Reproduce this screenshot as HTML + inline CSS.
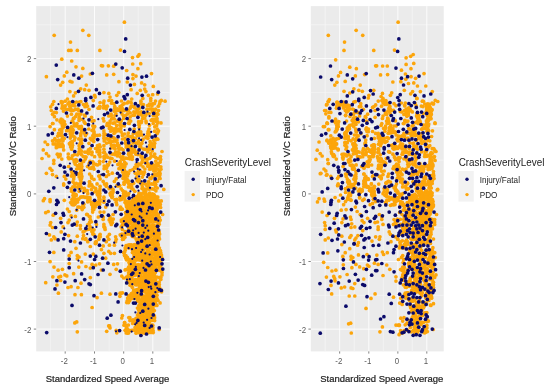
<!DOCTYPE html>
<html><head><meta charset="utf-8"><title>Crash severity scatter plots</title>
<style>
html,body{margin:0;padding:0;background:#fff}
svg{display:block}
text{font-family:"Liberation Sans",sans-serif}
.tk text{font-size:9.2px;fill:#595959}
.ax{font-size:9.1px;fill:#1f1f1f;stroke:#1f1f1f;stroke-width:0.22px}
.lt{font-size:10.6px;fill:#222}
.ll{font-size:9.2px;fill:#222}
</style></head><body>
<svg width="550" height="389" viewBox="0 0 550 389">
<rect width="550" height="389" fill="#fff"/>
<rect x="36.2" y="6.1" width="133.6" height="345.3" fill="#ebebeb"/>
<path d="M50.7 6.1V351.4M79.9 6.1V351.4M109.1 6.1V351.4M138.2 6.1V351.4M36.2 24.8H169.8M36.2 92.4H169.8M36.2 160.1H169.8M36.2 227.7H169.8M36.2 295.3H169.8" stroke="#f6f6f6" stroke-width="0.7" fill="none"/>
<path d="M65.2 6.1V351.4M94.5 6.1V351.4M123.7 6.1V351.4M152.8 6.1V351.4M36.2 58.6H169.8M36.2 126.2H169.8M36.2 193.9H169.8M36.2 261.5H169.8M36.2 329.1H169.8" stroke="#fcfcfc" stroke-width="1" fill="none"/>
<path d="M65.2 351.4v2.2M94.5 351.4v2.2M123.7 351.4v2.2M152.8 351.4v2.2M36.2 58.6h-2.4M36.2 126.2h-2.4M36.2 193.9h-2.4M36.2 261.5h-2.4M36.2 329.1h-2.4" stroke="#666" stroke-width="0.8" fill="none"/>
<g class="tk">
<text transform="translate(64.3 363.7) scale(0.86 1)" text-anchor="middle">-2</text>
<text transform="translate(93.5 363.7) scale(0.86 1)" text-anchor="middle">-1</text>
<text transform="translate(122.8 363.7) scale(0.86 1)" text-anchor="middle">0</text>
<text transform="translate(151.9 363.7) scale(0.86 1)" text-anchor="middle">1</text>
<text transform="translate(31.4 61.9) scale(0.86 1)" text-anchor="end">2</text>
<text transform="translate(31.4 129.6) scale(0.86 1)" text-anchor="end">1</text>
<text transform="translate(31.4 197.2) scale(0.86 1)" text-anchor="end">0</text>
<text transform="translate(31.4 264.9) scale(0.86 1)" text-anchor="end">-1</text>
<text transform="translate(31.4 332.5) scale(0.86 1)" text-anchor="end">-2</text>
</g>
<g fill="#fca50a"><circle cx="54.2" cy="35.3" r="1.85"/><circle cx="82.8" cy="30.3" r="1.85"/><circle cx="88.8" cy="35.3" r="1.85"/><circle cx="70.5" cy="42.1" r="1.85"/><circle cx="68.7" cy="50.4" r="1.85"/><circle cx="71.0" cy="50.4" r="1.85"/><circle cx="77.3" cy="50.4" r="1.85"/><circle cx="99.9" cy="50.4" r="1.85"/><circle cx="124.4" cy="22.2" r="1.85"/><circle cx="120.5" cy="50.1" r="1.85"/><circle cx="61.8" cy="59.2" r="1.85"/><circle cx="71.7" cy="61.0" r="1.85"/><circle cx="76.0" cy="66.8" r="1.85"/><circle cx="82.8" cy="68.4" r="1.85"/><circle cx="66.8" cy="72.2" r="1.85"/><circle cx="64.3" cy="75.9" r="1.85"/><circle cx="46.4" cy="76.7" r="1.85"/><circle cx="90.3" cy="74.0" r="1.85"/><circle cx="81.6" cy="76.1" r="1.85"/><circle cx="70.1" cy="81.3" r="1.85"/><circle cx="72.0" cy="82.0" r="1.85"/><circle cx="62.7" cy="82.3" r="1.85"/><circle cx="60.6" cy="85.1" r="1.85"/><circle cx="86.3" cy="85.1" r="1.85"/><circle cx="80.7" cy="88.8" r="1.85"/><circle cx="84.7" cy="89.7" r="1.85"/><circle cx="89.0" cy="90.3" r="1.85"/><circle cx="69.9" cy="91.6" r="1.85"/><circle cx="75.4" cy="92.8" r="1.85"/><circle cx="73.6" cy="95.9" r="1.85"/><circle cx="94.6" cy="95.3" r="1.85"/><circle cx="95.2" cy="97.1" r="1.85"/><circle cx="67.4" cy="99.0" r="1.85"/><circle cx="101.4" cy="65.6" r="1.85"/><circle cx="139.1" cy="54.7" r="1.85"/><circle cx="137.9" cy="56.3" r="1.85"/><circle cx="132.5" cy="57.6" r="1.85"/><circle cx="132.7" cy="64.0" r="1.85"/><circle cx="140.7" cy="63.7" r="1.85"/><circle cx="102.6" cy="65.8" r="1.85"/><circle cx="108.4" cy="65.8" r="1.85"/><circle cx="113.7" cy="66.2" r="1.85"/><circle cx="137.9" cy="68.7" r="1.85"/><circle cx="126.7" cy="70.5" r="1.85"/><circle cx="106.7" cy="74.9" r="1.85"/><circle cx="113.7" cy="74.3" r="1.85"/><circle cx="151.5" cy="73.6" r="1.85"/><circle cx="132.9" cy="74.6" r="1.85"/><circle cx="136.0" cy="76.1" r="1.85"/><circle cx="132.9" cy="78.6" r="1.85"/><circle cx="118.9" cy="81.7" r="1.85"/><circle cx="127.3" cy="82.0" r="1.85"/><circle cx="141.6" cy="82.9" r="1.85"/><circle cx="144.7" cy="84.8" r="1.85"/><circle cx="134.4" cy="84.4" r="1.85"/><circle cx="153.3" cy="86.4" r="1.85"/><circle cx="131.1" cy="89.7" r="1.85"/><circle cx="144.7" cy="89.1" r="1.85"/><circle cx="145.9" cy="91.6" r="1.85"/><circle cx="140.3" cy="90.3" r="1.85"/><circle cx="137.2" cy="93.4" r="1.85"/><circle cx="103.9" cy="92.6" r="1.85"/><circle cx="108.8" cy="93.4" r="1.85"/><circle cx="118.7" cy="92.6" r="1.85"/><circle cx="116.8" cy="95.3" r="1.85"/><circle cx="110.0" cy="97.1" r="1.85"/><circle cx="148.4" cy="95.3" r="1.85"/><circle cx="152.7" cy="94.7" r="1.85"/><circle cx="157.6" cy="94.0" r="1.85"/><circle cx="142.8" cy="98.4" r="1.85"/><circle cx="150.8" cy="98.4" r="1.85"/><circle cx="131.7" cy="99.0" r="1.85"/><circle cx="53.8" cy="101.5" r="1.85"/><circle cx="61.2" cy="101.7" r="1.85"/><circle cx="62.6" cy="102.1" r="1.85"/><circle cx="65.2" cy="101.2" r="1.85"/><circle cx="69.1" cy="102.1" r="1.85"/><circle cx="76.5" cy="102.0" r="1.85"/><circle cx="79.4" cy="102.1" r="1.85"/><circle cx="80.9" cy="101.7" r="1.85"/><circle cx="93.3" cy="100.6" r="1.85"/><circle cx="100.1" cy="102.5" r="1.85"/><circle cx="52.5" cy="104.3" r="1.85"/><circle cx="61.8" cy="103.1" r="1.85"/><circle cx="67.9" cy="103.9" r="1.85"/><circle cx="69.7" cy="103.2" r="1.85"/><circle cx="74.2" cy="103.2" r="1.85"/><circle cx="83.5" cy="104.6" r="1.85"/><circle cx="86.4" cy="103.6" r="1.85"/><circle cx="50.7" cy="106.8" r="1.85"/><circle cx="62.4" cy="105.9" r="1.85"/><circle cx="65.2" cy="105.9" r="1.85"/><circle cx="69.8" cy="106.3" r="1.85"/><circle cx="72.6" cy="105.4" r="1.85"/><circle cx="74.9" cy="106.0" r="1.85"/><circle cx="85.0" cy="106.7" r="1.85"/><circle cx="86.5" cy="106.4" r="1.85"/><circle cx="87.5" cy="106.0" r="1.85"/><circle cx="99.7" cy="106.5" r="1.85"/><circle cx="99.9" cy="106.5" r="1.85"/><circle cx="62.0" cy="108.2" r="1.85"/><circle cx="64.4" cy="107.9" r="1.85"/><circle cx="66.4" cy="109.3" r="1.85"/><circle cx="68.6" cy="109.4" r="1.85"/><circle cx="70.7" cy="108.6" r="1.85"/><circle cx="75.6" cy="109.4" r="1.85"/><circle cx="78.0" cy="109.0" r="1.85"/><circle cx="89.0" cy="109.3" r="1.85"/><circle cx="98.1" cy="108.2" r="1.85"/><circle cx="99.6" cy="108.2" r="1.85"/><circle cx="51.3" cy="110.5" r="1.85"/><circle cx="54.4" cy="112.4" r="1.85"/><circle cx="63.4" cy="111.1" r="1.85"/><circle cx="70.8" cy="110.5" r="1.85"/><circle cx="73.2" cy="110.4" r="1.85"/><circle cx="78.7" cy="110.5" r="1.85"/><circle cx="52.5" cy="114.2" r="1.85"/><circle cx="56.3" cy="112.6" r="1.85"/><circle cx="71.4" cy="114.2" r="1.85"/><circle cx="76.8" cy="114.2" r="1.85"/><circle cx="79.1" cy="114.1" r="1.85"/><circle cx="80.9" cy="114.1" r="1.85"/><circle cx="54.4" cy="116.7" r="1.85"/><circle cx="67.4" cy="116.1" r="1.85"/><circle cx="75.6" cy="116.5" r="1.85"/><circle cx="79.2" cy="116.9" r="1.85"/><circle cx="84.4" cy="115.1" r="1.85"/><circle cx="85.2" cy="116.0" r="1.85"/><circle cx="91.5" cy="117.3" r="1.85"/><circle cx="56.9" cy="119.8" r="1.85"/><circle cx="52.5" cy="123.5" r="1.85"/><circle cx="61.1" cy="119.2" r="1.85"/><circle cx="62.6" cy="120.0" r="1.85"/><circle cx="73.4" cy="118.4" r="1.85"/><circle cx="73.9" cy="118.4" r="1.85"/><circle cx="79.2" cy="118.4" r="1.85"/><circle cx="82.6" cy="119.4" r="1.85"/><circle cx="60.1" cy="121.5" r="1.85"/><circle cx="64.3" cy="121.5" r="1.85"/><circle cx="72.1" cy="121.0" r="1.85"/><circle cx="72.7" cy="121.3" r="1.85"/><circle cx="79.1" cy="120.4" r="1.85"/><circle cx="84.1" cy="121.8" r="1.85"/><circle cx="92.3" cy="121.2" r="1.85"/><circle cx="94.0" cy="120.7" r="1.85"/><circle cx="52.9" cy="123.5" r="1.85"/><circle cx="61.2" cy="122.9" r="1.85"/><circle cx="62.9" cy="123.0" r="1.85"/><circle cx="64.9" cy="124.3" r="1.85"/><circle cx="74.2" cy="123.9" r="1.85"/><circle cx="76.9" cy="123.6" r="1.85"/><circle cx="85.1" cy="123.3" r="1.85"/><circle cx="50.1" cy="126.6" r="1.85"/><circle cx="62.3" cy="125.7" r="1.85"/><circle cx="63.9" cy="126.5" r="1.85"/><circle cx="71.5" cy="126.8" r="1.85"/><circle cx="74.4" cy="125.9" r="1.85"/><circle cx="77.0" cy="126.1" r="1.85"/><circle cx="79.3" cy="126.6" r="1.85"/><circle cx="81.3" cy="126.4" r="1.85"/><circle cx="92.8" cy="125.9" r="1.85"/><circle cx="94.7" cy="126.4" r="1.85"/><circle cx="54.4" cy="129.7" r="1.85"/><circle cx="61.0" cy="129.3" r="1.85"/><circle cx="62.9" cy="127.9" r="1.85"/><circle cx="70.7" cy="129.2" r="1.85"/><circle cx="72.5" cy="129.1" r="1.85"/><circle cx="79.1" cy="128.3" r="1.85"/><circle cx="81.6" cy="127.7" r="1.85"/><circle cx="88.8" cy="129.0" r="1.85"/><circle cx="93.6" cy="128.6" r="1.85"/><circle cx="59.7" cy="130.0" r="1.85"/><circle cx="61.7" cy="130.9" r="1.85"/><circle cx="66.6" cy="130.7" r="1.85"/><circle cx="68.0" cy="130.5" r="1.85"/><circle cx="70.2" cy="131.6" r="1.85"/><circle cx="73.2" cy="130.2" r="1.85"/><circle cx="81.6" cy="130.7" r="1.85"/><circle cx="82.8" cy="130.5" r="1.85"/><circle cx="84.1" cy="131.2" r="1.85"/><circle cx="92.0" cy="130.5" r="1.85"/><circle cx="94.0" cy="131.7" r="1.85"/><circle cx="58.5" cy="133.4" r="1.85"/><circle cx="61.6" cy="133.1" r="1.85"/><circle cx="70.3" cy="133.7" r="1.85"/><circle cx="71.1" cy="133.6" r="1.85"/><circle cx="72.9" cy="132.8" r="1.85"/><circle cx="80.9" cy="133.7" r="1.85"/><circle cx="84.1" cy="133.1" r="1.85"/><circle cx="86.6" cy="133.6" r="1.85"/><circle cx="94.0" cy="133.4" r="1.85"/><circle cx="57.7" cy="136.1" r="1.85"/><circle cx="60.1" cy="135.3" r="1.85"/><circle cx="62.4" cy="136.2" r="1.85"/><circle cx="70.9" cy="135.9" r="1.85"/><circle cx="72.2" cy="135.4" r="1.85"/><circle cx="73.9" cy="136.5" r="1.85"/><circle cx="80.7" cy="135.9" r="1.85"/><circle cx="85.4" cy="135.6" r="1.85"/><circle cx="92.8" cy="135.7" r="1.85"/><circle cx="95.5" cy="135.6" r="1.85"/><circle cx="97.2" cy="135.4" r="1.85"/><circle cx="99.5" cy="135.2" r="1.85"/><circle cx="54.9" cy="138.7" r="1.85"/><circle cx="62.0" cy="138.9" r="1.85"/><circle cx="64.3" cy="138.5" r="1.85"/><circle cx="70.3" cy="138.1" r="1.85"/><circle cx="75.0" cy="137.8" r="1.85"/><circle cx="78.8" cy="138.9" r="1.85"/><circle cx="81.8" cy="139.1" r="1.85"/><circle cx="90.3" cy="138.4" r="1.85"/><circle cx="92.2" cy="139.2" r="1.85"/><circle cx="94.0" cy="138.0" r="1.85"/><circle cx="45.1" cy="142.0" r="1.85"/><circle cx="52.5" cy="140.8" r="1.85"/><circle cx="54.5" cy="139.9" r="1.85"/><circle cx="56.6" cy="140.8" r="1.85"/><circle cx="58.5" cy="140.2" r="1.85"/><circle cx="60.2" cy="140.8" r="1.85"/><circle cx="63.0" cy="140.7" r="1.85"/><circle cx="72.0" cy="141.6" r="1.85"/><circle cx="74.4" cy="140.1" r="1.85"/><circle cx="80.9" cy="141.0" r="1.85"/><circle cx="81.0" cy="140.5" r="1.85"/><circle cx="91.4" cy="140.0" r="1.85"/><circle cx="93.8" cy="141.6" r="1.85"/><circle cx="47.6" cy="144.5" r="1.85"/><circle cx="53.2" cy="143.9" r="1.85"/><circle cx="55.1" cy="143.9" r="1.85"/><circle cx="57.9" cy="143.7" r="1.85"/><circle cx="59.4" cy="143.8" r="1.85"/><circle cx="62.1" cy="143.9" r="1.85"/><circle cx="69.4" cy="143.7" r="1.85"/><circle cx="70.7" cy="142.4" r="1.85"/><circle cx="72.3" cy="142.7" r="1.85"/><circle cx="80.2" cy="143.3" r="1.85"/><circle cx="81.6" cy="143.3" r="1.85"/><circle cx="89.0" cy="143.3" r="1.85"/><circle cx="56.4" cy="146.0" r="1.85"/><circle cx="58.6" cy="146.2" r="1.85"/><circle cx="60.4" cy="146.5" r="1.85"/><circle cx="63.1" cy="145.5" r="1.85"/><circle cx="56.3" cy="147.7" r="1.85"/><circle cx="58.3" cy="146.7" r="1.85"/><circle cx="63.1" cy="147.0" r="1.85"/><circle cx="70.6" cy="145.2" r="1.85"/><circle cx="72.5" cy="145.2" r="1.85"/><circle cx="70.6" cy="147.0" r="1.85"/><circle cx="72.3" cy="146.9" r="1.85"/><circle cx="79.1" cy="145.7" r="1.85"/><circle cx="97.5" cy="145.7" r="1.85"/><circle cx="99.5" cy="144.9" r="1.85"/><circle cx="97.8" cy="147.4" r="1.85"/><circle cx="100.2" cy="146.8" r="1.85"/><circle cx="165.1" cy="101.2" r="1.85"/><circle cx="104.0" cy="101.1" r="1.85"/><circle cx="108.9" cy="100.5" r="1.85"/><circle cx="111.7" cy="100.6" r="1.85"/><circle cx="121.5" cy="101.0" r="1.85"/><circle cx="128.3" cy="101.8" r="1.85"/><circle cx="130.8" cy="102.0" r="1.85"/><circle cx="140.9" cy="101.2" r="1.85"/><circle cx="150.8" cy="100.8" r="1.85"/><circle cx="155.5" cy="101.0" r="1.85"/><circle cx="160.1" cy="101.4" r="1.85"/><circle cx="161.3" cy="100.4" r="1.85"/><circle cx="103.6" cy="103.1" r="1.85"/><circle cx="111.6" cy="103.2" r="1.85"/><circle cx="114.0" cy="103.7" r="1.85"/><circle cx="122.9" cy="104.5" r="1.85"/><circle cx="124.2" cy="103.4" r="1.85"/><circle cx="127.2" cy="103.0" r="1.85"/><circle cx="131.2" cy="103.0" r="1.85"/><circle cx="141.0" cy="103.4" r="1.85"/><circle cx="143.4" cy="104.5" r="1.85"/><circle cx="149.5" cy="104.1" r="1.85"/><circle cx="152.5" cy="103.8" r="1.85"/><circle cx="154.4" cy="103.6" r="1.85"/><circle cx="159.6" cy="103.7" r="1.85"/><circle cx="103.8" cy="105.6" r="1.85"/><circle cx="105.8" cy="106.6" r="1.85"/><circle cx="107.3" cy="106.2" r="1.85"/><circle cx="114.8" cy="106.6" r="1.85"/><circle cx="120.1" cy="106.5" r="1.85"/><circle cx="121.8" cy="105.7" r="1.85"/><circle cx="131.0" cy="106.4" r="1.85"/><circle cx="132.4" cy="106.1" r="1.85"/><circle cx="133.7" cy="106.6" r="1.85"/><circle cx="142.2" cy="105.9" r="1.85"/><circle cx="147.6" cy="105.5" r="1.85"/><circle cx="149.1" cy="105.4" r="1.85"/><circle cx="152.0" cy="105.7" r="1.85"/><circle cx="158.3" cy="106.2" r="1.85"/><circle cx="103.6" cy="108.0" r="1.85"/><circle cx="106.3" cy="108.8" r="1.85"/><circle cx="114.7" cy="108.2" r="1.85"/><circle cx="117.2" cy="108.8" r="1.85"/><circle cx="120.1" cy="108.8" r="1.85"/><circle cx="122.5" cy="108.7" r="1.85"/><circle cx="130.3" cy="108.1" r="1.85"/><circle cx="134.7" cy="107.8" r="1.85"/><circle cx="137.0" cy="109.4" r="1.85"/><circle cx="139.1" cy="108.6" r="1.85"/><circle cx="147.0" cy="109.2" r="1.85"/><circle cx="149.5" cy="109.1" r="1.85"/><circle cx="151.3" cy="108.8" r="1.85"/><circle cx="153.1" cy="109.3" r="1.85"/><circle cx="155.7" cy="109.2" r="1.85"/><circle cx="114.3" cy="111.2" r="1.85"/><circle cx="117.2" cy="110.4" r="1.85"/><circle cx="119.3" cy="110.4" r="1.85"/><circle cx="121.9" cy="111.0" r="1.85"/><circle cx="124.2" cy="110.6" r="1.85"/><circle cx="127.0" cy="110.8" r="1.85"/><circle cx="128.4" cy="110.6" r="1.85"/><circle cx="133.8" cy="111.8" r="1.85"/><circle cx="136.1" cy="111.9" r="1.85"/><circle cx="138.3" cy="111.9" r="1.85"/><circle cx="141.2" cy="111.9" r="1.85"/><circle cx="152.3" cy="111.6" r="1.85"/><circle cx="154.7" cy="111.9" r="1.85"/><circle cx="158.5" cy="110.6" r="1.85"/><circle cx="111.1" cy="114.0" r="1.85"/><circle cx="116.0" cy="113.9" r="1.85"/><circle cx="122.1" cy="114.0" r="1.85"/><circle cx="127.6" cy="114.0" r="1.85"/><circle cx="130.2" cy="112.9" r="1.85"/><circle cx="135.1" cy="113.0" r="1.85"/><circle cx="138.4" cy="114.5" r="1.85"/><circle cx="141.2" cy="114.3" r="1.85"/><circle cx="147.2" cy="113.0" r="1.85"/><circle cx="149.2" cy="113.5" r="1.85"/><circle cx="157.2" cy="113.7" r="1.85"/><circle cx="157.9" cy="114.2" r="1.85"/><circle cx="108.8" cy="116.0" r="1.85"/><circle cx="111.2" cy="115.7" r="1.85"/><circle cx="115.1" cy="115.2" r="1.85"/><circle cx="123.5" cy="116.1" r="1.85"/><circle cx="125.6" cy="115.3" r="1.85"/><circle cx="130.2" cy="116.9" r="1.85"/><circle cx="132.9" cy="115.2" r="1.85"/><circle cx="134.3" cy="115.2" r="1.85"/><circle cx="142.3" cy="115.8" r="1.85"/><circle cx="145.7" cy="115.3" r="1.85"/><circle cx="153.3" cy="115.6" r="1.85"/><circle cx="155.1" cy="115.6" r="1.85"/><circle cx="156.4" cy="115.9" r="1.85"/><circle cx="103.2" cy="118.5" r="1.85"/><circle cx="111.6" cy="118.9" r="1.85"/><circle cx="113.4" cy="118.1" r="1.85"/><circle cx="114.4" cy="119.0" r="1.85"/><circle cx="123.6" cy="118.5" r="1.85"/><circle cx="142.7" cy="118.6" r="1.85"/><circle cx="144.8" cy="118.1" r="1.85"/><circle cx="152.4" cy="119.3" r="1.85"/><circle cx="154.6" cy="119.3" r="1.85"/><circle cx="157.1" cy="118.7" r="1.85"/><circle cx="103.9" cy="121.0" r="1.85"/><circle cx="110.1" cy="121.1" r="1.85"/><circle cx="117.2" cy="121.1" r="1.85"/><circle cx="118.7" cy="120.9" r="1.85"/><circle cx="121.3" cy="120.9" r="1.85"/><circle cx="129.2" cy="120.4" r="1.85"/><circle cx="130.7" cy="121.1" r="1.85"/><circle cx="138.6" cy="121.7" r="1.85"/><circle cx="141.5" cy="121.2" r="1.85"/><circle cx="146.0" cy="121.0" r="1.85"/><circle cx="151.2" cy="120.3" r="1.85"/><circle cx="153.1" cy="121.0" r="1.85"/><circle cx="156.1" cy="121.3" r="1.85"/><circle cx="157.8" cy="121.8" r="1.85"/><circle cx="107.4" cy="123.3" r="1.85"/><circle cx="110.0" cy="123.1" r="1.85"/><circle cx="113.0" cy="123.2" r="1.85"/><circle cx="114.7" cy="122.8" r="1.85"/><circle cx="120.2" cy="122.7" r="1.85"/><circle cx="128.5" cy="123.0" r="1.85"/><circle cx="129.2" cy="123.5" r="1.85"/><circle cx="138.9" cy="124.1" r="1.85"/><circle cx="141.3" cy="122.6" r="1.85"/><circle cx="146.2" cy="122.7" r="1.85"/><circle cx="153.3" cy="123.5" r="1.85"/><circle cx="157.7" cy="123.0" r="1.85"/><circle cx="161.0" cy="122.9" r="1.85"/><circle cx="106.9" cy="125.4" r="1.85"/><circle cx="109.3" cy="126.2" r="1.85"/><circle cx="116.6" cy="125.4" r="1.85"/><circle cx="119.9" cy="125.2" r="1.85"/><circle cx="122.1" cy="125.8" r="1.85"/><circle cx="124.3" cy="125.8" r="1.85"/><circle cx="139.2" cy="125.6" r="1.85"/><circle cx="149.5" cy="125.2" r="1.85"/><circle cx="154.7" cy="126.8" r="1.85"/><circle cx="156.6" cy="125.7" r="1.85"/><circle cx="109.4" cy="128.4" r="1.85"/><circle cx="111.2" cy="127.6" r="1.85"/><circle cx="114.0" cy="128.9" r="1.85"/><circle cx="116.1" cy="128.5" r="1.85"/><circle cx="118.6" cy="129.0" r="1.85"/><circle cx="120.7" cy="128.6" r="1.85"/><circle cx="134.2" cy="129.1" r="1.85"/><circle cx="139.2" cy="127.8" r="1.85"/><circle cx="149.0" cy="129.1" r="1.85"/><circle cx="157.2" cy="129.0" r="1.85"/><circle cx="103.9" cy="130.9" r="1.85"/><circle cx="110.7" cy="131.2" r="1.85"/><circle cx="112.6" cy="130.2" r="1.85"/><circle cx="114.5" cy="130.3" r="1.85"/><circle cx="116.5" cy="130.9" r="1.85"/><circle cx="118.6" cy="130.7" r="1.85"/><circle cx="121.1" cy="131.8" r="1.85"/><circle cx="139.1" cy="131.6" r="1.85"/><circle cx="140.8" cy="131.8" r="1.85"/><circle cx="148.2" cy="131.3" r="1.85"/><circle cx="154.6" cy="131.2" r="1.85"/><circle cx="158.5" cy="130.8" r="1.85"/><circle cx="104.0" cy="133.4" r="1.85"/><circle cx="105.3" cy="134.3" r="1.85"/><circle cx="114.0" cy="133.3" r="1.85"/><circle cx="114.9" cy="132.6" r="1.85"/><circle cx="122.5" cy="134.0" r="1.85"/><circle cx="124.7" cy="134.0" r="1.85"/><circle cx="128.3" cy="133.1" r="1.85"/><circle cx="133.4" cy="133.3" r="1.85"/><circle cx="135.8" cy="133.1" r="1.85"/><circle cx="138.2" cy="133.2" r="1.85"/><circle cx="140.6" cy="133.7" r="1.85"/><circle cx="147.7" cy="133.5" r="1.85"/><circle cx="149.1" cy="132.9" r="1.85"/><circle cx="157.1" cy="133.6" r="1.85"/><circle cx="157.7" cy="132.6" r="1.85"/><circle cx="103.9" cy="135.9" r="1.85"/><circle cx="122.4" cy="135.5" r="1.85"/><circle cx="127.9" cy="135.9" r="1.85"/><circle cx="130.2" cy="136.5" r="1.85"/><circle cx="132.3" cy="136.2" r="1.85"/><circle cx="137.1" cy="135.8" r="1.85"/><circle cx="139.4" cy="135.3" r="1.85"/><circle cx="142.2" cy="135.1" r="1.85"/><circle cx="146.5" cy="136.5" r="1.85"/><circle cx="149.1" cy="135.4" r="1.85"/><circle cx="103.9" cy="138.3" r="1.85"/><circle cx="106.3" cy="138.6" r="1.85"/><circle cx="107.9" cy="139.2" r="1.85"/><circle cx="110.1" cy="138.2" r="1.85"/><circle cx="113.1" cy="137.5" r="1.85"/><circle cx="114.3" cy="138.3" r="1.85"/><circle cx="122.5" cy="139.0" r="1.85"/><circle cx="125.0" cy="138.0" r="1.85"/><circle cx="132.4" cy="138.5" r="1.85"/><circle cx="133.8" cy="138.1" r="1.85"/><circle cx="135.4" cy="138.6" r="1.85"/><circle cx="143.1" cy="139.1" r="1.85"/><circle cx="146.0" cy="137.6" r="1.85"/><circle cx="147.9" cy="138.3" r="1.85"/><circle cx="156.3" cy="138.4" r="1.85"/><circle cx="157.8" cy="139.2" r="1.85"/><circle cx="104.2" cy="140.9" r="1.85"/><circle cx="110.3" cy="140.9" r="1.85"/><circle cx="112.7" cy="141.3" r="1.85"/><circle cx="115.4" cy="141.2" r="1.85"/><circle cx="117.0" cy="140.0" r="1.85"/><circle cx="125.5" cy="140.8" r="1.85"/><circle cx="131.7" cy="140.8" r="1.85"/><circle cx="138.6" cy="140.5" r="1.85"/><circle cx="142.4" cy="140.3" r="1.85"/><circle cx="150.1" cy="141.6" r="1.85"/><circle cx="153.6" cy="140.3" r="1.85"/><circle cx="155.3" cy="140.0" r="1.85"/><circle cx="106.5" cy="143.1" r="1.85"/><circle cx="109.0" cy="142.5" r="1.85"/><circle cx="110.7" cy="142.7" r="1.85"/><circle cx="117.5" cy="143.0" r="1.85"/><circle cx="125.5" cy="143.3" r="1.85"/><circle cx="133.3" cy="142.8" r="1.85"/><circle cx="135.9" cy="142.8" r="1.85"/><circle cx="137.6" cy="143.6" r="1.85"/><circle cx="139.6" cy="143.7" r="1.85"/><circle cx="141.9" cy="143.3" r="1.85"/><circle cx="151.1" cy="143.5" r="1.85"/><circle cx="152.2" cy="143.8" r="1.85"/><circle cx="154.7" cy="143.3" r="1.85"/><circle cx="103.9" cy="145.7" r="1.85"/><circle cx="111.5" cy="145.3" r="1.85"/><circle cx="114.0" cy="145.2" r="1.85"/><circle cx="116.6" cy="145.5" r="1.85"/><circle cx="119.0" cy="145.7" r="1.85"/><circle cx="111.1" cy="148.0" r="1.85"/><circle cx="114.0" cy="147.8" r="1.85"/><circle cx="118.5" cy="148.2" r="1.85"/><circle cx="126.3" cy="145.8" r="1.85"/><circle cx="128.2" cy="145.7" r="1.85"/><circle cx="130.5" cy="145.2" r="1.85"/><circle cx="131.7" cy="146.2" r="1.85"/><circle cx="126.4" cy="147.2" r="1.85"/><circle cx="128.6" cy="147.7" r="1.85"/><circle cx="130.5" cy="148.0" r="1.85"/><circle cx="131.9" cy="146.7" r="1.85"/><circle cx="140.1" cy="146.2" r="1.85"/><circle cx="140.6" cy="145.7" r="1.85"/><circle cx="140.0" cy="147.1" r="1.85"/><circle cx="140.9" cy="147.7" r="1.85"/><circle cx="149.7" cy="145.0" r="1.85"/><circle cx="151.9" cy="146.2" r="1.85"/><circle cx="154.0" cy="145.6" r="1.85"/><circle cx="149.5" cy="147.4" r="1.85"/><circle cx="151.7" cy="146.8" r="1.85"/><circle cx="154.3" cy="147.1" r="1.85"/><circle cx="43.3" cy="149.9" r="1.85"/><circle cx="46.4" cy="153.6" r="1.85"/><circle cx="48.8" cy="156.0" r="1.85"/><circle cx="42.0" cy="158.5" r="1.85"/><circle cx="53.8" cy="160.4" r="1.85"/><circle cx="53.8" cy="163.5" r="1.85"/><circle cx="50.1" cy="168.4" r="1.85"/><circle cx="51.9" cy="170.3" r="1.85"/><circle cx="46.4" cy="173.3" r="1.85"/><circle cx="52.5" cy="174.6" r="1.85"/><circle cx="56.3" cy="176.4" r="1.85"/><circle cx="63.7" cy="185.1" r="1.85"/><circle cx="63.7" cy="149.9" r="1.85"/><circle cx="71.7" cy="149.2" r="1.85"/><circle cx="79.3" cy="148.6" r="1.85"/><circle cx="79.8" cy="149.3" r="1.85"/><circle cx="88.4" cy="149.9" r="1.85"/><circle cx="90.3" cy="148.5" r="1.85"/><circle cx="95.6" cy="148.5" r="1.85"/><circle cx="97.5" cy="149.1" r="1.85"/><circle cx="99.7" cy="150.1" r="1.85"/><circle cx="79.0" cy="151.8" r="1.85"/><circle cx="81.6" cy="151.2" r="1.85"/><circle cx="84.8" cy="152.1" r="1.85"/><circle cx="86.7" cy="152.1" r="1.85"/><circle cx="89.4" cy="151.6" r="1.85"/><circle cx="92.0" cy="152.2" r="1.85"/><circle cx="97.1" cy="151.7" r="1.85"/><circle cx="99.8" cy="152.4" r="1.85"/><circle cx="57.3" cy="154.2" r="1.85"/><circle cx="58.7" cy="154.7" r="1.85"/><circle cx="60.1" cy="154.3" r="1.85"/><circle cx="68.3" cy="154.0" r="1.85"/><circle cx="74.5" cy="154.6" r="1.85"/><circle cx="77.5" cy="154.8" r="1.85"/><circle cx="79.1" cy="153.4" r="1.85"/><circle cx="81.5" cy="154.6" r="1.85"/><circle cx="88.4" cy="153.6" r="1.85"/><circle cx="91.8" cy="154.6" r="1.85"/><circle cx="99.1" cy="154.6" r="1.85"/><circle cx="99.6" cy="154.3" r="1.85"/><circle cx="58.5" cy="156.8" r="1.85"/><circle cx="60.0" cy="156.0" r="1.85"/><circle cx="68.3" cy="157.3" r="1.85"/><circle cx="72.3" cy="155.9" r="1.85"/><circle cx="83.3" cy="156.5" r="1.85"/><circle cx="85.2" cy="156.9" r="1.85"/><circle cx="86.1" cy="157.0" r="1.85"/><circle cx="94.6" cy="156.7" r="1.85"/><circle cx="100.1" cy="156.7" r="1.85"/><circle cx="61.8" cy="159.1" r="1.85"/><circle cx="68.9" cy="158.7" r="1.85"/><circle cx="71.4" cy="158.3" r="1.85"/><circle cx="73.9" cy="160.0" r="1.85"/><circle cx="76.1" cy="159.7" r="1.85"/><circle cx="85.3" cy="159.1" r="1.85"/><circle cx="74.3" cy="162.1" r="1.85"/><circle cx="76.9" cy="161.3" r="1.85"/><circle cx="81.8" cy="161.3" r="1.85"/><circle cx="83.6" cy="161.4" r="1.85"/><circle cx="90.0" cy="161.3" r="1.85"/><circle cx="92.9" cy="161.8" r="1.85"/><circle cx="99.5" cy="161.3" r="1.85"/><circle cx="75.3" cy="164.2" r="1.85"/><circle cx="79.6" cy="164.4" r="1.85"/><circle cx="81.6" cy="164.1" r="1.85"/><circle cx="89.1" cy="163.7" r="1.85"/><circle cx="93.5" cy="163.4" r="1.85"/><circle cx="95.7" cy="164.3" r="1.85"/><circle cx="97.4" cy="165.0" r="1.85"/><circle cx="99.6" cy="163.8" r="1.85"/><circle cx="68.6" cy="166.5" r="1.85"/><circle cx="77.3" cy="165.9" r="1.85"/><circle cx="79.1" cy="166.1" r="1.85"/><circle cx="81.8" cy="166.4" r="1.85"/><circle cx="87.5" cy="166.5" r="1.85"/><circle cx="92.2" cy="167.3" r="1.85"/><circle cx="93.3" cy="166.9" r="1.85"/><circle cx="76.7" cy="169.0" r="1.85"/><circle cx="78.9" cy="168.4" r="1.85"/><circle cx="81.5" cy="168.3" r="1.85"/><circle cx="89.7" cy="168.2" r="1.85"/><circle cx="91.2" cy="168.3" r="1.85"/><circle cx="94.0" cy="169.1" r="1.85"/><circle cx="71.7" cy="171.5" r="1.85"/><circle cx="80.8" cy="171.5" r="1.85"/><circle cx="81.5" cy="170.7" r="1.85"/><circle cx="72.1" cy="174.0" r="1.85"/><circle cx="73.8" cy="173.2" r="1.85"/><circle cx="77.1" cy="173.8" r="1.85"/><circle cx="79.1" cy="173.8" r="1.85"/><circle cx="81.4" cy="174.1" r="1.85"/><circle cx="89.6" cy="174.0" r="1.85"/><circle cx="64.3" cy="176.4" r="1.85"/><circle cx="71.4" cy="176.1" r="1.85"/><circle cx="74.0" cy="176.4" r="1.85"/><circle cx="79.2" cy="176.9" r="1.85"/><circle cx="81.9" cy="176.4" r="1.85"/><circle cx="91.5" cy="176.4" r="1.85"/><circle cx="98.8" cy="176.1" r="1.85"/><circle cx="99.5" cy="176.0" r="1.85"/><circle cx="65.8" cy="179.1" r="1.85"/><circle cx="73.7" cy="178.9" r="1.85"/><circle cx="80.3" cy="179.6" r="1.85"/><circle cx="81.5" cy="178.6" r="1.85"/><circle cx="91.6" cy="178.1" r="1.85"/><circle cx="94.0" cy="179.4" r="1.85"/><circle cx="100.1" cy="178.9" r="1.85"/><circle cx="73.0" cy="181.8" r="1.85"/><circle cx="81.1" cy="181.6" r="1.85"/><circle cx="89.4" cy="181.8" r="1.85"/><circle cx="89.7" cy="181.9" r="1.85"/><circle cx="63.7" cy="183.9" r="1.85"/><circle cx="74.4" cy="183.6" r="1.85"/><circle cx="76.2" cy="183.3" r="1.85"/><circle cx="78.4" cy="184.2" r="1.85"/><circle cx="80.6" cy="183.3" r="1.85"/><circle cx="89.6" cy="184.4" r="1.85"/><circle cx="91.5" cy="184.7" r="1.85"/><circle cx="97.1" cy="183.9" r="1.85"/><circle cx="72.8" cy="186.8" r="1.85"/><circle cx="74.8" cy="186.5" r="1.85"/><circle cx="77.1" cy="187.0" r="1.85"/><circle cx="79.3" cy="185.7" r="1.85"/><circle cx="81.1" cy="186.9" r="1.85"/><circle cx="89.1" cy="186.0" r="1.85"/><circle cx="91.9" cy="185.9" r="1.85"/><circle cx="93.3" cy="187.1" r="1.85"/><circle cx="100.1" cy="186.3" r="1.85"/><circle cx="71.1" cy="188.8" r="1.85"/><circle cx="79.1" cy="188.6" r="1.85"/><circle cx="81.4" cy="188.1" r="1.85"/><circle cx="84.3" cy="188.3" r="1.85"/><circle cx="91.4" cy="189.6" r="1.85"/><circle cx="95.7" cy="188.4" r="1.85"/><circle cx="100.0" cy="188.9" r="1.85"/><circle cx="71.7" cy="191.3" r="1.85"/><circle cx="79.2" cy="191.3" r="1.85"/><circle cx="83.9" cy="191.7" r="1.85"/><circle cx="85.1" cy="190.8" r="1.85"/><circle cx="87.3" cy="190.7" r="1.85"/><circle cx="94.6" cy="192.0" r="1.85"/><circle cx="96.1" cy="190.6" r="1.85"/><circle cx="97.6" cy="192.0" r="1.85"/><circle cx="99.7" cy="190.9" r="1.85"/><circle cx="73.6" cy="193.2" r="1.85"/><circle cx="74.6" cy="194.0" r="1.85"/><circle cx="76.1" cy="194.5" r="1.85"/><circle cx="73.0" cy="195.3" r="1.85"/><circle cx="74.9" cy="195.2" r="1.85"/><circle cx="76.1" cy="195.7" r="1.85"/><circle cx="87.8" cy="193.7" r="1.85"/><circle cx="97.4" cy="194.4" r="1.85"/><circle cx="99.8" cy="193.2" r="1.85"/><circle cx="97.7" cy="194.9" r="1.85"/><circle cx="99.8" cy="195.7" r="1.85"/><circle cx="162.0" cy="151.5" r="1.85"/><circle cx="163.8" cy="189.4" r="1.85"/><circle cx="103.9" cy="149.2" r="1.85"/><circle cx="115.1" cy="148.9" r="1.85"/><circle cx="119.6" cy="149.1" r="1.85"/><circle cx="121.4" cy="148.6" r="1.85"/><circle cx="123.1" cy="149.9" r="1.85"/><circle cx="132.5" cy="149.0" r="1.85"/><circle cx="134.6" cy="149.9" r="1.85"/><circle cx="143.5" cy="149.0" r="1.85"/><circle cx="145.1" cy="149.3" r="1.85"/><circle cx="147.5" cy="149.1" r="1.85"/><circle cx="149.4" cy="149.6" r="1.85"/><circle cx="103.7" cy="152.6" r="1.85"/><circle cx="104.5" cy="152.4" r="1.85"/><circle cx="115.5" cy="152.2" r="1.85"/><circle cx="118.1" cy="151.8" r="1.85"/><circle cx="129.1" cy="152.3" r="1.85"/><circle cx="131.3" cy="150.9" r="1.85"/><circle cx="132.5" cy="152.2" r="1.85"/><circle cx="135.2" cy="152.2" r="1.85"/><circle cx="137.5" cy="152.0" r="1.85"/><circle cx="147.7" cy="151.8" r="1.85"/><circle cx="152.3" cy="151.0" r="1.85"/><circle cx="106.1" cy="154.8" r="1.85"/><circle cx="110.5" cy="153.7" r="1.85"/><circle cx="112.7" cy="154.2" r="1.85"/><circle cx="115.0" cy="154.6" r="1.85"/><circle cx="117.7" cy="154.7" r="1.85"/><circle cx="119.9" cy="153.3" r="1.85"/><circle cx="128.5" cy="154.2" r="1.85"/><circle cx="130.9" cy="154.3" r="1.85"/><circle cx="135.9" cy="154.2" r="1.85"/><circle cx="138.0" cy="154.6" r="1.85"/><circle cx="141.0" cy="154.8" r="1.85"/><circle cx="150.8" cy="153.7" r="1.85"/><circle cx="154.7" cy="154.1" r="1.85"/><circle cx="103.9" cy="156.7" r="1.85"/><circle cx="105.5" cy="156.4" r="1.85"/><circle cx="107.6" cy="157.2" r="1.85"/><circle cx="117.4" cy="155.9" r="1.85"/><circle cx="120.3" cy="156.8" r="1.85"/><circle cx="122.9" cy="156.5" r="1.85"/><circle cx="129.8" cy="156.4" r="1.85"/><circle cx="132.5" cy="156.9" r="1.85"/><circle cx="141.1" cy="156.9" r="1.85"/><circle cx="142.1" cy="156.9" r="1.85"/><circle cx="151.0" cy="156.7" r="1.85"/><circle cx="153.7" cy="156.1" r="1.85"/><circle cx="155.6" cy="157.3" r="1.85"/><circle cx="160.5" cy="156.6" r="1.85"/><circle cx="104.3" cy="158.6" r="1.85"/><circle cx="110.3" cy="158.2" r="1.85"/><circle cx="112.0" cy="158.6" r="1.85"/><circle cx="121.8" cy="159.0" r="1.85"/><circle cx="123.3" cy="159.4" r="1.85"/><circle cx="125.8" cy="158.2" r="1.85"/><circle cx="127.8" cy="158.3" r="1.85"/><circle cx="129.8" cy="158.8" r="1.85"/><circle cx="132.2" cy="159.3" r="1.85"/><circle cx="142.4" cy="159.8" r="1.85"/><circle cx="144.8" cy="158.3" r="1.85"/><circle cx="147.4" cy="159.2" r="1.85"/><circle cx="149.7" cy="158.3" r="1.85"/><circle cx="158.0" cy="158.7" r="1.85"/><circle cx="160.7" cy="159.4" r="1.85"/><circle cx="103.2" cy="161.6" r="1.85"/><circle cx="109.8" cy="162.1" r="1.85"/><circle cx="114.7" cy="161.2" r="1.85"/><circle cx="120.2" cy="161.7" r="1.85"/><circle cx="124.6" cy="162.0" r="1.85"/><circle cx="141.9" cy="162.4" r="1.85"/><circle cx="145.1" cy="162.0" r="1.85"/><circle cx="147.0" cy="162.5" r="1.85"/><circle cx="155.7" cy="161.2" r="1.85"/><circle cx="160.2" cy="162.1" r="1.85"/><circle cx="107.4" cy="164.5" r="1.85"/><circle cx="108.5" cy="164.8" r="1.85"/><circle cx="117.9" cy="164.4" r="1.85"/><circle cx="119.3" cy="163.7" r="1.85"/><circle cx="121.7" cy="164.4" r="1.85"/><circle cx="124.1" cy="164.8" r="1.85"/><circle cx="126.1" cy="163.8" r="1.85"/><circle cx="136.2" cy="164.5" r="1.85"/><circle cx="138.5" cy="163.8" r="1.85"/><circle cx="140.8" cy="164.8" r="1.85"/><circle cx="145.9" cy="163.5" r="1.85"/><circle cx="148.3" cy="164.9" r="1.85"/><circle cx="150.9" cy="164.7" r="1.85"/><circle cx="152.9" cy="164.7" r="1.85"/><circle cx="156.1" cy="164.5" r="1.85"/><circle cx="158.0" cy="163.5" r="1.85"/><circle cx="104.2" cy="166.0" r="1.85"/><circle cx="105.8" cy="167.1" r="1.85"/><circle cx="107.2" cy="166.2" r="1.85"/><circle cx="120.5" cy="166.8" r="1.85"/><circle cx="122.5" cy="166.4" r="1.85"/><circle cx="124.8" cy="166.6" r="1.85"/><circle cx="134.7" cy="167.4" r="1.85"/><circle cx="137.8" cy="166.1" r="1.85"/><circle cx="143.0" cy="166.8" r="1.85"/><circle cx="147.8" cy="166.3" r="1.85"/><circle cx="150.3" cy="166.8" r="1.85"/><circle cx="153.3" cy="165.8" r="1.85"/><circle cx="155.9" cy="166.8" r="1.85"/><circle cx="158.3" cy="165.7" r="1.85"/><circle cx="160.8" cy="166.8" r="1.85"/><circle cx="104.1" cy="168.7" r="1.85"/><circle cx="106.3" cy="168.3" r="1.85"/><circle cx="118.9" cy="168.6" r="1.85"/><circle cx="121.1" cy="169.0" r="1.85"/><circle cx="122.6" cy="169.1" r="1.85"/><circle cx="124.3" cy="169.7" r="1.85"/><circle cx="132.8" cy="169.5" r="1.85"/><circle cx="136.1" cy="168.1" r="1.85"/><circle cx="144.9" cy="169.0" r="1.85"/><circle cx="149.7" cy="169.2" r="1.85"/><circle cx="151.9" cy="168.8" r="1.85"/><circle cx="153.7" cy="168.3" r="1.85"/><circle cx="155.6" cy="168.6" r="1.85"/><circle cx="157.9" cy="169.1" r="1.85"/><circle cx="160.9" cy="169.2" r="1.85"/><circle cx="107.6" cy="171.5" r="1.85"/><circle cx="122.4" cy="172.0" r="1.85"/><circle cx="125.0" cy="171.7" r="1.85"/><circle cx="127.2" cy="172.4" r="1.85"/><circle cx="130.1" cy="170.6" r="1.85"/><circle cx="138.4" cy="171.0" r="1.85"/><circle cx="140.3" cy="170.9" r="1.85"/><circle cx="142.2" cy="172.4" r="1.85"/><circle cx="144.4" cy="172.2" r="1.85"/><circle cx="153.8" cy="171.0" r="1.85"/><circle cx="155.3" cy="171.0" r="1.85"/><circle cx="159.5" cy="171.6" r="1.85"/><circle cx="108.8" cy="174.6" r="1.85"/><circle cx="112.3" cy="173.2" r="1.85"/><circle cx="123.7" cy="174.7" r="1.85"/><circle cx="125.8" cy="173.5" r="1.85"/><circle cx="128.5" cy="173.6" r="1.85"/><circle cx="135.3" cy="173.2" r="1.85"/><circle cx="137.1" cy="174.5" r="1.85"/><circle cx="138.7" cy="173.4" r="1.85"/><circle cx="140.7" cy="173.3" r="1.85"/><circle cx="143.5" cy="174.6" r="1.85"/><circle cx="153.9" cy="174.6" r="1.85"/><circle cx="156.2" cy="174.3" r="1.85"/><circle cx="158.1" cy="173.1" r="1.85"/><circle cx="160.1" cy="173.5" r="1.85"/><circle cx="106.3" cy="176.4" r="1.85"/><circle cx="123.8" cy="175.8" r="1.85"/><circle cx="125.6" cy="176.9" r="1.85"/><circle cx="127.5" cy="175.9" r="1.85"/><circle cx="136.6" cy="177.3" r="1.85"/><circle cx="142.3" cy="177.1" r="1.85"/><circle cx="152.6" cy="176.3" r="1.85"/><circle cx="154.2" cy="176.0" r="1.85"/><circle cx="157.2" cy="175.7" r="1.85"/><circle cx="159.7" cy="175.6" r="1.85"/><circle cx="116.2" cy="178.9" r="1.85"/><circle cx="123.1" cy="178.4" r="1.85"/><circle cx="125.2" cy="179.7" r="1.85"/><circle cx="127.1" cy="179.3" r="1.85"/><circle cx="137.2" cy="179.5" r="1.85"/><circle cx="139.1" cy="179.6" r="1.85"/><circle cx="149.9" cy="178.1" r="1.85"/><circle cx="151.1" cy="178.6" r="1.85"/><circle cx="159.3" cy="178.5" r="1.85"/><circle cx="160.1" cy="178.5" r="1.85"/><circle cx="103.2" cy="181.4" r="1.85"/><circle cx="114.4" cy="181.4" r="1.85"/><circle cx="124.0" cy="182.3" r="1.85"/><circle cx="126.5" cy="182.0" r="1.85"/><circle cx="128.6" cy="181.2" r="1.85"/><circle cx="137.2" cy="180.8" r="1.85"/><circle cx="138.8" cy="181.8" r="1.85"/><circle cx="140.6" cy="181.5" r="1.85"/><circle cx="148.6" cy="181.6" r="1.85"/><circle cx="154.5" cy="181.7" r="1.85"/><circle cx="157.3" cy="181.2" r="1.85"/><circle cx="104.5" cy="184.1" r="1.85"/><circle cx="106.6" cy="183.9" r="1.85"/><circle cx="124.1" cy="184.2" r="1.85"/><circle cx="128.7" cy="183.8" r="1.85"/><circle cx="131.4" cy="184.4" r="1.85"/><circle cx="133.6" cy="183.2" r="1.85"/><circle cx="141.3" cy="184.1" r="1.85"/><circle cx="143.1" cy="183.3" r="1.85"/><circle cx="145.8" cy="184.2" r="1.85"/><circle cx="148.3" cy="183.7" r="1.85"/><circle cx="151.3" cy="183.9" r="1.85"/><circle cx="153.0" cy="184.2" r="1.85"/><circle cx="155.7" cy="184.3" r="1.85"/><circle cx="106.3" cy="186.3" r="1.85"/><circle cx="116.8" cy="185.6" r="1.85"/><circle cx="118.2" cy="185.9" r="1.85"/><circle cx="119.7" cy="185.6" r="1.85"/><circle cx="128.5" cy="186.9" r="1.85"/><circle cx="130.8" cy="185.7" r="1.85"/><circle cx="131.7" cy="186.1" r="1.85"/><circle cx="142.4" cy="186.7" r="1.85"/><circle cx="146.9" cy="185.9" r="1.85"/><circle cx="148.6" cy="186.5" r="1.85"/><circle cx="155.6" cy="186.4" r="1.85"/><circle cx="109.1" cy="188.6" r="1.85"/><circle cx="111.6" cy="188.2" r="1.85"/><circle cx="113.1" cy="189.6" r="1.85"/><circle cx="121.2" cy="188.8" r="1.85"/><circle cx="131.2" cy="188.1" r="1.85"/><circle cx="133.0" cy="189.2" r="1.85"/><circle cx="142.1" cy="188.6" r="1.85"/><circle cx="144.6" cy="189.1" r="1.85"/><circle cx="147.5" cy="189.0" r="1.85"/><circle cx="149.4" cy="189.1" r="1.85"/><circle cx="152.1" cy="188.8" r="1.85"/><circle cx="154.1" cy="189.2" r="1.85"/><circle cx="157.3" cy="188.0" r="1.85"/><circle cx="111.2" cy="192.1" r="1.85"/><circle cx="113.1" cy="191.8" r="1.85"/><circle cx="122.7" cy="190.5" r="1.85"/><circle cx="123.8" cy="191.9" r="1.85"/><circle cx="125.7" cy="192.0" r="1.85"/><circle cx="134.8" cy="191.3" r="1.85"/><circle cx="144.0" cy="190.6" r="1.85"/><circle cx="145.7" cy="191.7" r="1.85"/><circle cx="155.9" cy="190.8" r="1.85"/><circle cx="110.1" cy="193.6" r="1.85"/><circle cx="112.4" cy="193.6" r="1.85"/><circle cx="110.7" cy="195.3" r="1.85"/><circle cx="112.3" cy="196.3" r="1.85"/><circle cx="123.6" cy="193.2" r="1.85"/><circle cx="125.9" cy="194.5" r="1.85"/><circle cx="128.7" cy="193.5" r="1.85"/><circle cx="123.7" cy="194.9" r="1.85"/><circle cx="126.1" cy="195.3" r="1.85"/><circle cx="128.1" cy="195.1" r="1.85"/><circle cx="139.0" cy="193.1" r="1.85"/><circle cx="141.0" cy="193.8" r="1.85"/><circle cx="143.0" cy="193.2" r="1.85"/><circle cx="145.8" cy="193.9" r="1.85"/><circle cx="149.6" cy="193.2" r="1.85"/><circle cx="152.4" cy="193.9" r="1.85"/><circle cx="154.0" cy="194.6" r="1.85"/><circle cx="138.3" cy="195.3" r="1.85"/><circle cx="141.2" cy="196.1" r="1.85"/><circle cx="145.3" cy="194.7" r="1.85"/><circle cx="148.1" cy="194.8" r="1.85"/><circle cx="150.3" cy="195.3" r="1.85"/><circle cx="152.4" cy="195.5" r="1.85"/><circle cx="154.8" cy="196.2" r="1.85"/><circle cx="43.3" cy="200.7" r="1.85"/><circle cx="44.5" cy="198.7" r="1.85"/><circle cx="50.1" cy="199.5" r="1.85"/><circle cx="50.1" cy="201.6" r="1.85"/><circle cx="64.3" cy="200.3" r="1.85"/><circle cx="45.7" cy="212.7" r="1.85"/><circle cx="48.2" cy="211.5" r="1.85"/><circle cx="53.2" cy="215.2" r="1.85"/><circle cx="50.7" cy="222.6" r="1.85"/><circle cx="50.1" cy="225.1" r="1.85"/><circle cx="52.5" cy="227.5" r="1.85"/><circle cx="60.6" cy="218.3" r="1.85"/><circle cx="49.5" cy="234.9" r="1.85"/><circle cx="53.8" cy="236.8" r="1.85"/><circle cx="51.3" cy="239.9" r="1.85"/><circle cx="55.0" cy="238.7" r="1.85"/><circle cx="61.2" cy="231.9" r="1.85"/><circle cx="63.1" cy="226.9" r="1.85"/><circle cx="68.0" cy="222.6" r="1.85"/><circle cx="69.2" cy="220.1" r="1.85"/><circle cx="68.6" cy="235.6" r="1.85"/><circle cx="67.4" cy="209.0" r="1.85"/><circle cx="69.2" cy="211.5" r="1.85"/><circle cx="71.1" cy="215.8" r="1.85"/><circle cx="75.4" cy="216.4" r="1.85"/><circle cx="76.7" cy="210.2" r="1.85"/><circle cx="77.3" cy="222.0" r="1.85"/><circle cx="76.7" cy="225.1" r="1.85"/><circle cx="80.4" cy="225.7" r="1.85"/><circle cx="80.4" cy="228.8" r="1.85"/><circle cx="77.3" cy="236.2" r="1.85"/><circle cx="83.5" cy="235.6" r="1.85"/><circle cx="82.8" cy="238.7" r="1.85"/><circle cx="85.9" cy="238.7" r="1.85"/><circle cx="74.8" cy="241.7" r="1.85"/><circle cx="73.4" cy="197.5" r="1.85"/><circle cx="73.8" cy="197.4" r="1.85"/><circle cx="80.6" cy="197.2" r="1.85"/><circle cx="82.0" cy="196.9" r="1.85"/><circle cx="83.6" cy="196.8" r="1.85"/><circle cx="85.3" cy="197.4" r="1.85"/><circle cx="86.7" cy="197.1" r="1.85"/><circle cx="88.3" cy="197.7" r="1.85"/><circle cx="89.9" cy="197.7" r="1.85"/><circle cx="98.9" cy="197.2" r="1.85"/><circle cx="99.7" cy="196.8" r="1.85"/><circle cx="71.9" cy="199.6" r="1.85"/><circle cx="73.1" cy="199.5" r="1.85"/><circle cx="75.0" cy="199.2" r="1.85"/><circle cx="76.3" cy="199.8" r="1.85"/><circle cx="77.8" cy="199.3" r="1.85"/><circle cx="78.7" cy="199.2" r="1.85"/><circle cx="87.9" cy="200.1" r="1.85"/><circle cx="88.9" cy="200.0" r="1.85"/><circle cx="89.8" cy="199.2" r="1.85"/><circle cx="99.2" cy="199.3" r="1.85"/><circle cx="100.0" cy="199.3" r="1.85"/><circle cx="70.7" cy="202.6" r="1.85"/><circle cx="71.9" cy="202.3" r="1.85"/><circle cx="73.2" cy="201.9" r="1.85"/><circle cx="74.9" cy="201.9" r="1.85"/><circle cx="76.1" cy="202.6" r="1.85"/><circle cx="77.6" cy="201.9" r="1.85"/><circle cx="87.7" cy="201.8" r="1.85"/><circle cx="90.9" cy="202.1" r="1.85"/><circle cx="92.7" cy="202.5" r="1.85"/><circle cx="93.9" cy="202.2" r="1.85"/><circle cx="95.4" cy="201.9" r="1.85"/><circle cx="97.1" cy="202.3" r="1.85"/><circle cx="98.4" cy="202.3" r="1.85"/><circle cx="100.1" cy="201.7" r="1.85"/><circle cx="72.1" cy="204.6" r="1.85"/><circle cx="73.8" cy="204.9" r="1.85"/><circle cx="75.1" cy="204.1" r="1.85"/><circle cx="83.0" cy="204.6" r="1.85"/><circle cx="83.8" cy="204.2" r="1.85"/><circle cx="91.7" cy="204.4" r="1.85"/><circle cx="93.4" cy="204.4" r="1.85"/><circle cx="95.0" cy="204.2" r="1.85"/><circle cx="96.4" cy="204.6" r="1.85"/><circle cx="98.6" cy="204.8" r="1.85"/><circle cx="99.7" cy="204.4" r="1.85"/><circle cx="77.9" cy="207.0" r="1.85"/><circle cx="79.2" cy="207.1" r="1.85"/><circle cx="81.1" cy="207.5" r="1.85"/><circle cx="82.5" cy="206.9" r="1.85"/><circle cx="83.8" cy="207.3" r="1.85"/><circle cx="92.7" cy="207.1" r="1.85"/><circle cx="93.8" cy="206.9" r="1.85"/><circle cx="95.2" cy="207.0" r="1.85"/><circle cx="82.2" cy="209.6" r="1.85"/><circle cx="92.7" cy="209.4" r="1.85"/><circle cx="93.8" cy="209.5" r="1.85"/><circle cx="92.7" cy="212.1" r="1.85"/><circle cx="100.1" cy="212.1" r="1.85"/><circle cx="86.7" cy="214.4" r="1.85"/><circle cx="87.4" cy="214.6" r="1.85"/><circle cx="89.3" cy="216.6" r="1.85"/><circle cx="90.1" cy="216.8" r="1.85"/><circle cx="98.3" cy="217.0" r="1.85"/><circle cx="90.3" cy="219.5" r="1.85"/><circle cx="89.5" cy="222.4" r="1.85"/><circle cx="91.4" cy="221.8" r="1.85"/><circle cx="87.7" cy="224.8" r="1.85"/><circle cx="89.1" cy="224.8" r="1.85"/><circle cx="96.4" cy="224.4" r="1.85"/><circle cx="90.3" cy="226.9" r="1.85"/><circle cx="85.6" cy="229.9" r="1.85"/><circle cx="87.3" cy="229.5" r="1.85"/><circle cx="89.0" cy="229.2" r="1.85"/><circle cx="92.2" cy="229.2" r="1.85"/><circle cx="94.0" cy="229.8" r="1.85"/><circle cx="83.1" cy="231.9" r="1.85"/><circle cx="84.0" cy="231.5" r="1.85"/><circle cx="91.9" cy="231.4" r="1.85"/><circle cx="92.8" cy="232.0" r="1.85"/><circle cx="92.8" cy="234.0" r="1.85"/><circle cx="93.8" cy="234.3" r="1.85"/><circle cx="100.1" cy="234.3" r="1.85"/><circle cx="99.2" cy="236.4" r="1.85"/><circle cx="100.2" cy="236.7" r="1.85"/><circle cx="85.3" cy="239.3" r="1.85"/><circle cx="98.9" cy="239.3" r="1.85"/><circle cx="87.8" cy="241.7" r="1.85"/><circle cx="95.4" cy="242.0" r="1.85"/><circle cx="96.3" cy="241.7" r="1.85"/><circle cx="95.3" cy="243.6" r="1.85"/><circle cx="96.0" cy="243.3" r="1.85"/><circle cx="161.3" cy="200.9" r="1.85"/><circle cx="162.6" cy="214.5" r="1.85"/><circle cx="103.9" cy="197.2" r="1.85"/><circle cx="111.7" cy="196.8" r="1.85"/><circle cx="112.1" cy="197.6" r="1.85"/><circle cx="120.0" cy="197.3" r="1.85"/><circle cx="121.8" cy="197.0" r="1.85"/><circle cx="122.9" cy="197.6" r="1.85"/><circle cx="124.6" cy="197.4" r="1.85"/><circle cx="133.6" cy="197.5" r="1.85"/><circle cx="135.4" cy="197.0" r="1.85"/><circle cx="137.1" cy="196.9" r="1.85"/><circle cx="138.9" cy="196.9" r="1.85"/><circle cx="140.5" cy="197.7" r="1.85"/><circle cx="142.0" cy="197.7" r="1.85"/><circle cx="143.6" cy="197.0" r="1.85"/><circle cx="145.1" cy="197.2" r="1.85"/><circle cx="146.8" cy="197.5" r="1.85"/><circle cx="148.1" cy="196.8" r="1.85"/><circle cx="150.2" cy="197.5" r="1.85"/><circle cx="151.7" cy="196.8" r="1.85"/><circle cx="153.5" cy="197.6" r="1.85"/><circle cx="155.0" cy="197.5" r="1.85"/><circle cx="156.7" cy="197.2" r="1.85"/><circle cx="157.8" cy="197.0" r="1.85"/><circle cx="103.9" cy="199.7" r="1.85"/><circle cx="114.9" cy="199.5" r="1.85"/><circle cx="116.6" cy="199.4" r="1.85"/><circle cx="119.9" cy="199.8" r="1.85"/><circle cx="121.3" cy="199.4" r="1.85"/><circle cx="124.9" cy="199.9" r="1.85"/><circle cx="132.6" cy="200.1" r="1.85"/><circle cx="135.6" cy="199.9" r="1.85"/><circle cx="137.4" cy="199.5" r="1.85"/><circle cx="138.7" cy="200.0" r="1.85"/><circle cx="140.3" cy="199.5" r="1.85"/><circle cx="142.0" cy="199.8" r="1.85"/><circle cx="143.8" cy="200.0" r="1.85"/><circle cx="145.5" cy="200.2" r="1.85"/><circle cx="146.6" cy="199.3" r="1.85"/><circle cx="148.7" cy="200.0" r="1.85"/><circle cx="150.1" cy="199.3" r="1.85"/><circle cx="152.0" cy="199.4" r="1.85"/><circle cx="153.5" cy="199.9" r="1.85"/><circle cx="154.7" cy="200.0" r="1.85"/><circle cx="156.7" cy="199.6" r="1.85"/><circle cx="158.2" cy="200.1" r="1.85"/><circle cx="103.9" cy="202.2" r="1.85"/><circle cx="116.2" cy="202.2" r="1.85"/><circle cx="125.0" cy="202.5" r="1.85"/><circle cx="126.5" cy="201.6" r="1.85"/><circle cx="128.5" cy="201.7" r="1.85"/><circle cx="129.8" cy="201.9" r="1.85"/><circle cx="131.4" cy="202.3" r="1.85"/><circle cx="133.1" cy="202.6" r="1.85"/><circle cx="134.9" cy="202.4" r="1.85"/><circle cx="136.3" cy="202.7" r="1.85"/><circle cx="138.1" cy="202.2" r="1.85"/><circle cx="139.6" cy="201.7" r="1.85"/><circle cx="141.6" cy="201.7" r="1.85"/><circle cx="142.9" cy="202.7" r="1.85"/><circle cx="144.5" cy="201.9" r="1.85"/><circle cx="146.5" cy="202.5" r="1.85"/><circle cx="147.9" cy="202.5" r="1.85"/><circle cx="149.7" cy="201.9" r="1.85"/><circle cx="151.4" cy="202.3" r="1.85"/><circle cx="154.5" cy="202.1" r="1.85"/><circle cx="156.1" cy="202.4" r="1.85"/><circle cx="157.7" cy="202.4" r="1.85"/><circle cx="159.5" cy="202.6" r="1.85"/><circle cx="116.8" cy="204.7" r="1.85"/><circle cx="126.2" cy="204.7" r="1.85"/><circle cx="127.7" cy="204.2" r="1.85"/><circle cx="129.7" cy="204.5" r="1.85"/><circle cx="131.4" cy="205.0" r="1.85"/><circle cx="134.6" cy="204.9" r="1.85"/><circle cx="136.3" cy="204.8" r="1.85"/><circle cx="137.7" cy="204.2" r="1.85"/><circle cx="139.6" cy="204.5" r="1.85"/><circle cx="141.2" cy="204.9" r="1.85"/><circle cx="142.6" cy="204.7" r="1.85"/><circle cx="144.1" cy="204.3" r="1.85"/><circle cx="145.9" cy="204.2" r="1.85"/><circle cx="147.3" cy="204.5" r="1.85"/><circle cx="150.5" cy="205.1" r="1.85"/><circle cx="152.6" cy="204.6" r="1.85"/><circle cx="154.2" cy="204.4" r="1.85"/><circle cx="155.7" cy="205.2" r="1.85"/><circle cx="157.0" cy="204.6" r="1.85"/><circle cx="159.1" cy="204.5" r="1.85"/><circle cx="160.3" cy="204.4" r="1.85"/><circle cx="105.7" cy="207.1" r="1.85"/><circle cx="120.5" cy="207.1" r="1.85"/><circle cx="126.5" cy="206.8" r="1.85"/><circle cx="127.8" cy="207.3" r="1.85"/><circle cx="129.4" cy="207.1" r="1.85"/><circle cx="131.1" cy="207.2" r="1.85"/><circle cx="133.1" cy="206.9" r="1.85"/><circle cx="134.5" cy="207.2" r="1.85"/><circle cx="136.3" cy="206.8" r="1.85"/><circle cx="137.7" cy="206.8" r="1.85"/><circle cx="139.3" cy="207.0" r="1.85"/><circle cx="141.3" cy="207.6" r="1.85"/><circle cx="142.5" cy="207.6" r="1.85"/><circle cx="144.0" cy="206.6" r="1.85"/><circle cx="145.9" cy="207.1" r="1.85"/><circle cx="147.7" cy="207.7" r="1.85"/><circle cx="149.4" cy="207.2" r="1.85"/><circle cx="150.6" cy="206.9" r="1.85"/><circle cx="152.3" cy="206.6" r="1.85"/><circle cx="155.9" cy="207.5" r="1.85"/><circle cx="157.2" cy="207.2" r="1.85"/><circle cx="158.8" cy="207.1" r="1.85"/><circle cx="160.6" cy="207.5" r="1.85"/><circle cx="120.0" cy="209.1" r="1.85"/><circle cx="121.4" cy="209.2" r="1.85"/><circle cx="122.3" cy="209.2" r="1.85"/><circle cx="127.4" cy="209.7" r="1.85"/><circle cx="129.1" cy="209.7" r="1.85"/><circle cx="130.9" cy="210.0" r="1.85"/><circle cx="132.6" cy="209.9" r="1.85"/><circle cx="134.1" cy="209.7" r="1.85"/><circle cx="135.8" cy="209.3" r="1.85"/><circle cx="137.4" cy="209.6" r="1.85"/><circle cx="138.8" cy="209.7" r="1.85"/><circle cx="140.6" cy="209.3" r="1.85"/><circle cx="142.0" cy="209.6" r="1.85"/><circle cx="143.9" cy="210.0" r="1.85"/><circle cx="145.3" cy="210.1" r="1.85"/><circle cx="147.1" cy="209.1" r="1.85"/><circle cx="148.5" cy="209.4" r="1.85"/><circle cx="150.2" cy="209.4" r="1.85"/><circle cx="152.0" cy="209.4" r="1.85"/><circle cx="153.8" cy="210.1" r="1.85"/><circle cx="155.3" cy="209.9" r="1.85"/><circle cx="157.0" cy="209.5" r="1.85"/><circle cx="103.9" cy="212.1" r="1.85"/><circle cx="125.5" cy="212.4" r="1.85"/><circle cx="127.2" cy="212.3" r="1.85"/><circle cx="129.1" cy="212.5" r="1.85"/><circle cx="130.4" cy="212.3" r="1.85"/><circle cx="132.0" cy="212.2" r="1.85"/><circle cx="133.7" cy="211.6" r="1.85"/><circle cx="135.7" cy="212.2" r="1.85"/><circle cx="137.4" cy="211.7" r="1.85"/><circle cx="139.0" cy="212.2" r="1.85"/><circle cx="140.2" cy="212.0" r="1.85"/><circle cx="141.9" cy="212.3" r="1.85"/><circle cx="143.6" cy="211.7" r="1.85"/><circle cx="145.5" cy="212.3" r="1.85"/><circle cx="147.2" cy="212.4" r="1.85"/><circle cx="148.8" cy="212.3" r="1.85"/><circle cx="150.1" cy="211.9" r="1.85"/><circle cx="152.1" cy="211.9" r="1.85"/><circle cx="153.3" cy="212.2" r="1.85"/><circle cx="155.3" cy="212.5" r="1.85"/><circle cx="156.6" cy="212.6" r="1.85"/><circle cx="113.1" cy="214.5" r="1.85"/><circle cx="126.1" cy="215.1" r="1.85"/><circle cx="127.8" cy="214.3" r="1.85"/><circle cx="129.9" cy="214.8" r="1.85"/><circle cx="131.5" cy="214.4" r="1.85"/><circle cx="132.9" cy="214.4" r="1.85"/><circle cx="134.8" cy="214.3" r="1.85"/><circle cx="136.4" cy="214.9" r="1.85"/><circle cx="138.0" cy="214.6" r="1.85"/><circle cx="139.8" cy="214.1" r="1.85"/><circle cx="141.1" cy="214.4" r="1.85"/><circle cx="143.1" cy="214.7" r="1.85"/><circle cx="144.9" cy="214.3" r="1.85"/><circle cx="146.4" cy="214.2" r="1.85"/><circle cx="147.8" cy="214.4" r="1.85"/><circle cx="149.6" cy="214.2" r="1.85"/><circle cx="151.2" cy="215.0" r="1.85"/><circle cx="153.3" cy="214.6" r="1.85"/><circle cx="154.6" cy="214.1" r="1.85"/><circle cx="156.2" cy="214.1" r="1.85"/><circle cx="158.3" cy="214.6" r="1.85"/><circle cx="103.2" cy="217.0" r="1.85"/><circle cx="110.0" cy="217.0" r="1.85"/><circle cx="125.1" cy="217.5" r="1.85"/><circle cx="126.6" cy="216.8" r="1.85"/><circle cx="128.4" cy="216.7" r="1.85"/><circle cx="130.0" cy="216.5" r="1.85"/><circle cx="131.7" cy="216.6" r="1.85"/><circle cx="133.3" cy="216.6" r="1.85"/><circle cx="135.0" cy="217.0" r="1.85"/><circle cx="136.3" cy="217.6" r="1.85"/><circle cx="138.1" cy="216.5" r="1.85"/><circle cx="139.4" cy="217.0" r="1.85"/><circle cx="141.2" cy="216.8" r="1.85"/><circle cx="142.9" cy="217.0" r="1.85"/><circle cx="144.7" cy="217.5" r="1.85"/><circle cx="146.5" cy="216.6" r="1.85"/><circle cx="147.7" cy="217.5" r="1.85"/><circle cx="149.6" cy="217.3" r="1.85"/><circle cx="150.9" cy="217.4" r="1.85"/><circle cx="152.7" cy="216.5" r="1.85"/><circle cx="156.2" cy="216.9" r="1.85"/><circle cx="157.9" cy="216.5" r="1.85"/><circle cx="159.4" cy="217.5" r="1.85"/><circle cx="103.2" cy="219.5" r="1.85"/><circle cx="109.2" cy="219.9" r="1.85"/><circle cx="110.6" cy="219.1" r="1.85"/><circle cx="112.1" cy="219.4" r="1.85"/><circle cx="113.3" cy="219.1" r="1.85"/><circle cx="121.3" cy="220.0" r="1.85"/><circle cx="123.2" cy="219.1" r="1.85"/><circle cx="124.5" cy="219.3" r="1.85"/><circle cx="126.2" cy="219.3" r="1.85"/><circle cx="127.9" cy="219.9" r="1.85"/><circle cx="129.7" cy="219.4" r="1.85"/><circle cx="131.1" cy="220.0" r="1.85"/><circle cx="132.8" cy="219.5" r="1.85"/><circle cx="134.6" cy="219.6" r="1.85"/><circle cx="135.8" cy="219.5" r="1.85"/><circle cx="137.5" cy="219.2" r="1.85"/><circle cx="139.3" cy="218.9" r="1.85"/><circle cx="140.9" cy="219.7" r="1.85"/><circle cx="142.3" cy="219.2" r="1.85"/><circle cx="144.4" cy="219.2" r="1.85"/><circle cx="145.7" cy="219.1" r="1.85"/><circle cx="149.1" cy="219.8" r="1.85"/><circle cx="150.8" cy="219.0" r="1.85"/><circle cx="152.2" cy="219.2" r="1.85"/><circle cx="154.1" cy="219.7" r="1.85"/><circle cx="155.5" cy="219.0" r="1.85"/><circle cx="157.4" cy="219.1" r="1.85"/><circle cx="159.1" cy="219.7" r="1.85"/><circle cx="160.3" cy="220.0" r="1.85"/><circle cx="110.4" cy="222.2" r="1.85"/><circle cx="111.6" cy="221.9" r="1.85"/><circle cx="112.4" cy="222.5" r="1.85"/><circle cx="121.6" cy="221.6" r="1.85"/><circle cx="122.8" cy="221.5" r="1.85"/><circle cx="124.7" cy="221.9" r="1.85"/><circle cx="126.3" cy="221.9" r="1.85"/><circle cx="127.9" cy="222.4" r="1.85"/><circle cx="129.8" cy="222.2" r="1.85"/><circle cx="131.2" cy="222.3" r="1.85"/><circle cx="132.9" cy="221.6" r="1.85"/><circle cx="134.5" cy="221.8" r="1.85"/><circle cx="136.0" cy="221.4" r="1.85"/><circle cx="137.8" cy="221.5" r="1.85"/><circle cx="139.7" cy="222.4" r="1.85"/><circle cx="141.3" cy="221.5" r="1.85"/><circle cx="142.8" cy="221.4" r="1.85"/><circle cx="144.3" cy="222.3" r="1.85"/><circle cx="146.0" cy="221.8" r="1.85"/><circle cx="147.6" cy="221.4" r="1.85"/><circle cx="149.2" cy="221.7" r="1.85"/><circle cx="151.2" cy="221.9" r="1.85"/><circle cx="154.2" cy="221.5" r="1.85"/><circle cx="156.2" cy="221.7" r="1.85"/><circle cx="157.9" cy="222.0" r="1.85"/><circle cx="159.2" cy="221.6" r="1.85"/><circle cx="103.9" cy="224.4" r="1.85"/><circle cx="111.3" cy="224.4" r="1.85"/><circle cx="122.3" cy="224.9" r="1.85"/><circle cx="124.1" cy="224.6" r="1.85"/><circle cx="126.1" cy="224.3" r="1.85"/><circle cx="127.6" cy="224.0" r="1.85"/><circle cx="129.4" cy="223.9" r="1.85"/><circle cx="132.7" cy="225.0" r="1.85"/><circle cx="134.5" cy="224.7" r="1.85"/><circle cx="135.9" cy="224.8" r="1.85"/><circle cx="137.6" cy="224.7" r="1.85"/><circle cx="139.3" cy="224.5" r="1.85"/><circle cx="141.1" cy="224.2" r="1.85"/><circle cx="142.6" cy="224.0" r="1.85"/><circle cx="144.6" cy="224.5" r="1.85"/><circle cx="145.9" cy="224.4" r="1.85"/><circle cx="147.5" cy="224.9" r="1.85"/><circle cx="149.1" cy="224.6" r="1.85"/><circle cx="152.7" cy="224.8" r="1.85"/><circle cx="154.0" cy="225.0" r="1.85"/><circle cx="157.6" cy="225.0" r="1.85"/><circle cx="159.2" cy="224.2" r="1.85"/><circle cx="103.9" cy="226.8" r="1.85"/><circle cx="104.7" cy="227.3" r="1.85"/><circle cx="121.2" cy="226.9" r="1.85"/><circle cx="128.8" cy="227.2" r="1.85"/><circle cx="130.5" cy="227.4" r="1.85"/><circle cx="132.3" cy="226.7" r="1.85"/><circle cx="133.9" cy="226.9" r="1.85"/><circle cx="135.2" cy="226.8" r="1.85"/><circle cx="137.0" cy="226.4" r="1.85"/><circle cx="138.6" cy="226.7" r="1.85"/><circle cx="141.7" cy="227.4" r="1.85"/><circle cx="143.2" cy="226.8" r="1.85"/><circle cx="145.3" cy="227.0" r="1.85"/><circle cx="146.7" cy="226.6" r="1.85"/><circle cx="148.0" cy="226.4" r="1.85"/><circle cx="150.1" cy="226.6" r="1.85"/><circle cx="151.3" cy="227.3" r="1.85"/><circle cx="153.3" cy="226.8" r="1.85"/><circle cx="155.0" cy="226.7" r="1.85"/><circle cx="156.2" cy="227.4" r="1.85"/><circle cx="157.9" cy="226.4" r="1.85"/><circle cx="105.1" cy="229.4" r="1.85"/><circle cx="122.4" cy="229.4" r="1.85"/><circle cx="128.8" cy="229.0" r="1.85"/><circle cx="130.6" cy="229.1" r="1.85"/><circle cx="132.3" cy="229.8" r="1.85"/><circle cx="133.4" cy="229.9" r="1.85"/><circle cx="135.1" cy="229.9" r="1.85"/><circle cx="137.2" cy="228.9" r="1.85"/><circle cx="138.5" cy="229.5" r="1.85"/><circle cx="140.4" cy="229.0" r="1.85"/><circle cx="141.7" cy="229.9" r="1.85"/><circle cx="143.5" cy="229.0" r="1.85"/><circle cx="144.9" cy="229.1" r="1.85"/><circle cx="146.8" cy="229.2" r="1.85"/><circle cx="148.4" cy="229.1" r="1.85"/><circle cx="149.9" cy="229.6" r="1.85"/><circle cx="151.4" cy="229.6" r="1.85"/><circle cx="153.3" cy="229.0" r="1.85"/><circle cx="156.6" cy="229.1" r="1.85"/><circle cx="158.2" cy="229.5" r="1.85"/><circle cx="125.1" cy="231.7" r="1.85"/><circle cx="126.6" cy="231.7" r="1.85"/><circle cx="128.5" cy="232.3" r="1.85"/><circle cx="129.7" cy="231.6" r="1.85"/><circle cx="131.5" cy="231.3" r="1.85"/><circle cx="133.2" cy="231.4" r="1.85"/><circle cx="134.9" cy="232.2" r="1.85"/><circle cx="136.7" cy="232.3" r="1.85"/><circle cx="138.3" cy="231.8" r="1.85"/><circle cx="139.6" cy="232.0" r="1.85"/><circle cx="141.6" cy="231.5" r="1.85"/><circle cx="143.2" cy="232.2" r="1.85"/><circle cx="144.6" cy="231.4" r="1.85"/><circle cx="146.1" cy="232.3" r="1.85"/><circle cx="147.9" cy="231.9" r="1.85"/><circle cx="149.7" cy="232.0" r="1.85"/><circle cx="151.2" cy="231.4" r="1.85"/><circle cx="152.6" cy="231.7" r="1.85"/><circle cx="154.3" cy="232.3" r="1.85"/><circle cx="155.9" cy="231.8" r="1.85"/><circle cx="157.7" cy="232.0" r="1.85"/><circle cx="159.2" cy="231.9" r="1.85"/><circle cx="109.4" cy="234.3" r="1.85"/><circle cx="120.2" cy="234.8" r="1.85"/><circle cx="121.9" cy="234.0" r="1.85"/><circle cx="123.2" cy="234.8" r="1.85"/><circle cx="124.9" cy="234.3" r="1.85"/><circle cx="126.7" cy="233.9" r="1.85"/><circle cx="128.4" cy="233.9" r="1.85"/><circle cx="130.1" cy="233.8" r="1.85"/><circle cx="131.4" cy="234.7" r="1.85"/><circle cx="133.1" cy="234.4" r="1.85"/><circle cx="134.5" cy="234.0" r="1.85"/><circle cx="136.5" cy="233.9" r="1.85"/><circle cx="138.1" cy="233.8" r="1.85"/><circle cx="139.4" cy="234.8" r="1.85"/><circle cx="143.0" cy="234.0" r="1.85"/><circle cx="144.5" cy="234.9" r="1.85"/><circle cx="146.1" cy="234.0" r="1.85"/><circle cx="148.0" cy="234.6" r="1.85"/><circle cx="149.5" cy="234.8" r="1.85"/><circle cx="151.2" cy="234.8" r="1.85"/><circle cx="152.8" cy="234.7" r="1.85"/><circle cx="154.3" cy="234.2" r="1.85"/><circle cx="156.0" cy="234.2" r="1.85"/><circle cx="157.4" cy="234.1" r="1.85"/><circle cx="159.6" cy="234.1" r="1.85"/><circle cx="107.6" cy="236.8" r="1.85"/><circle cx="115.6" cy="236.8" r="1.85"/><circle cx="121.5" cy="236.3" r="1.85"/><circle cx="123.0" cy="236.6" r="1.85"/><circle cx="124.9" cy="237.3" r="1.85"/><circle cx="132.4" cy="236.4" r="1.85"/><circle cx="134.3" cy="236.8" r="1.85"/><circle cx="139.3" cy="236.8" r="1.85"/><circle cx="140.7" cy="236.7" r="1.85"/><circle cx="142.6" cy="236.7" r="1.85"/><circle cx="144.1" cy="237.0" r="1.85"/><circle cx="145.7" cy="237.1" r="1.85"/><circle cx="147.4" cy="236.4" r="1.85"/><circle cx="149.0" cy="236.4" r="1.85"/><circle cx="151.1" cy="236.7" r="1.85"/><circle cx="154.3" cy="236.8" r="1.85"/><circle cx="156.2" cy="237.0" r="1.85"/><circle cx="157.5" cy="236.5" r="1.85"/><circle cx="159.0" cy="236.9" r="1.85"/><circle cx="108.8" cy="239.3" r="1.85"/><circle cx="116.2" cy="239.3" r="1.85"/><circle cx="122.5" cy="239.4" r="1.85"/><circle cx="123.6" cy="239.1" r="1.85"/><circle cx="136.1" cy="239.1" r="1.85"/><circle cx="137.6" cy="239.2" r="1.85"/><circle cx="139.3" cy="239.6" r="1.85"/><circle cx="141.1" cy="238.8" r="1.85"/><circle cx="142.7" cy="239.7" r="1.85"/><circle cx="144.3" cy="239.5" r="1.85"/><circle cx="146.0" cy="239.6" r="1.85"/><circle cx="147.5" cy="238.8" r="1.85"/><circle cx="149.3" cy="238.9" r="1.85"/><circle cx="152.6" cy="239.7" r="1.85"/><circle cx="154.5" cy="239.0" r="1.85"/><circle cx="156.1" cy="239.7" r="1.85"/><circle cx="157.5" cy="239.1" r="1.85"/><circle cx="159.5" cy="239.0" r="1.85"/><circle cx="106.3" cy="241.7" r="1.85"/><circle cx="115.6" cy="241.7" r="1.85"/><circle cx="137.2" cy="241.2" r="1.85"/><circle cx="138.9" cy="242.2" r="1.85"/><circle cx="142.3" cy="241.9" r="1.85"/><circle cx="143.9" cy="242.2" r="1.85"/><circle cx="145.6" cy="241.9" r="1.85"/><circle cx="147.0" cy="241.4" r="1.85"/><circle cx="148.6" cy="241.7" r="1.85"/><circle cx="149.9" cy="242.3" r="1.85"/><circle cx="151.7" cy="241.6" r="1.85"/><circle cx="153.5" cy="242.2" r="1.85"/><circle cx="155.1" cy="241.6" r="1.85"/><circle cx="156.4" cy="242.3" r="1.85"/><circle cx="157.8" cy="241.4" r="1.85"/><circle cx="137.6" cy="243.3" r="1.85"/><circle cx="138.9" cy="243.6" r="1.85"/><circle cx="140.4" cy="243.4" r="1.85"/><circle cx="142.0" cy="243.6" r="1.85"/><circle cx="143.6" cy="244.1" r="1.85"/><circle cx="145.3" cy="243.6" r="1.85"/><circle cx="146.7" cy="243.6" r="1.85"/><circle cx="148.3" cy="243.6" r="1.85"/><circle cx="149.8" cy="243.7" r="1.85"/><circle cx="151.9" cy="244.0" r="1.85"/><circle cx="153.5" cy="243.1" r="1.85"/><circle cx="154.9" cy="243.4" r="1.85"/><circle cx="156.5" cy="243.5" r="1.85"/><circle cx="158.0" cy="244.1" r="1.85"/><circle cx="53.8" cy="252.4" r="1.85"/><circle cx="76.0" cy="248.3" r="1.85"/><circle cx="71.1" cy="252.4" r="1.85"/><circle cx="69.2" cy="255.7" r="1.85"/><circle cx="85.3" cy="254.1" r="1.85"/><circle cx="93.3" cy="254.1" r="1.85"/><circle cx="90.3" cy="246.5" r="1.85"/><circle cx="101.4" cy="249.6" r="1.85"/><circle cx="77.3" cy="255.7" r="1.85"/><circle cx="79.1" cy="257.0" r="1.85"/><circle cx="77.3" cy="258.8" r="1.85"/><circle cx="81.6" cy="261.9" r="1.85"/><circle cx="50.1" cy="261.6" r="1.85"/><circle cx="69.2" cy="263.5" r="1.85"/><circle cx="54.0" cy="267.1" r="1.85"/><circle cx="58.1" cy="270.2" r="1.85"/><circle cx="62.4" cy="269.3" r="1.85"/><circle cx="78.8" cy="267.1" r="1.85"/><circle cx="85.9" cy="266.5" r="1.85"/><circle cx="90.3" cy="268.1" r="1.85"/><circle cx="92.1" cy="264.4" r="1.85"/><circle cx="95.8" cy="265.0" r="1.85"/><circle cx="99.5" cy="263.8" r="1.85"/><circle cx="101.4" cy="270.0" r="1.85"/><circle cx="73.6" cy="273.7" r="1.85"/><circle cx="64.9" cy="274.9" r="1.85"/><circle cx="66.8" cy="275.9" r="1.85"/><circle cx="60.6" cy="276.4" r="1.85"/><circle cx="58.7" cy="277.1" r="1.85"/><circle cx="52.8" cy="276.8" r="1.85"/><circle cx="60.6" cy="280.5" r="1.85"/><circle cx="90.3" cy="277.6" r="1.85"/><circle cx="45.7" cy="282.7" r="1.85"/><circle cx="81.0" cy="283.2" r="1.85"/><circle cx="56.9" cy="285.0" r="1.85"/><circle cx="68.0" cy="287.5" r="1.85"/><circle cx="71.1" cy="286.7" r="1.85"/><circle cx="77.9" cy="287.5" r="1.85"/><circle cx="109.4" cy="245.2" r="1.85"/><circle cx="114.4" cy="245.2" r="1.85"/><circle cx="103.9" cy="253.3" r="1.85"/><circle cx="108.8" cy="251.4" r="1.85"/><circle cx="110.7" cy="253.3" r="1.85"/><circle cx="114.4" cy="253.3" r="1.85"/><circle cx="113.7" cy="264.4" r="1.85"/><circle cx="117.5" cy="263.8" r="1.85"/><circle cx="105.7" cy="258.2" r="1.85"/><circle cx="116.2" cy="269.3" r="1.85"/><circle cx="110.0" cy="274.3" r="1.85"/><circle cx="121.8" cy="276.1" r="1.85"/><circle cx="123.6" cy="278.0" r="1.85"/><circle cx="103.2" cy="245.9" r="1.85"/><circle cx="126.1" cy="245.6" r="1.85"/><circle cx="128.1" cy="245.2" r="1.85"/><circle cx="129.6" cy="244.8" r="1.85"/><circle cx="131.3" cy="244.9" r="1.85"/><circle cx="133.1" cy="245.4" r="1.85"/><circle cx="134.5" cy="244.7" r="1.85"/><circle cx="136.6" cy="245.2" r="1.85"/><circle cx="137.9" cy="245.1" r="1.85"/><circle cx="139.9" cy="245.2" r="1.85"/><circle cx="141.3" cy="244.9" r="1.85"/><circle cx="143.3" cy="245.2" r="1.85"/><circle cx="144.9" cy="245.2" r="1.85"/><circle cx="146.3" cy="244.8" r="1.85"/><circle cx="147.8" cy="245.7" r="1.85"/><circle cx="149.6" cy="244.7" r="1.85"/><circle cx="151.5" cy="244.8" r="1.85"/><circle cx="152.8" cy="244.7" r="1.85"/><circle cx="154.6" cy="245.5" r="1.85"/><circle cx="156.4" cy="245.7" r="1.85"/><circle cx="158.3" cy="245.0" r="1.85"/><circle cx="125.2" cy="247.9" r="1.85"/><circle cx="126.9" cy="247.2" r="1.85"/><circle cx="128.6" cy="247.9" r="1.85"/><circle cx="130.1" cy="247.6" r="1.85"/><circle cx="131.5" cy="247.5" r="1.85"/><circle cx="133.4" cy="248.2" r="1.85"/><circle cx="135.1" cy="248.2" r="1.85"/><circle cx="137.9" cy="247.2" r="1.85"/><circle cx="139.9" cy="247.4" r="1.85"/><circle cx="141.4" cy="247.8" r="1.85"/><circle cx="142.8" cy="247.2" r="1.85"/><circle cx="144.9" cy="247.4" r="1.85"/><circle cx="146.3" cy="248.1" r="1.85"/><circle cx="147.6" cy="247.5" r="1.85"/><circle cx="149.6" cy="248.1" r="1.85"/><circle cx="152.7" cy="248.0" r="1.85"/><circle cx="154.3" cy="247.7" r="1.85"/><circle cx="157.9" cy="247.9" r="1.85"/><circle cx="159.4" cy="248.0" r="1.85"/><circle cx="125.2" cy="250.2" r="1.85"/><circle cx="132.5" cy="249.9" r="1.85"/><circle cx="134.4" cy="250.6" r="1.85"/><circle cx="135.6" cy="250.0" r="1.85"/><circle cx="137.5" cy="250.6" r="1.85"/><circle cx="139.1" cy="250.1" r="1.85"/><circle cx="140.6" cy="250.7" r="1.85"/><circle cx="142.5" cy="250.4" r="1.85"/><circle cx="143.7" cy="249.7" r="1.85"/><circle cx="147.6" cy="250.3" r="1.85"/><circle cx="148.7" cy="249.7" r="1.85"/><circle cx="152.2" cy="249.8" r="1.85"/><circle cx="154.0" cy="249.8" r="1.85"/><circle cx="155.7" cy="249.9" r="1.85"/><circle cx="157.1" cy="250.4" r="1.85"/><circle cx="160.4" cy="250.6" r="1.85"/><circle cx="123.7" cy="252.8" r="1.85"/><circle cx="124.5" cy="252.2" r="1.85"/><circle cx="132.4" cy="252.6" r="1.85"/><circle cx="135.7" cy="252.5" r="1.85"/><circle cx="137.7" cy="252.6" r="1.85"/><circle cx="139.2" cy="252.9" r="1.85"/><circle cx="140.8" cy="252.5" r="1.85"/><circle cx="142.4" cy="253.0" r="1.85"/><circle cx="143.8" cy="253.1" r="1.85"/><circle cx="145.9" cy="252.9" r="1.85"/><circle cx="147.3" cy="253.1" r="1.85"/><circle cx="148.9" cy="252.3" r="1.85"/><circle cx="150.5" cy="252.5" r="1.85"/><circle cx="152.4" cy="253.2" r="1.85"/><circle cx="154.0" cy="252.1" r="1.85"/><circle cx="155.6" cy="253.0" r="1.85"/><circle cx="157.3" cy="252.7" r="1.85"/><circle cx="158.8" cy="253.0" r="1.85"/><circle cx="160.8" cy="252.7" r="1.85"/><circle cx="124.5" cy="255.4" r="1.85"/><circle cx="125.9" cy="255.6" r="1.85"/><circle cx="134.0" cy="255.1" r="1.85"/><circle cx="135.1" cy="255.6" r="1.85"/><circle cx="136.7" cy="254.6" r="1.85"/><circle cx="138.8" cy="255.3" r="1.85"/><circle cx="140.2" cy="255.1" r="1.85"/><circle cx="142.0" cy="254.6" r="1.85"/><circle cx="143.4" cy="255.5" r="1.85"/><circle cx="145.5" cy="255.1" r="1.85"/><circle cx="146.7" cy="254.9" r="1.85"/><circle cx="148.5" cy="255.0" r="1.85"/><circle cx="150.4" cy="255.0" r="1.85"/><circle cx="151.7" cy="254.9" r="1.85"/><circle cx="153.3" cy="254.7" r="1.85"/><circle cx="155.2" cy="255.0" r="1.85"/><circle cx="157.1" cy="255.0" r="1.85"/><circle cx="158.2" cy="255.6" r="1.85"/><circle cx="160.0" cy="254.6" r="1.85"/><circle cx="161.5" cy="255.0" r="1.85"/><circle cx="125.5" cy="257.8" r="1.85"/><circle cx="127.4" cy="257.4" r="1.85"/><circle cx="133.9" cy="257.7" r="1.85"/><circle cx="135.5" cy="257.6" r="1.85"/><circle cx="136.8" cy="257.8" r="1.85"/><circle cx="138.5" cy="257.3" r="1.85"/><circle cx="140.4" cy="257.6" r="1.85"/><circle cx="142.2" cy="257.7" r="1.85"/><circle cx="143.9" cy="258.0" r="1.85"/><circle cx="145.4" cy="257.8" r="1.85"/><circle cx="147.2" cy="257.8" r="1.85"/><circle cx="148.8" cy="257.5" r="1.85"/><circle cx="150.4" cy="257.3" r="1.85"/><circle cx="151.6" cy="257.6" r="1.85"/><circle cx="153.7" cy="258.1" r="1.85"/><circle cx="155.3" cy="257.5" r="1.85"/><circle cx="156.7" cy="257.4" r="1.85"/><circle cx="158.4" cy="257.7" r="1.85"/><circle cx="160.0" cy="257.1" r="1.85"/><circle cx="161.7" cy="257.3" r="1.85"/><circle cx="126.5" cy="259.8" r="1.85"/><circle cx="128.1" cy="259.7" r="1.85"/><circle cx="129.6" cy="259.7" r="1.85"/><circle cx="131.5" cy="259.9" r="1.85"/><circle cx="132.9" cy="260.6" r="1.85"/><circle cx="134.2" cy="259.9" r="1.85"/><circle cx="136.0" cy="260.1" r="1.85"/><circle cx="137.4" cy="259.6" r="1.85"/><circle cx="139.3" cy="260.0" r="1.85"/><circle cx="141.1" cy="260.5" r="1.85"/><circle cx="142.7" cy="259.5" r="1.85"/><circle cx="144.4" cy="260.0" r="1.85"/><circle cx="146.1" cy="260.3" r="1.85"/><circle cx="147.5" cy="259.9" r="1.85"/><circle cx="149.1" cy="259.5" r="1.85"/><circle cx="151.0" cy="260.2" r="1.85"/><circle cx="154.2" cy="259.6" r="1.85"/><circle cx="155.4" cy="260.1" r="1.85"/><circle cx="157.3" cy="259.9" r="1.85"/><circle cx="159.0" cy="260.6" r="1.85"/><circle cx="160.8" cy="260.6" r="1.85"/><circle cx="129.0" cy="262.5" r="1.85"/><circle cx="130.5" cy="263.0" r="1.85"/><circle cx="131.8" cy="262.4" r="1.85"/><circle cx="134.6" cy="263.0" r="1.85"/><circle cx="142.4" cy="262.9" r="1.85"/><circle cx="144.2" cy="262.3" r="1.85"/><circle cx="145.4" cy="262.6" r="1.85"/><circle cx="147.3" cy="263.0" r="1.85"/><circle cx="149.3" cy="262.6" r="1.85"/><circle cx="150.4" cy="262.5" r="1.85"/><circle cx="152.2" cy="262.9" r="1.85"/><circle cx="154.1" cy="262.2" r="1.85"/><circle cx="155.4" cy="262.1" r="1.85"/><circle cx="157.4" cy="262.8" r="1.85"/><circle cx="159.0" cy="262.2" r="1.85"/><circle cx="160.4" cy="262.3" r="1.85"/><circle cx="129.8" cy="264.5" r="1.85"/><circle cx="131.7" cy="265.1" r="1.85"/><circle cx="133.5" cy="264.8" r="1.85"/><circle cx="134.8" cy="265.3" r="1.85"/><circle cx="136.8" cy="265.2" r="1.85"/><circle cx="138.3" cy="264.6" r="1.85"/><circle cx="140.3" cy="265.1" r="1.85"/><circle cx="141.8" cy="265.0" r="1.85"/><circle cx="143.3" cy="265.2" r="1.85"/><circle cx="145.5" cy="264.8" r="1.85"/><circle cx="146.9" cy="265.2" r="1.85"/><circle cx="148.9" cy="265.0" r="1.85"/><circle cx="150.4" cy="264.7" r="1.85"/><circle cx="152.0" cy="264.6" r="1.85"/><circle cx="153.9" cy="265.5" r="1.85"/><circle cx="155.7" cy="264.7" r="1.85"/><circle cx="157.3" cy="264.7" r="1.85"/><circle cx="158.8" cy="264.9" r="1.85"/><circle cx="160.5" cy="265.3" r="1.85"/><circle cx="128.6" cy="267.2" r="1.85"/><circle cx="130.2" cy="267.4" r="1.85"/><circle cx="132.0" cy="267.1" r="1.85"/><circle cx="133.5" cy="267.9" r="1.85"/><circle cx="135.3" cy="267.0" r="1.85"/><circle cx="136.8" cy="267.8" r="1.85"/><circle cx="138.9" cy="267.2" r="1.85"/><circle cx="140.3" cy="267.6" r="1.85"/><circle cx="142.2" cy="267.1" r="1.85"/><circle cx="143.8" cy="267.9" r="1.85"/><circle cx="145.4" cy="267.6" r="1.85"/><circle cx="147.2" cy="267.3" r="1.85"/><circle cx="148.8" cy="267.3" r="1.85"/><circle cx="150.3" cy="267.1" r="1.85"/><circle cx="152.4" cy="267.3" r="1.85"/><circle cx="153.7" cy="267.6" r="1.85"/><circle cx="155.5" cy="267.5" r="1.85"/><circle cx="159.1" cy="267.2" r="1.85"/><circle cx="160.7" cy="267.0" r="1.85"/><circle cx="125.1" cy="269.9" r="1.85"/><circle cx="126.4" cy="269.5" r="1.85"/><circle cx="128.7" cy="270.0" r="1.85"/><circle cx="130.1" cy="270.5" r="1.85"/><circle cx="132.0" cy="269.7" r="1.85"/><circle cx="133.4" cy="269.9" r="1.85"/><circle cx="135.3" cy="270.2" r="1.85"/><circle cx="136.6" cy="269.9" r="1.85"/><circle cx="138.2" cy="269.6" r="1.85"/><circle cx="140.0" cy="269.5" r="1.85"/><circle cx="142.0" cy="270.3" r="1.85"/><circle cx="143.7" cy="270.4" r="1.85"/><circle cx="144.8" cy="269.8" r="1.85"/><circle cx="147.1" cy="269.4" r="1.85"/><circle cx="148.6" cy="269.7" r="1.85"/><circle cx="150.3" cy="269.5" r="1.85"/><circle cx="151.7" cy="270.3" r="1.85"/><circle cx="153.5" cy="269.4" r="1.85"/><circle cx="156.7" cy="269.9" r="1.85"/><circle cx="158.7" cy="269.9" r="1.85"/><circle cx="160.0" cy="270.4" r="1.85"/><circle cx="161.6" cy="270.4" r="1.85"/><circle cx="128.6" cy="272.8" r="1.85"/><circle cx="130.5" cy="272.1" r="1.85"/><circle cx="132.0" cy="272.8" r="1.85"/><circle cx="134.0" cy="273.0" r="1.85"/><circle cx="135.3" cy="272.8" r="1.85"/><circle cx="137.3" cy="272.9" r="1.85"/><circle cx="138.6" cy="272.8" r="1.85"/><circle cx="140.6" cy="272.8" r="1.85"/><circle cx="142.2" cy="272.8" r="1.85"/><circle cx="144.0" cy="272.3" r="1.85"/><circle cx="145.5" cy="272.9" r="1.85"/><circle cx="147.2" cy="271.9" r="1.85"/><circle cx="149.1" cy="272.4" r="1.85"/><circle cx="150.5" cy="272.7" r="1.85"/><circle cx="152.0" cy="272.2" r="1.85"/><circle cx="153.7" cy="272.9" r="1.85"/><circle cx="155.3" cy="272.5" r="1.85"/><circle cx="162.0" cy="272.4" r="1.85"/><circle cx="128.4" cy="275.2" r="1.85"/><circle cx="129.6" cy="275.1" r="1.85"/><circle cx="131.2" cy="274.5" r="1.85"/><circle cx="132.8" cy="274.7" r="1.85"/><circle cx="134.6" cy="275.3" r="1.85"/><circle cx="137.7" cy="275.2" r="1.85"/><circle cx="139.8" cy="275.3" r="1.85"/><circle cx="141.0" cy="274.9" r="1.85"/><circle cx="144.5" cy="274.9" r="1.85"/><circle cx="146.5" cy="275.0" r="1.85"/><circle cx="148.0" cy="275.3" r="1.85"/><circle cx="149.4" cy="275.4" r="1.85"/><circle cx="151.3" cy="274.9" r="1.85"/><circle cx="152.9" cy="274.6" r="1.85"/><circle cx="154.4" cy="274.8" r="1.85"/><circle cx="162.0" cy="274.9" r="1.85"/><circle cx="126.5" cy="277.2" r="1.85"/><circle cx="128.0" cy="277.6" r="1.85"/><circle cx="129.0" cy="277.0" r="1.85"/><circle cx="130.6" cy="277.8" r="1.85"/><circle cx="132.1" cy="276.9" r="1.85"/><circle cx="138.7" cy="277.1" r="1.85"/><circle cx="140.5" cy="277.8" r="1.85"/><circle cx="142.1" cy="277.1" r="1.85"/><circle cx="143.5" cy="277.5" r="1.85"/><circle cx="145.2" cy="277.5" r="1.85"/><circle cx="146.8" cy="277.1" r="1.85"/><circle cx="148.7" cy="277.6" r="1.85"/><circle cx="150.3" cy="277.4" r="1.85"/><circle cx="152.0" cy="277.2" r="1.85"/><circle cx="154.0" cy="277.2" r="1.85"/><circle cx="155.3" cy="277.2" r="1.85"/><circle cx="157.0" cy="277.0" r="1.85"/><circle cx="159.0" cy="277.6" r="1.85"/><circle cx="160.8" cy="277.2" r="1.85"/><circle cx="127.4" cy="279.6" r="1.85"/><circle cx="129.0" cy="280.2" r="1.85"/><circle cx="130.6" cy="279.9" r="1.85"/><circle cx="132.3" cy="279.6" r="1.85"/><circle cx="134.4" cy="280.0" r="1.85"/><circle cx="135.5" cy="279.7" r="1.85"/><circle cx="137.4" cy="279.8" r="1.85"/><circle cx="138.9" cy="280.3" r="1.85"/><circle cx="140.9" cy="280.3" r="1.85"/><circle cx="142.5" cy="279.8" r="1.85"/><circle cx="144.2" cy="280.1" r="1.85"/><circle cx="145.8" cy="279.7" r="1.85"/><circle cx="147.6" cy="279.6" r="1.85"/><circle cx="148.7" cy="279.6" r="1.85"/><circle cx="150.5" cy="279.5" r="1.85"/><circle cx="152.1" cy="280.4" r="1.85"/><circle cx="153.6" cy="280.3" r="1.85"/><circle cx="155.7" cy="279.7" r="1.85"/><circle cx="160.8" cy="279.4" r="1.85"/><circle cx="128.7" cy="282.1" r="1.85"/><circle cx="130.4" cy="282.7" r="1.85"/><circle cx="132.2" cy="282.9" r="1.85"/><circle cx="134.1" cy="281.8" r="1.85"/><circle cx="135.5" cy="282.9" r="1.85"/><circle cx="137.1" cy="282.6" r="1.85"/><circle cx="139.0" cy="282.6" r="1.85"/><circle cx="140.4" cy="282.7" r="1.85"/><circle cx="142.5" cy="282.3" r="1.85"/><circle cx="144.3" cy="282.2" r="1.85"/><circle cx="146.0" cy="282.9" r="1.85"/><circle cx="147.7" cy="281.9" r="1.85"/><circle cx="149.2" cy="282.0" r="1.85"/><circle cx="150.7" cy="282.5" r="1.85"/><circle cx="152.5" cy="282.5" r="1.85"/><circle cx="154.0" cy="282.3" r="1.85"/><circle cx="155.7" cy="282.1" r="1.85"/><circle cx="157.4" cy="282.8" r="1.85"/><circle cx="159.2" cy="282.0" r="1.85"/><circle cx="130.1" cy="285.2" r="1.85"/><circle cx="131.5" cy="284.4" r="1.85"/><circle cx="135.0" cy="284.6" r="1.85"/><circle cx="136.7" cy="285.0" r="1.85"/><circle cx="138.4" cy="284.5" r="1.85"/><circle cx="139.9" cy="284.6" r="1.85"/><circle cx="141.3" cy="284.7" r="1.85"/><circle cx="143.2" cy="284.9" r="1.85"/><circle cx="144.9" cy="284.7" r="1.85"/><circle cx="146.5" cy="284.3" r="1.85"/><circle cx="147.7" cy="284.8" r="1.85"/><circle cx="149.3" cy="284.8" r="1.85"/><circle cx="151.3" cy="285.2" r="1.85"/><circle cx="152.5" cy="284.6" r="1.85"/><circle cx="154.2" cy="285.2" r="1.85"/><circle cx="156.0" cy="284.5" r="1.85"/><circle cx="157.9" cy="284.4" r="1.85"/><circle cx="159.3" cy="284.6" r="1.85"/><circle cx="132.3" cy="287.3" r="1.85"/><circle cx="139.6" cy="287.2" r="1.85"/><circle cx="141.6" cy="287.8" r="1.85"/><circle cx="143.4" cy="287.5" r="1.85"/><circle cx="145.0" cy="287.7" r="1.85"/><circle cx="146.3" cy="287.0" r="1.85"/><circle cx="147.7" cy="287.2" r="1.85"/><circle cx="149.5" cy="287.3" r="1.85"/><circle cx="151.3" cy="287.6" r="1.85"/><circle cx="154.7" cy="287.2" r="1.85"/><circle cx="155.9" cy="287.3" r="1.85"/><circle cx="157.9" cy="287.3" r="1.85"/><circle cx="159.5" cy="287.5" r="1.85"/><circle cx="133.6" cy="290.1" r="1.85"/><circle cx="135.6" cy="290.1" r="1.85"/><circle cx="137.1" cy="289.6" r="1.85"/><circle cx="138.9" cy="289.7" r="1.85"/><circle cx="140.0" cy="289.3" r="1.85"/><circle cx="141.9" cy="290.2" r="1.85"/><circle cx="143.9" cy="289.8" r="1.85"/><circle cx="145.2" cy="289.2" r="1.85"/><circle cx="147.0" cy="289.4" r="1.85"/><circle cx="148.6" cy="290.2" r="1.85"/><circle cx="150.2" cy="289.8" r="1.85"/><circle cx="151.8" cy="289.4" r="1.85"/><circle cx="153.2" cy="289.8" r="1.85"/><circle cx="155.0" cy="290.0" r="1.85"/><circle cx="156.8" cy="290.3" r="1.85"/><circle cx="158.5" cy="289.9" r="1.85"/><circle cx="161.5" cy="290.0" r="1.85"/><circle cx="133.6" cy="292.1" r="1.85"/><circle cx="135.2" cy="291.3" r="1.85"/><circle cx="137.0" cy="291.3" r="1.85"/><circle cx="138.7" cy="291.1" r="1.85"/><circle cx="140.1" cy="291.9" r="1.85"/><circle cx="141.8" cy="291.7" r="1.85"/><circle cx="143.6" cy="291.5" r="1.85"/><circle cx="145.1" cy="291.7" r="1.85"/><circle cx="148.9" cy="291.5" r="1.85"/><circle cx="150.1" cy="291.5" r="1.85"/><circle cx="152.1" cy="291.4" r="1.85"/><circle cx="155.2" cy="291.7" r="1.85"/><circle cx="156.7" cy="291.8" r="1.85"/><circle cx="158.3" cy="291.2" r="1.85"/><circle cx="161.6" cy="291.8" r="1.85"/><circle cx="58.4" cy="293.2" r="1.85"/><circle cx="75.0" cy="294.7" r="1.85"/><circle cx="81.4" cy="294.7" r="1.85"/><circle cx="97.1" cy="297.6" r="1.85"/><circle cx="101.4" cy="293.2" r="1.85"/><circle cx="92.1" cy="307.5" r="1.85"/><circle cx="74.8" cy="322.9" r="1.85"/><circle cx="76.7" cy="321.9" r="1.85"/><circle cx="77.3" cy="331.8" r="1.85"/><circle cx="110.0" cy="294.2" r="1.85"/><circle cx="119.9" cy="296.3" r="1.85"/><circle cx="160.1" cy="302.9" r="1.85"/><circle cx="159.2" cy="329.5" r="1.85"/><circle cx="106.7" cy="331.3" r="1.85"/><circle cx="120.1" cy="293.2" r="1.85"/><circle cx="121.0" cy="293.4" r="1.85"/><circle cx="122.5" cy="292.8" r="1.85"/><circle cx="131.4" cy="293.7" r="1.85"/><circle cx="132.9" cy="292.9" r="1.85"/><circle cx="133.9" cy="292.9" r="1.85"/><circle cx="135.3" cy="293.5" r="1.85"/><circle cx="137.0" cy="293.1" r="1.85"/><circle cx="146.2" cy="293.0" r="1.85"/><circle cx="147.6" cy="293.8" r="1.85"/><circle cx="149.4" cy="293.7" r="1.85"/><circle cx="151.3" cy="293.0" r="1.85"/><circle cx="152.6" cy="293.2" r="1.85"/><circle cx="154.4" cy="293.6" r="1.85"/><circle cx="128.7" cy="295.8" r="1.85"/><circle cx="130.4" cy="295.2" r="1.85"/><circle cx="132.1" cy="295.8" r="1.85"/><circle cx="133.7" cy="295.5" r="1.85"/><circle cx="135.3" cy="295.4" r="1.85"/><circle cx="137.1" cy="295.5" r="1.85"/><circle cx="138.4" cy="295.8" r="1.85"/><circle cx="140.5" cy="295.3" r="1.85"/><circle cx="141.8" cy="295.4" r="1.85"/><circle cx="143.7" cy="296.0" r="1.85"/><circle cx="145.5" cy="296.0" r="1.85"/><circle cx="147.0" cy="295.7" r="1.85"/><circle cx="148.8" cy="295.5" r="1.85"/><circle cx="150.5" cy="296.2" r="1.85"/><circle cx="152.1" cy="295.2" r="1.85"/><circle cx="153.6" cy="295.5" r="1.85"/><circle cx="155.3" cy="296.2" r="1.85"/><circle cx="157.0" cy="295.2" r="1.85"/><circle cx="127.6" cy="298.0" r="1.85"/><circle cx="128.9" cy="298.3" r="1.85"/><circle cx="130.7" cy="298.2" r="1.85"/><circle cx="132.3" cy="298.3" r="1.85"/><circle cx="134.2" cy="298.6" r="1.85"/><circle cx="135.9" cy="297.7" r="1.85"/><circle cx="137.4" cy="298.6" r="1.85"/><circle cx="139.0" cy="298.4" r="1.85"/><circle cx="142.4" cy="297.8" r="1.85"/><circle cx="143.8" cy="298.7" r="1.85"/><circle cx="145.2" cy="298.1" r="1.85"/><circle cx="146.8" cy="297.9" r="1.85"/><circle cx="148.9" cy="297.9" r="1.85"/><circle cx="150.4" cy="298.1" r="1.85"/><circle cx="151.7" cy="297.9" r="1.85"/><circle cx="153.8" cy="298.5" r="1.85"/><circle cx="154.9" cy="298.6" r="1.85"/><circle cx="157.0" cy="298.6" r="1.85"/><circle cx="127.2" cy="300.8" r="1.85"/><circle cx="128.5" cy="300.3" r="1.85"/><circle cx="129.8" cy="300.4" r="1.85"/><circle cx="137.4" cy="301.1" r="1.85"/><circle cx="140.8" cy="300.5" r="1.85"/><circle cx="142.3" cy="300.4" r="1.85"/><circle cx="143.7" cy="300.8" r="1.85"/><circle cx="145.4" cy="300.2" r="1.85"/><circle cx="146.8" cy="300.8" r="1.85"/><circle cx="148.5" cy="300.2" r="1.85"/><circle cx="149.9" cy="300.3" r="1.85"/><circle cx="151.5" cy="300.7" r="1.85"/><circle cx="153.3" cy="301.2" r="1.85"/><circle cx="154.8" cy="300.5" r="1.85"/><circle cx="156.6" cy="300.4" r="1.85"/><circle cx="158.0" cy="300.5" r="1.85"/><circle cx="126.8" cy="302.6" r="1.85"/><circle cx="128.5" cy="302.6" r="1.85"/><circle cx="139.9" cy="302.8" r="1.85"/><circle cx="141.6" cy="303.5" r="1.85"/><circle cx="143.1" cy="302.9" r="1.85"/><circle cx="146.4" cy="303.0" r="1.85"/><circle cx="147.7" cy="302.9" r="1.85"/><circle cx="149.2" cy="303.1" r="1.85"/><circle cx="150.6" cy="302.7" r="1.85"/><circle cx="154.1" cy="303.5" r="1.85"/><circle cx="155.5" cy="303.2" r="1.85"/><circle cx="138.8" cy="305.6" r="1.85"/><circle cx="140.1" cy="305.8" r="1.85"/><circle cx="141.9" cy="305.8" r="1.85"/><circle cx="143.4" cy="305.4" r="1.85"/><circle cx="145.2" cy="305.3" r="1.85"/><circle cx="147.0" cy="305.4" r="1.85"/><circle cx="148.7" cy="306.1" r="1.85"/><circle cx="150.3" cy="306.1" r="1.85"/><circle cx="151.6" cy="305.6" r="1.85"/><circle cx="153.6" cy="305.2" r="1.85"/><circle cx="155.3" cy="305.3" r="1.85"/><circle cx="156.9" cy="305.4" r="1.85"/><circle cx="137.5" cy="308.0" r="1.85"/><circle cx="139.0" cy="307.6" r="1.85"/><circle cx="140.7" cy="307.6" r="1.85"/><circle cx="142.1" cy="307.9" r="1.85"/><circle cx="143.9" cy="308.1" r="1.85"/><circle cx="145.3" cy="308.2" r="1.85"/><circle cx="147.0" cy="308.0" r="1.85"/><circle cx="148.2" cy="308.0" r="1.85"/><circle cx="149.8" cy="307.7" r="1.85"/><circle cx="151.8" cy="308.1" r="1.85"/><circle cx="153.0" cy="308.0" r="1.85"/><circle cx="138.6" cy="310.1" r="1.85"/><circle cx="140.2" cy="311.1" r="1.85"/><circle cx="141.7" cy="311.1" r="1.85"/><circle cx="143.2" cy="310.2" r="1.85"/><circle cx="144.7" cy="311.0" r="1.85"/><circle cx="146.5" cy="310.2" r="1.85"/><circle cx="147.8" cy="310.4" r="1.85"/><circle cx="149.8" cy="311.1" r="1.85"/><circle cx="151.2" cy="310.7" r="1.85"/><circle cx="152.5" cy="310.7" r="1.85"/><circle cx="154.3" cy="310.5" r="1.85"/><circle cx="138.8" cy="313.2" r="1.85"/><circle cx="140.5" cy="313.1" r="1.85"/><circle cx="141.7" cy="312.7" r="1.85"/><circle cx="143.7" cy="312.6" r="1.85"/><circle cx="144.8" cy="312.5" r="1.85"/><circle cx="146.7" cy="312.9" r="1.85"/><circle cx="148.3" cy="312.9" r="1.85"/><circle cx="150.2" cy="312.5" r="1.85"/><circle cx="151.3" cy="312.9" r="1.85"/><circle cx="152.8" cy="312.6" r="1.85"/><circle cx="122.4" cy="315.5" r="1.85"/><circle cx="137.5" cy="315.0" r="1.85"/><circle cx="139.2" cy="315.6" r="1.85"/><circle cx="140.8" cy="315.3" r="1.85"/><circle cx="142.7" cy="315.6" r="1.85"/><circle cx="144.1" cy="316.0" r="1.85"/><circle cx="146.1" cy="315.1" r="1.85"/><circle cx="147.7" cy="315.7" r="1.85"/><circle cx="149.1" cy="315.1" r="1.85"/><circle cx="150.8" cy="316.0" r="1.85"/><circle cx="152.6" cy="315.8" r="1.85"/><circle cx="154.4" cy="315.9" r="1.85"/><circle cx="121.8" cy="318.0" r="1.85"/><circle cx="128.8" cy="317.6" r="1.85"/><circle cx="129.9" cy="317.7" r="1.85"/><circle cx="136.0" cy="318.3" r="1.85"/><circle cx="138.1" cy="317.7" r="1.85"/><circle cx="139.7" cy="318.1" r="1.85"/><circle cx="142.7" cy="317.6" r="1.85"/><circle cx="144.7" cy="317.8" r="1.85"/><circle cx="146.3" cy="318.2" r="1.85"/><circle cx="147.6" cy="318.0" r="1.85"/><circle cx="149.5" cy="318.1" r="1.85"/><circle cx="151.3" cy="318.3" r="1.85"/><circle cx="152.5" cy="317.9" r="1.85"/><circle cx="154.6" cy="317.7" r="1.85"/><circle cx="129.9" cy="320.6" r="1.85"/><circle cx="131.8" cy="320.3" r="1.85"/><circle cx="133.1" cy="319.9" r="1.85"/><circle cx="134.7" cy="320.9" r="1.85"/><circle cx="136.4" cy="320.8" r="1.85"/><circle cx="139.6" cy="319.9" r="1.85"/><circle cx="141.1" cy="320.2" r="1.85"/><circle cx="143.0" cy="320.1" r="1.85"/><circle cx="144.4" cy="320.0" r="1.85"/><circle cx="145.9" cy="320.9" r="1.85"/><circle cx="147.6" cy="320.6" r="1.85"/><circle cx="149.3" cy="320.4" r="1.85"/><circle cx="150.9" cy="320.4" r="1.85"/><circle cx="152.6" cy="320.4" r="1.85"/><circle cx="154.6" cy="320.6" r="1.85"/><circle cx="124.5" cy="322.7" r="1.85"/><circle cx="124.7" cy="322.7" r="1.85"/><circle cx="132.7" cy="323.4" r="1.85"/><circle cx="134.1" cy="323.1" r="1.85"/><circle cx="136.0" cy="323.4" r="1.85"/><circle cx="137.3" cy="323.5" r="1.85"/><circle cx="139.4" cy="323.3" r="1.85"/><circle cx="140.7" cy="322.6" r="1.85"/><circle cx="142.9" cy="323.2" r="1.85"/><circle cx="144.1" cy="323.2" r="1.85"/><circle cx="145.7" cy="322.7" r="1.85"/><circle cx="147.7" cy="322.4" r="1.85"/><circle cx="149.3" cy="322.5" r="1.85"/><circle cx="108.7" cy="325.9" r="1.85"/><circle cx="109.6" cy="325.9" r="1.85"/><circle cx="124.0" cy="325.2" r="1.85"/><circle cx="125.3" cy="325.1" r="1.85"/><circle cx="126.6" cy="325.5" r="1.85"/><circle cx="128.4" cy="325.0" r="1.85"/><circle cx="136.5" cy="325.1" r="1.85"/><circle cx="138.0" cy="325.6" r="1.85"/><circle cx="139.6" cy="325.3" r="1.85"/><circle cx="141.0" cy="325.5" r="1.85"/><circle cx="142.9" cy="325.4" r="1.85"/><circle cx="144.8" cy="325.2" r="1.85"/><circle cx="146.5" cy="325.5" r="1.85"/><circle cx="148.3" cy="325.2" r="1.85"/><circle cx="149.5" cy="325.6" r="1.85"/><circle cx="151.7" cy="325.1" r="1.85"/><circle cx="152.8" cy="325.2" r="1.85"/><circle cx="110.0" cy="327.9" r="1.85"/><circle cx="126.3" cy="328.1" r="1.85"/><circle cx="127.0" cy="328.2" r="1.85"/><circle cx="135.2" cy="327.3" r="1.85"/><circle cx="136.3" cy="327.6" r="1.85"/><circle cx="138.4" cy="328.4" r="1.85"/><circle cx="140.0" cy="328.4" r="1.85"/><circle cx="141.4" cy="327.8" r="1.85"/><circle cx="143.4" cy="327.8" r="1.85"/><circle cx="144.6" cy="327.7" r="1.85"/><circle cx="146.2" cy="327.5" r="1.85"/><circle cx="147.9" cy="327.5" r="1.85"/><circle cx="149.6" cy="327.9" r="1.85"/><circle cx="151.5" cy="328.1" r="1.85"/><circle cx="152.9" cy="327.9" r="1.85"/><circle cx="116.2" cy="330.3" r="1.85"/><circle cx="125.1" cy="330.3" r="1.85"/><circle cx="126.5" cy="330.5" r="1.85"/><circle cx="128.5" cy="330.1" r="1.85"/><circle cx="130.0" cy="330.7" r="1.85"/><circle cx="131.5" cy="330.3" r="1.85"/><circle cx="133.3" cy="330.2" r="1.85"/><circle cx="135.3" cy="330.8" r="1.85"/><circle cx="136.7" cy="330.7" r="1.85"/><circle cx="138.2" cy="330.3" r="1.85"/><circle cx="139.7" cy="330.2" r="1.85"/><circle cx="141.6" cy="329.8" r="1.85"/><circle cx="143.0" cy="330.2" r="1.85"/><circle cx="144.7" cy="330.2" r="1.85"/><circle cx="146.3" cy="330.0" r="1.85"/><circle cx="148.2" cy="330.0" r="1.85"/><circle cx="149.6" cy="330.1" r="1.85"/><circle cx="151.5" cy="330.1" r="1.85"/><circle cx="153.1" cy="330.6" r="1.85"/><circle cx="116.8" cy="332.8" r="1.85"/><circle cx="126.2" cy="333.0" r="1.85"/><circle cx="127.6" cy="333.1" r="1.85"/><circle cx="128.5" cy="333.0" r="1.85"/><circle cx="136.1" cy="333.2" r="1.85"/><circle cx="137.8" cy="332.4" r="1.85"/><circle cx="139.8" cy="333.0" r="1.85"/><circle cx="142.7" cy="332.5" r="1.85"/><circle cx="144.4" cy="333.1" r="1.85"/><circle cx="146.6" cy="333.0" r="1.85"/><circle cx="147.9" cy="332.6" r="1.85"/><circle cx="149.9" cy="332.5" r="1.85"/><circle cx="151.5" cy="332.5" r="1.85"/><circle cx="153.2" cy="332.6" r="1.85"/><circle cx="140.9" cy="335.0" r="1.85"/></g>
<g fill="#0a0a6a"><circle cx="125.7" cy="38.9" r="1.85"/><circle cx="124.5" cy="51.4" r="1.85"/><circle cx="92.4" cy="73.3" r="1.85"/><circle cx="56.3" cy="65.1" r="1.85"/><circle cx="73.8" cy="74.9" r="1.85"/><circle cx="78.8" cy="78.2" r="1.85"/><circle cx="57.7" cy="79.6" r="1.85"/><circle cx="78.5" cy="91.3" r="1.85"/><circle cx="96.4" cy="89.7" r="1.85"/><circle cx="99.5" cy="93.4" r="1.85"/><circle cx="90.9" cy="97.4" r="1.85"/><circle cx="85.7" cy="98.7" r="1.85"/><circle cx="115.8" cy="64.1" r="1.85"/><circle cx="122.2" cy="67.8" r="1.85"/><circle cx="127.7" cy="78.2" r="1.85"/><circle cx="141.9" cy="77.1" r="1.85"/><circle cx="146.5" cy="76.2" r="1.85"/><circle cx="130.4" cy="85.1" r="1.85"/><circle cx="127.3" cy="94.7" r="1.85"/><circle cx="124.0" cy="96.5" r="1.85"/><circle cx="124.9" cy="98.7" r="1.85"/><circle cx="142.2" cy="95.3" r="1.85"/><circle cx="158.3" cy="92.2" r="1.85"/><circle cx="72.7" cy="101.5" r="1.85"/><circle cx="85.7" cy="100.6" r="1.85"/><circle cx="78.8" cy="104.9" r="1.85"/><circle cx="93.1" cy="105.9" r="1.85"/><circle cx="56.3" cy="108.4" r="1.85"/><circle cx="81.6" cy="110.9" r="1.85"/><circle cx="66.4" cy="113.0" r="1.85"/><circle cx="86.9" cy="113.0" r="1.85"/><circle cx="89.0" cy="119.8" r="1.85"/><circle cx="88.4" cy="124.7" r="1.85"/><circle cx="67.6" cy="127.4" r="1.85"/><circle cx="84.7" cy="129.7" r="1.85"/><circle cx="101.4" cy="127.8" r="1.85"/><circle cx="48.2" cy="134.9" r="1.85"/><circle cx="52.3" cy="133.4" r="1.85"/><circle cx="76.7" cy="132.8" r="1.85"/><circle cx="65.5" cy="134.6" r="1.85"/><circle cx="85.3" cy="140.2" r="1.85"/><circle cx="97.7" cy="139.6" r="1.85"/><circle cx="82.8" cy="146.7" r="1.85"/><circle cx="92.1" cy="145.5" r="1.85"/><circle cx="116.8" cy="102.2" r="1.85"/><circle cx="135.4" cy="103.7" r="1.85"/><circle cx="138.1" cy="105.8" r="1.85"/><circle cx="142.8" cy="107.4" r="1.85"/><circle cx="126.5" cy="108.9" r="1.85"/><circle cx="110.7" cy="110.1" r="1.85"/><circle cx="107.6" cy="113.0" r="1.85"/><circle cx="104.5" cy="114.6" r="1.85"/><circle cx="143.8" cy="112.4" r="1.85"/><circle cx="153.7" cy="113.4" r="1.85"/><circle cx="119.3" cy="119.2" r="1.85"/><circle cx="127.1" cy="118.5" r="1.85"/><circle cx="137.9" cy="117.3" r="1.85"/><circle cx="124.5" cy="123.5" r="1.85"/><circle cx="134.4" cy="125.3" r="1.85"/><circle cx="103.0" cy="127.2" r="1.85"/><circle cx="129.8" cy="129.4" r="1.85"/><circle cx="133.9" cy="131.5" r="1.85"/><circle cx="108.2" cy="135.2" r="1.85"/><circle cx="110.9" cy="135.9" r="1.85"/><circle cx="118.1" cy="136.7" r="1.85"/><circle cx="152.1" cy="137.1" r="1.85"/><circle cx="155.2" cy="135.9" r="1.85"/><circle cx="128.0" cy="139.6" r="1.85"/><circle cx="133.5" cy="140.6" r="1.85"/><circle cx="121.8" cy="143.0" r="1.85"/><circle cx="128.6" cy="142.7" r="1.85"/><circle cx="135.4" cy="146.4" r="1.85"/><circle cx="74.8" cy="151.5" r="1.85"/><circle cx="80.4" cy="160.1" r="1.85"/><circle cx="90.3" cy="162.8" r="1.85"/><circle cx="60.2" cy="165.3" r="1.85"/><circle cx="64.3" cy="167.2" r="1.85"/><circle cx="71.1" cy="169.0" r="1.85"/><circle cx="64.9" cy="172.1" r="1.85"/><circle cx="76.0" cy="172.7" r="1.85"/><circle cx="67.4" cy="175.0" r="1.85"/><circle cx="98.3" cy="171.5" r="1.85"/><circle cx="69.2" cy="182.6" r="1.85"/><circle cx="84.1" cy="183.2" r="1.85"/><circle cx="67.4" cy="187.3" r="1.85"/><circle cx="53.8" cy="187.8" r="1.85"/><circle cx="48.8" cy="191.3" r="1.85"/><circle cx="74.8" cy="190.0" r="1.85"/><circle cx="92.1" cy="193.7" r="1.85"/><circle cx="110.0" cy="152.3" r="1.85"/><circle cx="123.6" cy="153.2" r="1.85"/><circle cx="128.0" cy="149.9" r="1.85"/><circle cx="139.1" cy="149.9" r="1.85"/><circle cx="142.2" cy="153.2" r="1.85"/><circle cx="145.9" cy="155.4" r="1.85"/><circle cx="137.2" cy="159.7" r="1.85"/><circle cx="151.5" cy="162.8" r="1.85"/><circle cx="117.5" cy="173.3" r="1.85"/><circle cx="119.9" cy="175.8" r="1.85"/><circle cx="103.5" cy="174.6" r="1.85"/><circle cx="148.4" cy="174.6" r="1.85"/><circle cx="144.7" cy="180.8" r="1.85"/><circle cx="155.2" cy="178.9" r="1.85"/><circle cx="132.3" cy="181.1" r="1.85"/><circle cx="118.3" cy="183.9" r="1.85"/><circle cx="110.4" cy="186.7" r="1.85"/><circle cx="137.2" cy="186.6" r="1.85"/><circle cx="161.1" cy="185.7" r="1.85"/><circle cx="103.9" cy="190.0" r="1.85"/><circle cx="105.7" cy="191.9" r="1.85"/><circle cx="117.5" cy="192.5" r="1.85"/><circle cx="133.5" cy="195.4" r="1.85"/><circle cx="56.9" cy="200.3" r="1.85"/><circle cx="58.1" cy="202.2" r="1.85"/><circle cx="56.5" cy="204.4" r="1.85"/><circle cx="82.8" cy="202.8" r="1.85"/><circle cx="94.6" cy="200.3" r="1.85"/><circle cx="99.5" cy="207.4" r="1.85"/><circle cx="55.6" cy="213.3" r="1.85"/><circle cx="63.1" cy="213.3" r="1.85"/><circle cx="63.7" cy="215.2" r="1.85"/><circle cx="83.5" cy="218.9" r="1.85"/><circle cx="101.4" cy="215.8" r="1.85"/><circle cx="61.0" cy="222.6" r="1.85"/><circle cx="95.8" cy="221.7" r="1.85"/><circle cx="72.3" cy="225.1" r="1.85"/><circle cx="74.2" cy="224.2" r="1.85"/><circle cx="55.6" cy="227.5" r="1.85"/><circle cx="85.9" cy="228.4" r="1.85"/><circle cx="46.4" cy="233.5" r="1.85"/><circle cx="64.9" cy="234.3" r="1.85"/><circle cx="95.2" cy="236.8" r="1.85"/><circle cx="63.7" cy="238.7" r="1.85"/><circle cx="58.1" cy="239.9" r="1.85"/><circle cx="70.5" cy="241.1" r="1.85"/><circle cx="90.3" cy="239.3" r="1.85"/><circle cx="80.4" cy="243.0" r="1.85"/><circle cx="129.2" cy="198.2" r="1.85"/><circle cx="108.8" cy="201.2" r="1.85"/><circle cx="107.2" cy="204.7" r="1.85"/><circle cx="112.1" cy="204.9" r="1.85"/><circle cx="138.5" cy="204.0" r="1.85"/><circle cx="142.8" cy="203.4" r="1.85"/><circle cx="149.6" cy="207.7" r="1.85"/><circle cx="152.1" cy="208.4" r="1.85"/><circle cx="140.3" cy="209.6" r="1.85"/><circle cx="160.7" cy="212.1" r="1.85"/><circle cx="127.3" cy="211.5" r="1.85"/><circle cx="115.4" cy="211.8" r="1.85"/><circle cx="121.2" cy="214.3" r="1.85"/><circle cx="108.4" cy="215.2" r="1.85"/><circle cx="102.0" cy="215.8" r="1.85"/><circle cx="133.5" cy="219.5" r="1.85"/><circle cx="134.8" cy="220.7" r="1.85"/><circle cx="138.5" cy="222.6" r="1.85"/><circle cx="142.8" cy="220.7" r="1.85"/><circle cx="142.8" cy="225.1" r="1.85"/><circle cx="155.8" cy="218.9" r="1.85"/><circle cx="126.1" cy="224.4" r="1.85"/><circle cx="127.3" cy="225.7" r="1.85"/><circle cx="115.8" cy="225.7" r="1.85"/><circle cx="116.8" cy="224.4" r="1.85"/><circle cx="157.6" cy="226.3" r="1.85"/><circle cx="158.6" cy="230.0" r="1.85"/><circle cx="128.6" cy="231.2" r="1.85"/><circle cx="132.3" cy="233.7" r="1.85"/><circle cx="132.9" cy="235.6" r="1.85"/><circle cx="142.2" cy="236.2" r="1.85"/><circle cx="147.7" cy="237.4" r="1.85"/><circle cx="141.6" cy="241.1" r="1.85"/><circle cx="137.9" cy="242.7" r="1.85"/><circle cx="103.9" cy="239.9" r="1.85"/><circle cx="49.5" cy="252.3" r="1.85"/><circle cx="63.7" cy="249.9" r="1.85"/><circle cx="99.5" cy="245.2" r="1.85"/><circle cx="90.3" cy="256.1" r="1.85"/><circle cx="95.8" cy="256.4" r="1.85"/><circle cx="94.6" cy="259.5" r="1.85"/><circle cx="69.2" cy="259.1" r="1.85"/><circle cx="69.2" cy="267.7" r="1.85"/><circle cx="93.3" cy="267.7" r="1.85"/><circle cx="81.6" cy="273.9" r="1.85"/><circle cx="98.0" cy="274.5" r="1.85"/><circle cx="56.9" cy="280.7" r="1.85"/><circle cx="64.9" cy="282.1" r="1.85"/><circle cx="75.2" cy="280.7" r="1.85"/><circle cx="84.7" cy="279.6" r="1.85"/><circle cx="89.0" cy="283.8" r="1.85"/><circle cx="90.3" cy="284.6" r="1.85"/><circle cx="55.0" cy="288.9" r="1.85"/><circle cx="147.1" cy="246.2" r="1.85"/><circle cx="155.8" cy="249.2" r="1.85"/><circle cx="120.5" cy="251.4" r="1.85"/><circle cx="102.6" cy="258.2" r="1.85"/><circle cx="107.9" cy="263.2" r="1.85"/><circle cx="103.2" cy="270.0" r="1.85"/><circle cx="120.3" cy="271.2" r="1.85"/><circle cx="162.6" cy="259.5" r="1.85"/><circle cx="147.1" cy="263.8" r="1.85"/><circle cx="149.0" cy="265.6" r="1.85"/><circle cx="162.0" cy="263.8" r="1.85"/><circle cx="135.4" cy="269.3" r="1.85"/><circle cx="132.9" cy="273.1" r="1.85"/><circle cx="131.7" cy="274.3" r="1.85"/><circle cx="145.5" cy="270.0" r="1.85"/><circle cx="156.4" cy="270.3" r="1.85"/><circle cx="162.8" cy="269.1" r="1.85"/><circle cx="145.9" cy="281.1" r="1.85"/><circle cx="148.4" cy="282.3" r="1.85"/><circle cx="126.7" cy="282.9" r="1.85"/><circle cx="155.8" cy="283.8" r="1.85"/><circle cx="159.5" cy="289.5" r="1.85"/><circle cx="161.3" cy="290.4" r="1.85"/><circle cx="141.6" cy="290.7" r="1.85"/><circle cx="94.0" cy="295.7" r="1.85"/><circle cx="72.0" cy="305.4" r="1.85"/><circle cx="46.7" cy="332.6" r="1.85"/><circle cx="115.8" cy="293.9" r="1.85"/><circle cx="126.1" cy="293.9" r="1.85"/><circle cx="141.3" cy="293.9" r="1.85"/><circle cx="153.3" cy="296.3" r="1.85"/><circle cx="118.1" cy="301.9" r="1.85"/><circle cx="133.5" cy="303.1" r="1.85"/><circle cx="135.4" cy="303.1" r="1.85"/><circle cx="144.7" cy="304.4" r="1.85"/><circle cx="153.3" cy="304.1" r="1.85"/><circle cx="142.8" cy="311.2" r="1.85"/><circle cx="153.3" cy="314.9" r="1.85"/><circle cx="110.9" cy="315.2" r="1.85"/><circle cx="107.2" cy="318.2" r="1.85"/><circle cx="137.9" cy="320.4" r="1.85"/><circle cx="144.7" cy="325.4" r="1.85"/><circle cx="151.5" cy="326.0" r="1.85"/><circle cx="119.6" cy="330.6" r="1.85"/><circle cx="159.2" cy="327.9" r="1.85"/><circle cx="140.9" cy="335.5" r="1.85"/><circle cx="146.5" cy="334.0" r="1.85"/></g>
<g fill="#0a0a6a"><circle cx="83.5" cy="118.5" r="1.1"/><circle cx="98.3" cy="119.2" r="1.1"/><circle cx="93.3" cy="123.5" r="1.1"/><circle cx="70.8" cy="122.9" r="1.1"/><circle cx="67.4" cy="137.1" r="1.1"/><circle cx="76.7" cy="143.3" r="1.1"/><circle cx="147.5" cy="111.7" r="1.1"/><circle cx="149.6" cy="116.1" r="1.1"/><circle cx="149.0" cy="124.1" r="1.1"/><circle cx="124.6" cy="130.0" r="1.1"/><circle cx="144.0" cy="134.6" r="1.1"/><circle cx="151.2" cy="131.9" r="1.1"/><circle cx="139.1" cy="138.3" r="1.1"/><circle cx="145.9" cy="142.7" r="1.1"/><circle cx="69.9" cy="163.5" r="1.1"/><circle cx="84.1" cy="170.3" r="1.1"/><circle cx="57.5" cy="178.0" r="1.1"/><circle cx="80.4" cy="191.0" r="1.1"/><circle cx="83.5" cy="193.1" r="1.1"/><circle cx="101.4" cy="174.6" r="1.1"/><circle cx="152.7" cy="149.2" r="1.1"/><circle cx="136.6" cy="162.2" r="1.1"/><circle cx="116.8" cy="161.0" r="1.1"/><circle cx="112.5" cy="165.3" r="1.1"/><circle cx="106.3" cy="161.6" r="1.1"/><circle cx="139.7" cy="169.6" r="1.1"/><circle cx="134.1" cy="171.5" r="1.1"/><circle cx="147.1" cy="177.1" r="1.1"/><circle cx="139.1" cy="176.4" r="1.1"/><circle cx="130.4" cy="191.3" r="1.1"/><circle cx="138.5" cy="190.7" r="1.1"/><circle cx="69.2" cy="197.2" r="1.1"/><circle cx="71.7" cy="217.6" r="1.1"/><circle cx="64.3" cy="228.4" r="1.1"/><circle cx="92.7" cy="227.5" r="1.1"/><circle cx="96.4" cy="226.9" r="1.1"/><circle cx="87.2" cy="234.1" r="1.1"/><circle cx="134.8" cy="205.3" r="1.1"/><circle cx="150.8" cy="202.8" r="1.1"/><circle cx="141.6" cy="211.5" r="1.1"/><circle cx="131.7" cy="214.5" r="1.1"/><circle cx="139.7" cy="216.4" r="1.1"/><circle cx="147.1" cy="225.7" r="1.1"/><circle cx="158.3" cy="220.7" r="1.1"/><circle cx="125.5" cy="233.1" r="1.1"/><circle cx="121.8" cy="235.6" r="1.1"/><circle cx="153.9" cy="233.7" r="1.1"/><circle cx="157.6" cy="240.5" r="1.1"/><circle cx="78.5" cy="260.7" r="1.1"/><circle cx="122.4" cy="245.5" r="1.1"/><circle cx="134.1" cy="257.0" r="1.1"/><circle cx="149.6" cy="254.5" r="1.1"/><circle cx="160.1" cy="257.0" r="1.1"/><circle cx="142.2" cy="260.7" r="1.1"/><circle cx="151.5" cy="264.4" r="1.1"/><circle cx="139.7" cy="273.1" r="1.1"/><circle cx="129.8" cy="279.2" r="1.1"/><circle cx="150.8" cy="286.7" r="1.1"/><circle cx="132.3" cy="284.2" r="1.1"/><circle cx="148.4" cy="308.7" r="1.1"/><circle cx="140.3" cy="313.0" r="1.1"/><circle cx="135.4" cy="312.4" r="1.1"/><circle cx="151.5" cy="318.0" r="1.1"/><circle cx="147.1" cy="319.8" r="1.1"/><circle cx="136.6" cy="322.9" r="1.1"/><circle cx="149.6" cy="327.9" r="1.1"/><circle cx="131.7" cy="331.6" r="1.1"/><circle cx="58.5" cy="104.2" r="1.1"/><circle cx="86.5" cy="132.9" r="1.1"/><circle cx="120.6" cy="112.6" r="1.1"/><circle cx="116.7" cy="115.8" r="1.1"/><circle cx="139.2" cy="129.4" r="1.1"/><circle cx="141.1" cy="139.9" r="1.1"/><circle cx="131.5" cy="146.2" r="1.1"/><circle cx="146.8" cy="146.7" r="1.1"/><circle cx="88.6" cy="165.3" r="1.1"/><circle cx="73.9" cy="171.2" r="1.1"/><circle cx="76.4" cy="174.9" r="1.1"/><circle cx="79.5" cy="189.0" r="1.1"/><circle cx="110.1" cy="148.7" r="1.1"/><circle cx="138.2" cy="153.4" r="1.1"/><circle cx="144.9" cy="157.4" r="1.1"/><circle cx="145.3" cy="163.2" r="1.1"/><circle cx="137.8" cy="168.9" r="1.1"/><circle cx="122.9" cy="170.0" r="1.1"/><circle cx="152.3" cy="174.3" r="1.1"/><circle cx="118.4" cy="177.6" r="1.1"/><circle cx="135.5" cy="178.5" r="1.1"/><circle cx="141.6" cy="181.3" r="1.1"/><circle cx="140.1" cy="183.5" r="1.1"/><circle cx="115.4" cy="186.8" r="1.1"/><circle cx="150.0" cy="187.8" r="1.1"/><circle cx="76.7" cy="209.8" r="1.1"/><circle cx="86.8" cy="226.1" r="1.1"/><circle cx="120.2" cy="195.8" r="1.1"/><circle cx="132.1" cy="197.5" r="1.1"/><circle cx="103.9" cy="201.0" r="1.1"/><circle cx="148.1" cy="210.4" r="1.1"/><circle cx="146.8" cy="213.7" r="1.1"/><circle cx="141.4" cy="217.7" r="1.1"/><circle cx="123.9" cy="221.2" r="1.1"/><circle cx="122.2" cy="227.4" r="1.1"/><circle cx="135.6" cy="228.7" r="1.1"/><circle cx="133.2" cy="230.3" r="1.1"/><circle cx="145.4" cy="227.9" r="1.1"/><circle cx="138.6" cy="232.9" r="1.1"/><circle cx="143.8" cy="232.6" r="1.1"/><circle cx="148.3" cy="230.7" r="1.1"/><circle cx="138.9" cy="237.2" r="1.1"/><circle cx="145.3" cy="239.2" r="1.1"/><circle cx="114.2" cy="242.7" r="1.1"/><circle cx="128.6" cy="248.2" r="1.1"/><circle cx="132.0" cy="249.2" r="1.1"/><circle cx="136.1" cy="248.0" r="1.1"/><circle cx="142.4" cy="249.8" r="1.1"/><circle cx="149.7" cy="245.2" r="1.1"/><circle cx="141.1" cy="252.0" r="1.1"/><circle cx="145.3" cy="253.4" r="1.1"/><circle cx="132.3" cy="258.8" r="1.1"/><circle cx="150.8" cy="261.5" r="1.1"/><circle cx="130.8" cy="264.1" r="1.1"/><circle cx="135.8" cy="266.9" r="1.1"/><circle cx="143.5" cy="267.9" r="1.1"/><circle cx="138.8" cy="276.1" r="1.1"/><circle cx="127.0" cy="279.6" r="1.1"/><circle cx="148.7" cy="287.1" r="1.1"/><circle cx="151.3" cy="288.7" r="1.1"/><circle cx="157.3" cy="288.0" r="1.1"/><circle cx="137.4" cy="292.8" r="1.1"/><circle cx="134.4" cy="299.0" r="1.1"/><circle cx="155.4" cy="292.2" r="1.1"/><circle cx="135.2" cy="324.3" r="1.1"/><circle cx="143.7" cy="322.6" r="1.1"/><circle cx="116.0" cy="331.3" r="1.1"/></g>
<text class="ax" x="107.5" y="382.3" text-anchor="middle" textLength="123.6" lengthAdjust="spacingAndGlyphs">Standardized Speed Average</text>
<text class="ax" transform="translate(15.5 166.2) rotate(-90)" text-anchor="middle" textLength="100" lengthAdjust="spacingAndGlyphs">Standardized V/C Ratio</text>
<text class="lt" x="184.8" y="166.0" textLength="86.2" lengthAdjust="spacingAndGlyphs">CrashSeverityLevel</text>
<rect x="184.6" y="171" width="15.4" height="30.6" fill="#f2f2f2"/>
<circle cx="193.2" cy="179.3" r="1.7" fill="#0a0a6a"/><circle cx="193.2" cy="194.6" r="1.7" fill="#fca50a"/>
<text class="ll" transform="translate(206 183.2) scale(0.89 1)">Injury/Fatal</text><text class="ll" transform="translate(206 198.0) scale(0.89 1)">PDO</text>
<g transform="translate(274.78 0) scale(0.9949 1)">
<rect x="36.2" y="6.1" width="133.6" height="345.3" fill="#ebebeb"/>
<path d="M50.7 6.1V351.4M79.9 6.1V351.4M109.1 6.1V351.4M138.2 6.1V351.4M36.2 24.8H169.8M36.2 92.4H169.8M36.2 160.1H169.8M36.2 227.7H169.8M36.2 295.3H169.8" stroke="#f6f6f6" stroke-width="0.7" fill="none"/>
<path d="M65.2 6.1V351.4M94.5 6.1V351.4M123.7 6.1V351.4M152.8 6.1V351.4M36.2 58.6H169.8M36.2 126.2H169.8M36.2 193.9H169.8M36.2 261.5H169.8M36.2 329.1H169.8" stroke="#fcfcfc" stroke-width="1" fill="none"/>
<path d="M65.2 351.4v2.2M94.5 351.4v2.2M123.7 351.4v2.2M152.8 351.4v2.2M36.2 58.6h-2.4M36.2 126.2h-2.4M36.2 193.9h-2.4M36.2 261.5h-2.4M36.2 329.1h-2.4" stroke="#666" stroke-width="0.8" fill="none"/>
<g class="tk">
<text transform="translate(64.3 363.7) scale(0.86 1)" text-anchor="middle">-2</text>
<text transform="translate(93.5 363.7) scale(0.86 1)" text-anchor="middle">-1</text>
<text transform="translate(122.8 363.7) scale(0.86 1)" text-anchor="middle">0</text>
<text transform="translate(151.9 363.7) scale(0.86 1)" text-anchor="middle">1</text>
<text transform="translate(31.4 61.9) scale(0.86 1)" text-anchor="end">2</text>
<text transform="translate(31.4 129.6) scale(0.86 1)" text-anchor="end">1</text>
<text transform="translate(31.4 197.2) scale(0.86 1)" text-anchor="end">0</text>
<text transform="translate(31.4 264.9) scale(0.86 1)" text-anchor="end">-1</text>
<text transform="translate(31.4 332.5) scale(0.86 1)" text-anchor="end">-2</text>
</g>
<g fill="#fca50a"><circle cx="142.8" cy="98.4" r="1.85"/><circle cx="53.8" cy="101.5" r="1.85"/><circle cx="62.6" cy="102.1" r="1.85"/><circle cx="69.1" cy="102.1" r="1.85"/><circle cx="79.4" cy="102.1" r="1.85"/><circle cx="80.9" cy="101.7" r="1.85"/><circle cx="52.5" cy="104.3" r="1.85"/><circle cx="67.9" cy="103.9" r="1.85"/><circle cx="69.7" cy="103.2" r="1.85"/><circle cx="86.4" cy="103.6" r="1.85"/><circle cx="62.4" cy="105.9" r="1.85"/><circle cx="65.2" cy="105.9" r="1.85"/><circle cx="72.6" cy="105.4" r="1.85"/><circle cx="74.9" cy="106.0" r="1.85"/><circle cx="85.0" cy="106.7" r="1.85"/><circle cx="86.5" cy="106.4" r="1.85"/><circle cx="99.7" cy="106.5" r="1.85"/><circle cx="62.0" cy="108.2" r="1.85"/><circle cx="78.0" cy="109.0" r="1.85"/><circle cx="89.0" cy="109.3" r="1.85"/><circle cx="51.3" cy="110.5" r="1.85"/><circle cx="54.4" cy="112.4" r="1.85"/><circle cx="73.2" cy="110.4" r="1.85"/><circle cx="76.8" cy="114.2" r="1.85"/><circle cx="79.1" cy="114.1" r="1.85"/><circle cx="54.4" cy="116.7" r="1.85"/><circle cx="75.6" cy="116.5" r="1.85"/><circle cx="85.2" cy="116.0" r="1.85"/><circle cx="91.5" cy="117.3" r="1.85"/><circle cx="52.5" cy="123.5" r="1.85"/><circle cx="61.1" cy="119.2" r="1.85"/><circle cx="79.2" cy="118.4" r="1.85"/><circle cx="60.1" cy="121.5" r="1.85"/><circle cx="64.3" cy="121.5" r="1.85"/><circle cx="72.1" cy="121.0" r="1.85"/><circle cx="79.1" cy="120.4" r="1.85"/><circle cx="84.1" cy="121.8" r="1.85"/><circle cx="92.3" cy="121.2" r="1.85"/><circle cx="52.9" cy="123.5" r="1.85"/><circle cx="61.2" cy="122.9" r="1.85"/><circle cx="50.1" cy="126.6" r="1.85"/><circle cx="62.3" cy="125.7" r="1.85"/><circle cx="63.9" cy="126.5" r="1.85"/><circle cx="79.3" cy="126.6" r="1.85"/><circle cx="54.4" cy="129.7" r="1.85"/><circle cx="62.9" cy="127.9" r="1.85"/><circle cx="61.7" cy="130.9" r="1.85"/><circle cx="73.2" cy="130.2" r="1.85"/><circle cx="94.0" cy="131.7" r="1.85"/><circle cx="70.3" cy="133.7" r="1.85"/><circle cx="86.6" cy="133.6" r="1.85"/><circle cx="70.9" cy="135.9" r="1.85"/><circle cx="73.9" cy="136.5" r="1.85"/><circle cx="92.8" cy="135.7" r="1.85"/><circle cx="62.0" cy="138.9" r="1.85"/><circle cx="64.3" cy="138.5" r="1.85"/><circle cx="70.3" cy="138.1" r="1.85"/><circle cx="78.8" cy="138.9" r="1.85"/><circle cx="81.8" cy="139.1" r="1.85"/><circle cx="52.5" cy="140.8" r="1.85"/><circle cx="56.6" cy="140.8" r="1.85"/><circle cx="74.4" cy="140.1" r="1.85"/><circle cx="81.0" cy="140.5" r="1.85"/><circle cx="91.4" cy="140.0" r="1.85"/><circle cx="59.4" cy="143.8" r="1.85"/><circle cx="62.1" cy="143.9" r="1.85"/><circle cx="70.7" cy="142.4" r="1.85"/><circle cx="72.3" cy="142.7" r="1.85"/><circle cx="80.2" cy="143.3" r="1.85"/><circle cx="56.4" cy="146.0" r="1.85"/><circle cx="56.3" cy="147.7" r="1.85"/><circle cx="58.3" cy="146.7" r="1.85"/><circle cx="70.6" cy="145.2" r="1.85"/><circle cx="72.3" cy="146.9" r="1.85"/><circle cx="97.5" cy="145.7" r="1.85"/><circle cx="99.5" cy="144.9" r="1.85"/><circle cx="100.2" cy="146.8" r="1.85"/><circle cx="104.0" cy="101.1" r="1.85"/><circle cx="108.9" cy="100.5" r="1.85"/><circle cx="111.7" cy="100.6" r="1.85"/><circle cx="161.3" cy="100.4" r="1.85"/><circle cx="111.6" cy="103.2" r="1.85"/><circle cx="114.0" cy="103.7" r="1.85"/><circle cx="127.2" cy="103.0" r="1.85"/><circle cx="131.2" cy="103.0" r="1.85"/><circle cx="141.0" cy="103.4" r="1.85"/><circle cx="159.6" cy="103.7" r="1.85"/><circle cx="107.3" cy="106.2" r="1.85"/><circle cx="121.8" cy="105.7" r="1.85"/><circle cx="142.2" cy="105.9" r="1.85"/><circle cx="114.7" cy="108.2" r="1.85"/><circle cx="134.7" cy="107.8" r="1.85"/><circle cx="153.1" cy="109.3" r="1.85"/><circle cx="117.2" cy="110.4" r="1.85"/><circle cx="119.3" cy="110.4" r="1.85"/><circle cx="133.8" cy="111.8" r="1.85"/><circle cx="138.3" cy="111.9" r="1.85"/><circle cx="152.3" cy="111.6" r="1.85"/><circle cx="154.7" cy="111.9" r="1.85"/><circle cx="111.1" cy="114.0" r="1.85"/><circle cx="116.0" cy="113.9" r="1.85"/><circle cx="149.2" cy="113.5" r="1.85"/><circle cx="157.2" cy="113.7" r="1.85"/><circle cx="108.8" cy="116.0" r="1.85"/><circle cx="132.9" cy="115.2" r="1.85"/><circle cx="134.3" cy="115.2" r="1.85"/><circle cx="153.3" cy="115.6" r="1.85"/><circle cx="113.4" cy="118.1" r="1.85"/><circle cx="144.8" cy="118.1" r="1.85"/><circle cx="157.1" cy="118.7" r="1.85"/><circle cx="121.3" cy="120.9" r="1.85"/><circle cx="130.7" cy="121.1" r="1.85"/><circle cx="146.0" cy="121.0" r="1.85"/><circle cx="153.1" cy="121.0" r="1.85"/><circle cx="113.0" cy="123.2" r="1.85"/><circle cx="114.7" cy="122.8" r="1.85"/><circle cx="129.2" cy="123.5" r="1.85"/><circle cx="141.3" cy="122.6" r="1.85"/><circle cx="146.2" cy="122.7" r="1.85"/><circle cx="153.3" cy="123.5" r="1.85"/><circle cx="161.0" cy="122.9" r="1.85"/><circle cx="106.9" cy="125.4" r="1.85"/><circle cx="116.6" cy="125.4" r="1.85"/><circle cx="122.1" cy="125.8" r="1.85"/><circle cx="139.2" cy="125.6" r="1.85"/><circle cx="149.5" cy="125.2" r="1.85"/><circle cx="109.4" cy="128.4" r="1.85"/><circle cx="111.2" cy="127.6" r="1.85"/><circle cx="116.1" cy="128.5" r="1.85"/><circle cx="118.6" cy="129.0" r="1.85"/><circle cx="110.7" cy="131.2" r="1.85"/><circle cx="118.6" cy="130.7" r="1.85"/><circle cx="121.1" cy="131.8" r="1.85"/><circle cx="140.8" cy="131.8" r="1.85"/><circle cx="158.5" cy="130.8" r="1.85"/><circle cx="104.0" cy="133.4" r="1.85"/><circle cx="114.0" cy="133.3" r="1.85"/><circle cx="114.9" cy="132.6" r="1.85"/><circle cx="133.4" cy="133.3" r="1.85"/><circle cx="135.8" cy="133.1" r="1.85"/><circle cx="140.6" cy="133.7" r="1.85"/><circle cx="147.7" cy="133.5" r="1.85"/><circle cx="103.9" cy="135.9" r="1.85"/><circle cx="137.1" cy="135.8" r="1.85"/><circle cx="139.4" cy="135.3" r="1.85"/><circle cx="142.2" cy="135.1" r="1.85"/><circle cx="146.5" cy="136.5" r="1.85"/><circle cx="107.9" cy="139.2" r="1.85"/><circle cx="110.1" cy="138.2" r="1.85"/><circle cx="113.1" cy="137.5" r="1.85"/><circle cx="132.4" cy="138.5" r="1.85"/><circle cx="133.8" cy="138.1" r="1.85"/><circle cx="147.9" cy="138.3" r="1.85"/><circle cx="112.7" cy="141.3" r="1.85"/><circle cx="125.5" cy="140.8" r="1.85"/><circle cx="142.4" cy="140.3" r="1.85"/><circle cx="150.1" cy="141.6" r="1.85"/><circle cx="153.6" cy="140.3" r="1.85"/><circle cx="106.5" cy="143.1" r="1.85"/><circle cx="135.9" cy="142.8" r="1.85"/><circle cx="152.2" cy="143.8" r="1.85"/><circle cx="116.6" cy="145.5" r="1.85"/><circle cx="128.2" cy="145.7" r="1.85"/><circle cx="131.7" cy="146.2" r="1.85"/><circle cx="126.4" cy="147.2" r="1.85"/><circle cx="130.5" cy="148.0" r="1.85"/><circle cx="131.9" cy="146.7" r="1.85"/><circle cx="140.0" cy="147.1" r="1.85"/><circle cx="151.9" cy="146.2" r="1.85"/><circle cx="154.3" cy="147.1" r="1.85"/><circle cx="53.8" cy="163.5" r="1.85"/><circle cx="46.4" cy="173.3" r="1.85"/><circle cx="52.5" cy="174.6" r="1.85"/><circle cx="56.3" cy="176.4" r="1.85"/><circle cx="63.7" cy="185.1" r="1.85"/><circle cx="63.7" cy="149.9" r="1.85"/><circle cx="71.7" cy="149.2" r="1.85"/><circle cx="79.3" cy="148.6" r="1.85"/><circle cx="84.8" cy="152.1" r="1.85"/><circle cx="92.0" cy="152.2" r="1.85"/><circle cx="99.8" cy="152.4" r="1.85"/><circle cx="58.7" cy="154.7" r="1.85"/><circle cx="74.5" cy="154.6" r="1.85"/><circle cx="91.8" cy="154.6" r="1.85"/><circle cx="99.1" cy="154.6" r="1.85"/><circle cx="60.0" cy="156.0" r="1.85"/><circle cx="72.3" cy="155.9" r="1.85"/><circle cx="83.3" cy="156.5" r="1.85"/><circle cx="85.2" cy="156.9" r="1.85"/><circle cx="86.1" cy="157.0" r="1.85"/><circle cx="94.6" cy="156.7" r="1.85"/><circle cx="61.8" cy="159.1" r="1.85"/><circle cx="73.9" cy="160.0" r="1.85"/><circle cx="74.3" cy="162.1" r="1.85"/><circle cx="92.9" cy="161.8" r="1.85"/><circle cx="97.4" cy="165.0" r="1.85"/><circle cx="77.3" cy="165.9" r="1.85"/><circle cx="79.1" cy="166.1" r="1.85"/><circle cx="87.5" cy="166.5" r="1.85"/><circle cx="78.9" cy="168.4" r="1.85"/><circle cx="89.7" cy="168.2" r="1.85"/><circle cx="72.1" cy="174.0" r="1.85"/><circle cx="73.8" cy="173.2" r="1.85"/><circle cx="89.6" cy="174.0" r="1.85"/><circle cx="64.3" cy="176.4" r="1.85"/><circle cx="98.8" cy="176.1" r="1.85"/><circle cx="99.5" cy="176.0" r="1.85"/><circle cx="81.5" cy="178.6" r="1.85"/><circle cx="91.6" cy="178.1" r="1.85"/><circle cx="94.0" cy="179.4" r="1.85"/><circle cx="81.1" cy="181.6" r="1.85"/><circle cx="89.7" cy="181.9" r="1.85"/><circle cx="63.7" cy="183.9" r="1.85"/><circle cx="80.6" cy="183.3" r="1.85"/><circle cx="91.5" cy="184.7" r="1.85"/><circle cx="97.1" cy="183.9" r="1.85"/><circle cx="77.1" cy="187.0" r="1.85"/><circle cx="79.3" cy="185.7" r="1.85"/><circle cx="93.3" cy="187.1" r="1.85"/><circle cx="71.1" cy="188.8" r="1.85"/><circle cx="81.4" cy="188.1" r="1.85"/><circle cx="95.7" cy="188.4" r="1.85"/><circle cx="85.1" cy="190.8" r="1.85"/><circle cx="87.3" cy="190.7" r="1.85"/><circle cx="96.1" cy="190.6" r="1.85"/><circle cx="97.6" cy="192.0" r="1.85"/><circle cx="76.1" cy="194.5" r="1.85"/><circle cx="74.9" cy="195.2" r="1.85"/><circle cx="76.1" cy="195.7" r="1.85"/><circle cx="97.4" cy="194.4" r="1.85"/><circle cx="99.8" cy="193.2" r="1.85"/><circle cx="162.0" cy="151.5" r="1.85"/><circle cx="163.8" cy="189.4" r="1.85"/><circle cx="103.9" cy="149.2" r="1.85"/><circle cx="119.6" cy="149.1" r="1.85"/><circle cx="121.4" cy="148.6" r="1.85"/><circle cx="103.7" cy="152.6" r="1.85"/><circle cx="104.5" cy="152.4" r="1.85"/><circle cx="115.5" cy="152.2" r="1.85"/><circle cx="131.3" cy="150.9" r="1.85"/><circle cx="132.5" cy="152.2" r="1.85"/><circle cx="135.2" cy="152.2" r="1.85"/><circle cx="137.5" cy="152.0" r="1.85"/><circle cx="147.7" cy="151.8" r="1.85"/><circle cx="152.3" cy="151.0" r="1.85"/><circle cx="106.1" cy="154.8" r="1.85"/><circle cx="128.5" cy="154.2" r="1.85"/><circle cx="138.0" cy="154.6" r="1.85"/><circle cx="141.0" cy="154.8" r="1.85"/><circle cx="120.3" cy="156.8" r="1.85"/><circle cx="132.5" cy="156.9" r="1.85"/><circle cx="141.1" cy="156.9" r="1.85"/><circle cx="153.7" cy="156.1" r="1.85"/><circle cx="160.5" cy="156.6" r="1.85"/><circle cx="112.0" cy="158.6" r="1.85"/><circle cx="121.8" cy="159.0" r="1.85"/><circle cx="129.8" cy="158.8" r="1.85"/><circle cx="132.2" cy="159.3" r="1.85"/><circle cx="109.8" cy="162.1" r="1.85"/><circle cx="124.1" cy="164.8" r="1.85"/><circle cx="138.5" cy="163.8" r="1.85"/><circle cx="140.8" cy="164.8" r="1.85"/><circle cx="145.9" cy="163.5" r="1.85"/><circle cx="150.9" cy="164.7" r="1.85"/><circle cx="156.1" cy="164.5" r="1.85"/><circle cx="158.0" cy="163.5" r="1.85"/><circle cx="104.2" cy="166.0" r="1.85"/><circle cx="120.5" cy="166.8" r="1.85"/><circle cx="122.5" cy="166.4" r="1.85"/><circle cx="143.0" cy="166.8" r="1.85"/><circle cx="147.8" cy="166.3" r="1.85"/><circle cx="150.3" cy="166.8" r="1.85"/><circle cx="153.3" cy="165.8" r="1.85"/><circle cx="155.9" cy="166.8" r="1.85"/><circle cx="104.1" cy="168.7" r="1.85"/><circle cx="106.3" cy="168.3" r="1.85"/><circle cx="118.9" cy="168.6" r="1.85"/><circle cx="121.1" cy="169.0" r="1.85"/><circle cx="124.3" cy="169.7" r="1.85"/><circle cx="149.7" cy="169.2" r="1.85"/><circle cx="155.6" cy="168.6" r="1.85"/><circle cx="122.4" cy="172.0" r="1.85"/><circle cx="125.0" cy="171.7" r="1.85"/><circle cx="138.4" cy="171.0" r="1.85"/><circle cx="144.4" cy="172.2" r="1.85"/><circle cx="159.5" cy="171.6" r="1.85"/><circle cx="108.8" cy="174.6" r="1.85"/><circle cx="123.7" cy="174.7" r="1.85"/><circle cx="137.1" cy="174.5" r="1.85"/><circle cx="138.7" cy="173.4" r="1.85"/><circle cx="140.7" cy="173.3" r="1.85"/><circle cx="143.5" cy="174.6" r="1.85"/><circle cx="106.3" cy="176.4" r="1.85"/><circle cx="125.6" cy="176.9" r="1.85"/><circle cx="136.6" cy="177.3" r="1.85"/><circle cx="157.2" cy="175.7" r="1.85"/><circle cx="159.7" cy="175.6" r="1.85"/><circle cx="123.1" cy="178.4" r="1.85"/><circle cx="151.1" cy="178.6" r="1.85"/><circle cx="160.1" cy="178.5" r="1.85"/><circle cx="114.4" cy="181.4" r="1.85"/><circle cx="126.5" cy="182.0" r="1.85"/><circle cx="138.8" cy="181.8" r="1.85"/><circle cx="148.6" cy="181.6" r="1.85"/><circle cx="154.5" cy="181.7" r="1.85"/><circle cx="157.3" cy="181.2" r="1.85"/><circle cx="104.5" cy="184.1" r="1.85"/><circle cx="128.7" cy="183.8" r="1.85"/><circle cx="133.6" cy="183.2" r="1.85"/><circle cx="141.3" cy="184.1" r="1.85"/><circle cx="153.0" cy="184.2" r="1.85"/><circle cx="155.7" cy="184.3" r="1.85"/><circle cx="116.8" cy="185.6" r="1.85"/><circle cx="128.5" cy="186.9" r="1.85"/><circle cx="142.4" cy="186.7" r="1.85"/><circle cx="148.6" cy="186.5" r="1.85"/><circle cx="155.6" cy="186.4" r="1.85"/><circle cx="111.6" cy="188.2" r="1.85"/><circle cx="113.1" cy="189.6" r="1.85"/><circle cx="121.2" cy="188.8" r="1.85"/><circle cx="133.0" cy="189.2" r="1.85"/><circle cx="142.1" cy="188.6" r="1.85"/><circle cx="147.5" cy="189.0" r="1.85"/><circle cx="157.3" cy="188.0" r="1.85"/><circle cx="113.1" cy="191.8" r="1.85"/><circle cx="122.7" cy="190.5" r="1.85"/><circle cx="123.8" cy="191.9" r="1.85"/><circle cx="144.0" cy="190.6" r="1.85"/><circle cx="145.7" cy="191.7" r="1.85"/><circle cx="112.4" cy="193.6" r="1.85"/><circle cx="110.7" cy="195.3" r="1.85"/><circle cx="112.3" cy="196.3" r="1.85"/><circle cx="123.6" cy="193.2" r="1.85"/><circle cx="125.9" cy="194.5" r="1.85"/><circle cx="128.7" cy="193.5" r="1.85"/><circle cx="145.8" cy="193.9" r="1.85"/><circle cx="149.6" cy="193.2" r="1.85"/><circle cx="152.4" cy="193.9" r="1.85"/><circle cx="154.0" cy="194.6" r="1.85"/><circle cx="138.3" cy="195.3" r="1.85"/><circle cx="154.8" cy="196.2" r="1.85"/><circle cx="44.5" cy="198.7" r="1.85"/><circle cx="73.4" cy="197.5" r="1.85"/><circle cx="85.3" cy="197.4" r="1.85"/><circle cx="99.7" cy="196.8" r="1.85"/><circle cx="73.1" cy="199.5" r="1.85"/><circle cx="76.3" cy="199.8" r="1.85"/><circle cx="89.8" cy="199.2" r="1.85"/><circle cx="99.2" cy="199.3" r="1.85"/><circle cx="100.0" cy="199.3" r="1.85"/><circle cx="162.6" cy="214.5" r="1.85"/><circle cx="120.0" cy="197.3" r="1.85"/><circle cx="122.9" cy="197.6" r="1.85"/><circle cx="135.4" cy="197.0" r="1.85"/><circle cx="137.1" cy="196.9" r="1.85"/><circle cx="138.9" cy="196.9" r="1.85"/><circle cx="140.5" cy="197.7" r="1.85"/><circle cx="142.0" cy="197.7" r="1.85"/><circle cx="146.8" cy="197.5" r="1.85"/><circle cx="148.1" cy="196.8" r="1.85"/><circle cx="151.7" cy="196.8" r="1.85"/><circle cx="153.5" cy="197.6" r="1.85"/><circle cx="156.7" cy="197.2" r="1.85"/><circle cx="119.9" cy="199.8" r="1.85"/><circle cx="121.3" cy="199.4" r="1.85"/><circle cx="135.6" cy="199.9" r="1.85"/><circle cx="138.7" cy="200.0" r="1.85"/><circle cx="142.0" cy="199.8" r="1.85"/><circle cx="146.6" cy="199.3" r="1.85"/><circle cx="150.1" cy="199.3" r="1.85"/><circle cx="153.5" cy="199.9" r="1.85"/><circle cx="154.7" cy="200.0" r="1.85"/><circle cx="126.5" cy="201.6" r="1.85"/><circle cx="133.1" cy="202.6" r="1.85"/><circle cx="134.9" cy="202.4" r="1.85"/><circle cx="139.6" cy="201.7" r="1.85"/><circle cx="141.6" cy="201.7" r="1.85"/><circle cx="142.9" cy="202.7" r="1.85"/><circle cx="156.1" cy="202.4" r="1.85"/><circle cx="126.2" cy="204.7" r="1.85"/><circle cx="129.7" cy="204.5" r="1.85"/><circle cx="139.6" cy="204.5" r="1.85"/><circle cx="142.6" cy="204.7" r="1.85"/><circle cx="144.1" cy="204.3" r="1.85"/><circle cx="147.3" cy="204.5" r="1.85"/><circle cx="150.5" cy="205.1" r="1.85"/><circle cx="154.2" cy="204.4" r="1.85"/><circle cx="155.7" cy="205.2" r="1.85"/><circle cx="159.1" cy="204.5" r="1.85"/><circle cx="134.5" cy="207.2" r="1.85"/><circle cx="155.9" cy="207.5" r="1.85"/><circle cx="158.8" cy="207.1" r="1.85"/><circle cx="130.9" cy="210.0" r="1.85"/><circle cx="134.1" cy="209.7" r="1.85"/><circle cx="138.8" cy="209.7" r="1.85"/><circle cx="147.1" cy="209.1" r="1.85"/><circle cx="148.5" cy="209.4" r="1.85"/><circle cx="150.2" cy="209.4" r="1.85"/><circle cx="157.0" cy="209.5" r="1.85"/><circle cx="125.5" cy="212.4" r="1.85"/><circle cx="133.7" cy="211.6" r="1.85"/><circle cx="135.7" cy="212.2" r="1.85"/><circle cx="139.0" cy="212.2" r="1.85"/><circle cx="145.5" cy="212.3" r="1.85"/><circle cx="148.8" cy="212.3" r="1.85"/><circle cx="152.1" cy="211.9" r="1.85"/><circle cx="153.3" cy="212.2" r="1.85"/><circle cx="155.3" cy="212.5" r="1.85"/><circle cx="127.8" cy="214.3" r="1.85"/><circle cx="132.9" cy="214.4" r="1.85"/><circle cx="136.4" cy="214.9" r="1.85"/><circle cx="143.1" cy="214.7" r="1.85"/><circle cx="147.8" cy="214.4" r="1.85"/><circle cx="149.6" cy="214.2" r="1.85"/><circle cx="153.3" cy="214.6" r="1.85"/><circle cx="156.2" cy="214.1" r="1.85"/><circle cx="130.0" cy="216.5" r="1.85"/><circle cx="131.7" cy="216.6" r="1.85"/><circle cx="135.0" cy="217.0" r="1.85"/><circle cx="146.5" cy="216.6" r="1.85"/><circle cx="150.9" cy="217.4" r="1.85"/><circle cx="123.2" cy="219.1" r="1.85"/><circle cx="126.2" cy="219.3" r="1.85"/><circle cx="129.7" cy="219.4" r="1.85"/><circle cx="131.1" cy="220.0" r="1.85"/><circle cx="132.8" cy="219.5" r="1.85"/><circle cx="144.4" cy="219.2" r="1.85"/><circle cx="149.1" cy="219.8" r="1.85"/><circle cx="154.1" cy="219.7" r="1.85"/><circle cx="155.5" cy="219.0" r="1.85"/><circle cx="157.4" cy="219.1" r="1.85"/><circle cx="159.1" cy="219.7" r="1.85"/><circle cx="122.8" cy="221.5" r="1.85"/><circle cx="132.9" cy="221.6" r="1.85"/><circle cx="137.8" cy="221.5" r="1.85"/><circle cx="146.0" cy="221.8" r="1.85"/><circle cx="149.2" cy="221.7" r="1.85"/><circle cx="151.2" cy="221.9" r="1.85"/><circle cx="154.2" cy="221.5" r="1.85"/><circle cx="157.9" cy="222.0" r="1.85"/><circle cx="122.3" cy="224.9" r="1.85"/><circle cx="126.1" cy="224.3" r="1.85"/><circle cx="132.7" cy="225.0" r="1.85"/><circle cx="134.5" cy="224.7" r="1.85"/><circle cx="135.9" cy="224.8" r="1.85"/><circle cx="144.6" cy="224.5" r="1.85"/><circle cx="145.9" cy="224.4" r="1.85"/><circle cx="149.1" cy="224.6" r="1.85"/><circle cx="152.7" cy="224.8" r="1.85"/><circle cx="154.0" cy="225.0" r="1.85"/><circle cx="132.3" cy="226.7" r="1.85"/><circle cx="141.7" cy="227.4" r="1.85"/><circle cx="145.3" cy="227.0" r="1.85"/><circle cx="150.1" cy="226.6" r="1.85"/><circle cx="156.2" cy="227.4" r="1.85"/><circle cx="157.9" cy="226.4" r="1.85"/><circle cx="128.8" cy="229.0" r="1.85"/><circle cx="132.3" cy="229.8" r="1.85"/><circle cx="133.4" cy="229.9" r="1.85"/><circle cx="138.5" cy="229.5" r="1.85"/><circle cx="146.8" cy="229.2" r="1.85"/><circle cx="151.4" cy="229.6" r="1.85"/><circle cx="156.6" cy="229.1" r="1.85"/><circle cx="129.7" cy="231.6" r="1.85"/><circle cx="131.5" cy="231.3" r="1.85"/><circle cx="138.3" cy="231.8" r="1.85"/><circle cx="141.6" cy="231.5" r="1.85"/><circle cx="126.7" cy="233.9" r="1.85"/><circle cx="128.4" cy="233.9" r="1.85"/><circle cx="136.5" cy="233.9" r="1.85"/><circle cx="138.1" cy="233.8" r="1.85"/><circle cx="139.4" cy="234.8" r="1.85"/><circle cx="144.5" cy="234.9" r="1.85"/><circle cx="146.1" cy="234.0" r="1.85"/><circle cx="151.2" cy="234.8" r="1.85"/><circle cx="145.7" cy="237.1" r="1.85"/><circle cx="156.2" cy="237.0" r="1.85"/><circle cx="123.6" cy="239.1" r="1.85"/><circle cx="137.6" cy="239.2" r="1.85"/><circle cx="139.3" cy="239.6" r="1.85"/><circle cx="141.1" cy="238.8" r="1.85"/><circle cx="142.7" cy="239.7" r="1.85"/><circle cx="146.0" cy="239.6" r="1.85"/><circle cx="154.5" cy="239.0" r="1.85"/><circle cx="159.5" cy="239.0" r="1.85"/><circle cx="143.9" cy="242.2" r="1.85"/><circle cx="142.0" cy="243.6" r="1.85"/><circle cx="146.7" cy="243.6" r="1.85"/><circle cx="148.3" cy="243.6" r="1.85"/><circle cx="149.8" cy="243.7" r="1.85"/><circle cx="156.5" cy="243.5" r="1.85"/><circle cx="126.1" cy="245.6" r="1.85"/><circle cx="131.3" cy="244.9" r="1.85"/><circle cx="141.3" cy="244.9" r="1.85"/><circle cx="147.8" cy="245.7" r="1.85"/><circle cx="125.2" cy="247.9" r="1.85"/><circle cx="126.9" cy="247.2" r="1.85"/><circle cx="128.6" cy="247.9" r="1.85"/><circle cx="130.1" cy="247.6" r="1.85"/><circle cx="131.5" cy="247.5" r="1.85"/><circle cx="141.4" cy="247.8" r="1.85"/><circle cx="142.8" cy="247.2" r="1.85"/><circle cx="146.3" cy="248.1" r="1.85"/><circle cx="135.6" cy="250.0" r="1.85"/><circle cx="142.5" cy="250.4" r="1.85"/><circle cx="147.6" cy="250.3" r="1.85"/><circle cx="152.2" cy="249.8" r="1.85"/><circle cx="135.7" cy="252.5" r="1.85"/><circle cx="140.8" cy="252.5" r="1.85"/><circle cx="145.9" cy="252.9" r="1.85"/><circle cx="152.4" cy="253.2" r="1.85"/><circle cx="154.0" cy="252.1" r="1.85"/><circle cx="155.6" cy="253.0" r="1.85"/><circle cx="160.8" cy="252.7" r="1.85"/><circle cx="138.8" cy="255.3" r="1.85"/><circle cx="145.5" cy="255.1" r="1.85"/><circle cx="151.7" cy="254.9" r="1.85"/><circle cx="157.1" cy="255.0" r="1.85"/><circle cx="158.2" cy="255.6" r="1.85"/><circle cx="127.4" cy="257.4" r="1.85"/><circle cx="136.8" cy="257.8" r="1.85"/><circle cx="143.9" cy="258.0" r="1.85"/><circle cx="155.3" cy="257.5" r="1.85"/><circle cx="129.6" cy="259.7" r="1.85"/><circle cx="136.0" cy="260.1" r="1.85"/><circle cx="146.1" cy="260.3" r="1.85"/><circle cx="129.0" cy="262.5" r="1.85"/><circle cx="134.6" cy="263.0" r="1.85"/><circle cx="154.1" cy="262.2" r="1.85"/><circle cx="159.0" cy="262.2" r="1.85"/><circle cx="134.8" cy="265.3" r="1.85"/><circle cx="136.8" cy="265.2" r="1.85"/><circle cx="140.3" cy="265.1" r="1.85"/><circle cx="146.9" cy="265.2" r="1.85"/><circle cx="158.8" cy="264.9" r="1.85"/><circle cx="128.6" cy="267.2" r="1.85"/><circle cx="130.2" cy="267.4" r="1.85"/><circle cx="136.8" cy="267.8" r="1.85"/><circle cx="138.9" cy="267.2" r="1.85"/><circle cx="147.2" cy="267.3" r="1.85"/><circle cx="150.3" cy="267.1" r="1.85"/><circle cx="159.1" cy="267.2" r="1.85"/><circle cx="126.4" cy="269.5" r="1.85"/><circle cx="133.4" cy="269.9" r="1.85"/><circle cx="138.2" cy="269.6" r="1.85"/><circle cx="140.0" cy="269.5" r="1.85"/><circle cx="144.8" cy="269.8" r="1.85"/><circle cx="147.1" cy="269.4" r="1.85"/><circle cx="153.5" cy="269.4" r="1.85"/><circle cx="132.0" cy="272.8" r="1.85"/><circle cx="149.1" cy="272.4" r="1.85"/><circle cx="152.0" cy="272.2" r="1.85"/><circle cx="155.3" cy="272.5" r="1.85"/><circle cx="141.0" cy="274.9" r="1.85"/><circle cx="146.5" cy="275.0" r="1.85"/><circle cx="151.3" cy="274.9" r="1.85"/><circle cx="162.0" cy="274.9" r="1.85"/><circle cx="128.0" cy="277.6" r="1.85"/><circle cx="130.6" cy="277.8" r="1.85"/><circle cx="146.8" cy="277.1" r="1.85"/><circle cx="150.3" cy="277.4" r="1.85"/><circle cx="129.0" cy="280.2" r="1.85"/><circle cx="155.7" cy="279.7" r="1.85"/><circle cx="132.2" cy="282.9" r="1.85"/><circle cx="135.5" cy="282.9" r="1.85"/><circle cx="139.0" cy="282.6" r="1.85"/><circle cx="144.3" cy="282.2" r="1.85"/><circle cx="146.0" cy="282.9" r="1.85"/><circle cx="152.5" cy="282.5" r="1.85"/><circle cx="159.2" cy="282.0" r="1.85"/><circle cx="131.5" cy="284.4" r="1.85"/><circle cx="139.9" cy="284.6" r="1.85"/><circle cx="146.5" cy="284.3" r="1.85"/><circle cx="152.5" cy="284.6" r="1.85"/><circle cx="156.0" cy="284.5" r="1.85"/><circle cx="157.9" cy="284.4" r="1.85"/><circle cx="132.3" cy="287.3" r="1.85"/><circle cx="141.6" cy="287.8" r="1.85"/><circle cx="145.0" cy="287.7" r="1.85"/><circle cx="146.3" cy="287.0" r="1.85"/><circle cx="155.9" cy="287.3" r="1.85"/><circle cx="159.5" cy="287.5" r="1.85"/><circle cx="145.2" cy="289.2" r="1.85"/><circle cx="147.0" cy="289.4" r="1.85"/><circle cx="153.2" cy="289.8" r="1.85"/><circle cx="156.8" cy="290.3" r="1.85"/><circle cx="158.5" cy="289.9" r="1.85"/><circle cx="138.7" cy="291.1" r="1.85"/><circle cx="141.8" cy="291.7" r="1.85"/><circle cx="143.6" cy="291.5" r="1.85"/><circle cx="145.1" cy="291.7" r="1.85"/><circle cx="159.2" cy="329.5" r="1.85"/><circle cx="132.9" cy="292.9" r="1.85"/><circle cx="133.9" cy="292.9" r="1.85"/><circle cx="147.6" cy="293.8" r="1.85"/><circle cx="152.6" cy="293.2" r="1.85"/><circle cx="130.4" cy="295.2" r="1.85"/><circle cx="152.1" cy="295.2" r="1.85"/><circle cx="153.6" cy="295.5" r="1.85"/><circle cx="155.3" cy="296.2" r="1.85"/><circle cx="157.0" cy="295.2" r="1.85"/><circle cx="134.2" cy="298.6" r="1.85"/><circle cx="137.4" cy="298.6" r="1.85"/><circle cx="151.7" cy="297.9" r="1.85"/><circle cx="154.9" cy="298.6" r="1.85"/><circle cx="137.4" cy="301.1" r="1.85"/><circle cx="145.4" cy="300.2" r="1.85"/><circle cx="154.8" cy="300.5" r="1.85"/><circle cx="143.1" cy="302.9" r="1.85"/><circle cx="149.2" cy="303.1" r="1.85"/><circle cx="150.6" cy="302.7" r="1.85"/><circle cx="140.1" cy="305.8" r="1.85"/><circle cx="141.9" cy="305.8" r="1.85"/><circle cx="150.3" cy="306.1" r="1.85"/><circle cx="156.9" cy="305.4" r="1.85"/><circle cx="140.7" cy="307.6" r="1.85"/><circle cx="138.6" cy="310.1" r="1.85"/><circle cx="141.7" cy="311.1" r="1.85"/><circle cx="144.7" cy="311.0" r="1.85"/><circle cx="147.8" cy="310.4" r="1.85"/><circle cx="151.3" cy="312.9" r="1.85"/><circle cx="152.8" cy="312.6" r="1.85"/><circle cx="139.2" cy="315.6" r="1.85"/><circle cx="140.8" cy="315.3" r="1.85"/><circle cx="129.9" cy="317.7" r="1.85"/><circle cx="138.1" cy="317.7" r="1.85"/><circle cx="144.7" cy="317.8" r="1.85"/><circle cx="152.5" cy="317.9" r="1.85"/><circle cx="133.1" cy="319.9" r="1.85"/><circle cx="136.4" cy="320.8" r="1.85"/><circle cx="139.6" cy="319.9" r="1.85"/><circle cx="144.4" cy="320.0" r="1.85"/><circle cx="132.7" cy="323.4" r="1.85"/><circle cx="137.3" cy="323.5" r="1.85"/><circle cx="139.4" cy="323.3" r="1.85"/><circle cx="140.7" cy="322.6" r="1.85"/><circle cx="144.1" cy="323.2" r="1.85"/><circle cx="145.7" cy="322.7" r="1.85"/><circle cx="147.7" cy="322.4" r="1.85"/><circle cx="149.3" cy="322.5" r="1.85"/><circle cx="124.0" cy="325.2" r="1.85"/><circle cx="125.3" cy="325.1" r="1.85"/><circle cx="136.5" cy="325.1" r="1.85"/><circle cx="152.8" cy="325.2" r="1.85"/><circle cx="136.3" cy="327.6" r="1.85"/><circle cx="149.6" cy="327.9" r="1.85"/><circle cx="152.9" cy="327.9" r="1.85"/><circle cx="126.5" cy="330.5" r="1.85"/><circle cx="130.0" cy="330.7" r="1.85"/><circle cx="133.3" cy="330.2" r="1.85"/><circle cx="139.7" cy="330.2" r="1.85"/><circle cx="143.0" cy="330.2" r="1.85"/><circle cx="144.7" cy="330.2" r="1.85"/><circle cx="126.2" cy="333.0" r="1.85"/><circle cx="128.5" cy="333.0" r="1.85"/><circle cx="142.7" cy="332.5" r="1.85"/><circle cx="149.9" cy="332.5" r="1.85"/><circle cx="53.8" cy="101.5" r="1.85"/><circle cx="51.9" cy="104.9" r="1.85"/><circle cx="50.1" cy="110.5" r="1.85"/><circle cx="51.3" cy="113.8" r="1.85"/><circle cx="56.3" cy="112.4" r="1.85"/><circle cx="54.4" cy="117.9" r="1.85"/><circle cx="52.5" cy="122.9" r="1.85"/><circle cx="48.8" cy="126.6" r="1.85"/><circle cx="53.8" cy="129.7" r="1.85"/><circle cx="56.3" cy="135.9" r="1.85"/><circle cx="52.5" cy="140.2" r="1.85"/><circle cx="44.5" cy="142.0" r="1.85"/><circle cx="54.4" cy="142.7" r="1.85"/><circle cx="62.4" cy="102.6" r="1.85"/><circle cx="63.3" cy="102.7" r="1.85"/><circle cx="64.0" cy="104.1" r="1.85"/><circle cx="67.0" cy="104.4" r="1.85"/><circle cx="68.9" cy="105.6" r="1.85"/><circle cx="70.8" cy="104.2" r="1.85"/><circle cx="72.7" cy="105.0" r="1.85"/><circle cx="74.2" cy="105.3" r="1.85"/><circle cx="69.0" cy="107.9" r="1.85"/><circle cx="70.9" cy="106.5" r="1.85"/><circle cx="73.1" cy="107.4" r="1.85"/><circle cx="70.9" cy="110.4" r="1.85"/><circle cx="72.7" cy="109.4" r="1.85"/><circle cx="73.9" cy="110.5" r="1.85"/><circle cx="75.2" cy="108.9" r="1.85"/><circle cx="79.4" cy="109.5" r="1.85"/><circle cx="72.0" cy="111.6" r="1.85"/><circle cx="72.8" cy="111.8" r="1.85"/><circle cx="80.4" cy="112.2" r="1.85"/><circle cx="82.6" cy="112.4" r="1.85"/><circle cx="84.3" cy="112.7" r="1.85"/><circle cx="71.2" cy="115.2" r="1.85"/><circle cx="71.2" cy="115.6" r="1.85"/><circle cx="79.1" cy="114.8" r="1.85"/><circle cx="80.4" cy="118.1" r="1.85"/><circle cx="81.5" cy="117.7" r="1.85"/><circle cx="61.8" cy="121.6" r="1.85"/><circle cx="63.7" cy="124.1" r="1.85"/><circle cx="77.8" cy="120.4" r="1.85"/><circle cx="79.0" cy="119.4" r="1.85"/><circle cx="78.9" cy="123.0" r="1.85"/><circle cx="80.0" cy="122.9" r="1.85"/><circle cx="81.3" cy="121.6" r="1.85"/><circle cx="75.4" cy="125.3" r="1.85"/><circle cx="77.1" cy="125.0" r="1.85"/><circle cx="81.6" cy="124.4" r="1.85"/><circle cx="73.5" cy="127.5" r="1.85"/><circle cx="74.7" cy="126.2" r="1.85"/><circle cx="74.8" cy="126.8" r="1.85"/><circle cx="62.2" cy="128.4" r="1.85"/><circle cx="62.8" cy="129.3" r="1.85"/><circle cx="72.8" cy="128.1" r="1.85"/><circle cx="75.0" cy="128.7" r="1.85"/><circle cx="81.6" cy="129.8" r="1.85"/><circle cx="81.3" cy="129.0" r="1.85"/><circle cx="91.7" cy="129.3" r="1.85"/><circle cx="92.8" cy="129.3" r="1.85"/><circle cx="94.2" cy="129.1" r="1.85"/><circle cx="60.7" cy="132.0" r="1.85"/><circle cx="61.4" cy="131.1" r="1.85"/><circle cx="72.4" cy="131.6" r="1.85"/><circle cx="72.8" cy="130.6" r="1.85"/><circle cx="81.7" cy="131.7" r="1.85"/><circle cx="82.2" cy="131.8" r="1.85"/><circle cx="92.7" cy="131.5" r="1.85"/><circle cx="70.8" cy="132.7" r="1.85"/><circle cx="71.6" cy="133.6" r="1.85"/><circle cx="72.1" cy="135.6" r="1.85"/><circle cx="73.0" cy="136.3" r="1.85"/><circle cx="80.1" cy="135.0" r="1.85"/><circle cx="82.7" cy="135.4" r="1.85"/><circle cx="83.8" cy="136.0" r="1.85"/><circle cx="58.7" cy="138.3" r="1.85"/><circle cx="71.7" cy="138.1" r="1.85"/><circle cx="72.8" cy="138.5" r="1.85"/><circle cx="73.8" cy="138.1" r="1.85"/><circle cx="82.2" cy="138.3" r="1.85"/><circle cx="100.1" cy="138.3" r="1.85"/><circle cx="56.1" cy="139.9" r="1.85"/><circle cx="57.6" cy="140.4" r="1.85"/><circle cx="60.7" cy="140.3" r="1.85"/><circle cx="76.7" cy="140.8" r="1.85"/><circle cx="54.3" cy="143.1" r="1.85"/><circle cx="56.0" cy="142.9" r="1.85"/><circle cx="58.4" cy="143.1" r="1.85"/><circle cx="59.5" cy="142.9" r="1.85"/><circle cx="61.8" cy="144.0" r="1.85"/><circle cx="70.6" cy="142.7" r="1.85"/><circle cx="72.8" cy="142.7" r="1.85"/><circle cx="78.4" cy="143.9" r="1.85"/><circle cx="79.9" cy="143.9" r="1.85"/><circle cx="90.6" cy="143.9" r="1.85"/><circle cx="91.1" cy="142.5" r="1.85"/><circle cx="56.2" cy="146.3" r="1.85"/><circle cx="57.8" cy="145.6" r="1.85"/><circle cx="59.4" cy="146.6" r="1.85"/><circle cx="60.7" cy="144.8" r="1.85"/><circle cx="56.9" cy="148.4" r="1.85"/><circle cx="57.9" cy="148.5" r="1.85"/><circle cx="59.2" cy="148.1" r="1.85"/><circle cx="61.3" cy="147.9" r="1.85"/><circle cx="71.1" cy="145.7" r="1.85"/><circle cx="79.3" cy="145.3" r="1.85"/><circle cx="80.1" cy="144.9" r="1.85"/><circle cx="81.5" cy="145.3" r="1.85"/><circle cx="79.6" cy="146.7" r="1.85"/><circle cx="80.6" cy="148.4" r="1.85"/><circle cx="81.8" cy="148.4" r="1.85"/><circle cx="99.2" cy="144.8" r="1.85"/><circle cx="100.2" cy="145.1" r="1.85"/><circle cx="98.9" cy="147.9" r="1.85"/><circle cx="100.0" cy="147.4" r="1.85"/><circle cx="101.4" cy="104.9" r="1.85"/><circle cx="98.3" cy="107.4" r="1.85"/><circle cx="100.8" cy="110.5" r="1.85"/><circle cx="93.3" cy="114.2" r="1.85"/><circle cx="90.9" cy="116.7" r="1.85"/><circle cx="100.8" cy="117.3" r="1.85"/><circle cx="92.1" cy="127.8" r="1.85"/><circle cx="98.3" cy="131.5" r="1.85"/><circle cx="101.4" cy="133.4" r="1.85"/><circle cx="53.8" cy="35.3" r="1.85"/><circle cx="81.8" cy="30.3" r="1.85"/><circle cx="88.4" cy="35.3" r="1.85"/><circle cx="70.1" cy="42.1" r="1.85"/><circle cx="69.6" cy="50.4" r="1.85"/><circle cx="99.5" cy="50.4" r="1.85"/><circle cx="124.0" cy="22.2" r="1.85"/><circle cx="120.3" cy="50.1" r="1.85"/><circle cx="61.2" cy="59.8" r="1.85"/><circle cx="75.4" cy="67.2" r="1.85"/><circle cx="82.0" cy="68.7" r="1.85"/><circle cx="66.1" cy="72.4" r="1.85"/><circle cx="64.0" cy="75.9" r="1.85"/><circle cx="81.0" cy="75.9" r="1.85"/><circle cx="90.3" cy="74.6" r="1.85"/><circle cx="70.8" cy="81.4" r="1.85"/><circle cx="62.4" cy="82.3" r="1.85"/><circle cx="60.3" cy="85.1" r="1.85"/><circle cx="85.9" cy="85.1" r="1.85"/><circle cx="79.5" cy="88.8" r="1.85"/><circle cx="84.4" cy="90.3" r="1.85"/><circle cx="88.0" cy="91.3" r="1.85"/><circle cx="69.6" cy="91.3" r="1.85"/><circle cx="75.4" cy="93.0" r="1.85"/><circle cx="94.6" cy="95.3" r="1.85"/><circle cx="94.0" cy="98.0" r="1.85"/><circle cx="101.4" cy="65.8" r="1.85"/><circle cx="99.5" cy="90.3" r="1.85"/><circle cx="54.8" cy="99.6" r="1.85"/><circle cx="139.1" cy="54.5" r="1.85"/><circle cx="136.6" cy="56.3" r="1.85"/><circle cx="132.0" cy="57.8" r="1.85"/><circle cx="132.0" cy="64.4" r="1.85"/><circle cx="139.7" cy="63.4" r="1.85"/><circle cx="102.4" cy="65.8" r="1.85"/><circle cx="108.4" cy="66.0" r="1.85"/><circle cx="113.1" cy="66.0" r="1.85"/><circle cx="136.9" cy="68.7" r="1.85"/><circle cx="127.3" cy="70.2" r="1.85"/><circle cx="106.3" cy="74.9" r="1.85"/><circle cx="113.4" cy="74.6" r="1.85"/><circle cx="150.0" cy="73.6" r="1.85"/><circle cx="131.3" cy="74.0" r="1.85"/><circle cx="137.0" cy="76.7" r="1.85"/><circle cx="141.6" cy="78.3" r="1.85"/><circle cx="131.7" cy="79.2" r="1.85"/><circle cx="118.7" cy="82.0" r="1.85"/><circle cx="126.7" cy="81.7" r="1.85"/><circle cx="134.4" cy="83.5" r="1.85"/><circle cx="139.7" cy="82.9" r="1.85"/><circle cx="143.4" cy="86.0" r="1.85"/><circle cx="151.8" cy="86.0" r="1.85"/><circle cx="130.2" cy="90.3" r="1.85"/><circle cx="138.5" cy="91.6" r="1.85"/><circle cx="136.6" cy="93.8" r="1.85"/><circle cx="146.3" cy="91.6" r="1.85"/><circle cx="158.3" cy="91.6" r="1.85"/><circle cx="117.5" cy="92.8" r="1.85"/><circle cx="116.2" cy="95.3" r="1.85"/><circle cx="108.2" cy="93.4" r="1.85"/><circle cx="106.9" cy="96.5" r="1.85"/><circle cx="108.8" cy="98.4" r="1.85"/><circle cx="142.8" cy="98.4" r="1.85"/><circle cx="163.8" cy="101.5" r="1.85"/><circle cx="161.1" cy="123.5" r="1.85"/><circle cx="157.6" cy="136.5" r="1.85"/><circle cx="107.6" cy="100.6" r="1.85"/><circle cx="109.0" cy="100.9" r="1.85"/><circle cx="111.2" cy="101.2" r="1.85"/><circle cx="148.3" cy="101.2" r="1.85"/><circle cx="149.4" cy="101.3" r="1.85"/><circle cx="108.9" cy="103.0" r="1.85"/><circle cx="110.5" cy="104.3" r="1.85"/><circle cx="112.1" cy="104.4" r="1.85"/><circle cx="119.9" cy="103.7" r="1.85"/><circle cx="150.8" cy="104.0" r="1.85"/><circle cx="152.5" cy="104.3" r="1.85"/><circle cx="153.8" cy="103.9" r="1.85"/><circle cx="155.6" cy="104.3" r="1.85"/><circle cx="158.1" cy="103.0" r="1.85"/><circle cx="159.2" cy="103.9" r="1.85"/><circle cx="115.6" cy="106.2" r="1.85"/><circle cx="130.5" cy="105.4" r="1.85"/><circle cx="130.7" cy="106.0" r="1.85"/><circle cx="147.3" cy="106.1" r="1.85"/><circle cx="149.0" cy="106.6" r="1.85"/><circle cx="152.6" cy="106.7" r="1.85"/><circle cx="154.4" cy="106.2" r="1.85"/><circle cx="155.9" cy="106.8" r="1.85"/><circle cx="115.7" cy="109.2" r="1.85"/><circle cx="116.0" cy="108.8" r="1.85"/><circle cx="132.1" cy="109.1" r="1.85"/><circle cx="134.1" cy="108.7" r="1.85"/><circle cx="136.1" cy="109.6" r="1.85"/><circle cx="152.6" cy="109.0" r="1.85"/><circle cx="154.2" cy="108.9" r="1.85"/><circle cx="156.5" cy="108.3" r="1.85"/><circle cx="158.1" cy="109.6" r="1.85"/><circle cx="113.7" cy="111.0" r="1.85"/><circle cx="115.2" cy="112.0" r="1.85"/><circle cx="126.2" cy="111.5" r="1.85"/><circle cx="127.7" cy="112.0" r="1.85"/><circle cx="130.3" cy="110.6" r="1.85"/><circle cx="132.0" cy="111.8" r="1.85"/><circle cx="133.0" cy="111.5" r="1.85"/><circle cx="134.9" cy="111.1" r="1.85"/><circle cx="136.6" cy="110.7" r="1.85"/><circle cx="155.9" cy="110.9" r="1.85"/><circle cx="157.0" cy="111.1" r="1.85"/><circle cx="157.7" cy="110.6" r="1.85"/><circle cx="111.3" cy="112.6" r="1.85"/><circle cx="112.3" cy="114.4" r="1.85"/><circle cx="129.8" cy="114.4" r="1.85"/><circle cx="131.5" cy="114.2" r="1.85"/><circle cx="133.0" cy="114.4" r="1.85"/><circle cx="134.1" cy="113.5" r="1.85"/><circle cx="142.8" cy="113.6" r="1.85"/><circle cx="153.3" cy="113.6" r="1.85"/><circle cx="155.4" cy="113.2" r="1.85"/><circle cx="157.3" cy="114.5" r="1.85"/><circle cx="132.8" cy="116.3" r="1.85"/><circle cx="133.6" cy="115.2" r="1.85"/><circle cx="142.5" cy="116.0" r="1.85"/><circle cx="143.6" cy="115.8" r="1.85"/><circle cx="144.9" cy="115.3" r="1.85"/><circle cx="154.5" cy="116.0" r="1.85"/><circle cx="156.4" cy="116.4" r="1.85"/><circle cx="108.2" cy="118.5" r="1.85"/><circle cx="113.7" cy="118.5" r="1.85"/><circle cx="143.4" cy="117.8" r="1.85"/><circle cx="144.7" cy="119.3" r="1.85"/><circle cx="153.6" cy="118.8" r="1.85"/><circle cx="155.0" cy="119.1" r="1.85"/><circle cx="155.9" cy="118.6" r="1.85"/><circle cx="112.4" cy="121.0" r="1.85"/><circle cx="113.9" cy="120.3" r="1.85"/><circle cx="114.5" cy="121.1" r="1.85"/><circle cx="130.9" cy="120.3" r="1.85"/><circle cx="132.2" cy="121.7" r="1.85"/><circle cx="133.8" cy="121.1" r="1.85"/><circle cx="143.4" cy="121.0" r="1.85"/><circle cx="152.4" cy="120.9" r="1.85"/><circle cx="153.2" cy="121.8" r="1.85"/><circle cx="154.4" cy="120.5" r="1.85"/><circle cx="107.6" cy="123.5" r="1.85"/><circle cx="113.7" cy="123.5" r="1.85"/><circle cx="129.8" cy="123.5" r="1.85"/><circle cx="144.0" cy="123.5" r="1.85"/><circle cx="152.2" cy="124.2" r="1.85"/><circle cx="154.8" cy="124.0" r="1.85"/><circle cx="111.3" cy="126.0" r="1.85"/><circle cx="119.9" cy="126.0" r="1.85"/><circle cx="137.9" cy="126.0" r="1.85"/><circle cx="152.3" cy="125.5" r="1.85"/><circle cx="153.2" cy="126.4" r="1.85"/><circle cx="154.5" cy="126.0" r="1.85"/><circle cx="111.3" cy="128.3" r="1.85"/><circle cx="115.2" cy="127.5" r="1.85"/><circle cx="116.3" cy="128.3" r="1.85"/><circle cx="118.3" cy="128.5" r="1.85"/><circle cx="134.7" cy="128.6" r="1.85"/><circle cx="135.3" cy="129.2" r="1.85"/><circle cx="147.7" cy="129.2" r="1.85"/><circle cx="148.7" cy="128.7" r="1.85"/><circle cx="151.1" cy="128.4" r="1.85"/><circle cx="152.4" cy="127.5" r="1.85"/><circle cx="154.0" cy="129.4" r="1.85"/><circle cx="115.0" cy="130.2" r="1.85"/><circle cx="118.9" cy="131.5" r="1.85"/><circle cx="137.4" cy="130.0" r="1.85"/><circle cx="138.6" cy="131.4" r="1.85"/><circle cx="140.7" cy="130.6" r="1.85"/><circle cx="153.0" cy="131.2" r="1.85"/><circle cx="154.7" cy="130.8" r="1.85"/><circle cx="115.6" cy="132.8" r="1.85"/><circle cx="117.0" cy="132.8" r="1.85"/><circle cx="119.1" cy="132.4" r="1.85"/><circle cx="121.1" cy="132.7" r="1.85"/><circle cx="129.8" cy="133.4" r="1.85"/><circle cx="137.3" cy="134.0" r="1.85"/><circle cx="138.2" cy="134.1" r="1.85"/><circle cx="139.3" cy="134.3" r="1.85"/><circle cx="105.7" cy="135.9" r="1.85"/><circle cx="122.1" cy="135.0" r="1.85"/><circle cx="124.4" cy="136.0" r="1.85"/><circle cx="125.7" cy="136.6" r="1.85"/><circle cx="127.9" cy="135.8" r="1.85"/><circle cx="129.7" cy="136.5" r="1.85"/><circle cx="130.5" cy="135.8" r="1.85"/><circle cx="140.3" cy="135.7" r="1.85"/><circle cx="142.6" cy="135.0" r="1.85"/><circle cx="144.5" cy="134.9" r="1.85"/><circle cx="104.0" cy="138.0" r="1.85"/><circle cx="105.4" cy="138.2" r="1.85"/><circle cx="106.8" cy="138.3" r="1.85"/><circle cx="108.3" cy="138.1" r="1.85"/><circle cx="114.4" cy="138.3" r="1.85"/><circle cx="122.9" cy="139.2" r="1.85"/><circle cx="123.9" cy="138.9" r="1.85"/><circle cx="144.4" cy="138.2" r="1.85"/><circle cx="145.6" cy="138.1" r="1.85"/><circle cx="105.2" cy="141.2" r="1.85"/><circle cx="107.9" cy="141.3" r="1.85"/><circle cx="110.3" cy="141.1" r="1.85"/><circle cx="123.6" cy="140.8" r="1.85"/><circle cx="147.1" cy="140.8" r="1.85"/><circle cx="155.8" cy="140.8" r="1.85"/><circle cx="104.3" cy="144.2" r="1.85"/><circle cx="105.6" cy="143.5" r="1.85"/><circle cx="107.6" cy="143.1" r="1.85"/><circle cx="110.9" cy="142.3" r="1.85"/><circle cx="126.7" cy="143.9" r="1.85"/><circle cx="128.5" cy="144.0" r="1.85"/><circle cx="138.8" cy="143.6" r="1.85"/><circle cx="139.5" cy="143.0" r="1.85"/><circle cx="147.7" cy="143.3" r="1.85"/><circle cx="106.3" cy="145.7" r="1.85"/><circle cx="118.7" cy="144.9" r="1.85"/><circle cx="120.2" cy="145.6" r="1.85"/><circle cx="122.0" cy="146.7" r="1.85"/><circle cx="125.8" cy="145.5" r="1.85"/><circle cx="126.7" cy="145.9" r="1.85"/><circle cx="118.7" cy="148.2" r="1.85"/><circle cx="120.4" cy="147.6" r="1.85"/><circle cx="121.8" cy="146.7" r="1.85"/><circle cx="123.6" cy="148.5" r="1.85"/><circle cx="125.5" cy="146.8" r="1.85"/><circle cx="126.9" cy="146.6" r="1.85"/><circle cx="140.0" cy="145.9" r="1.85"/><circle cx="140.8" cy="146.6" r="1.85"/><circle cx="142.4" cy="146.1" r="1.85"/><circle cx="139.9" cy="148.5" r="1.85"/><circle cx="140.4" cy="148.4" r="1.85"/><circle cx="141.6" cy="147.3" r="1.85"/><circle cx="155.8" cy="145.7" r="1.85"/><circle cx="42.7" cy="150.2" r="1.85"/><circle cx="45.7" cy="153.6" r="1.85"/><circle cx="47.6" cy="156.0" r="1.85"/><circle cx="41.4" cy="159.4" r="1.85"/><circle cx="53.2" cy="159.7" r="1.85"/><circle cx="53.8" cy="163.5" r="1.85"/><circle cx="49.5" cy="169.0" r="1.85"/><circle cx="51.3" cy="170.9" r="1.85"/><circle cx="45.7" cy="173.7" r="1.85"/><circle cx="51.9" cy="175.2" r="1.85"/><circle cx="63.1" cy="178.3" r="1.85"/><circle cx="63.1" cy="185.7" r="1.85"/><circle cx="66.1" cy="195.0" r="1.85"/><circle cx="71.1" cy="192.5" r="1.85"/><circle cx="63.7" cy="149.2" r="1.85"/><circle cx="78.0" cy="149.9" r="1.85"/><circle cx="79.2" cy="150.2" r="1.85"/><circle cx="80.6" cy="149.5" r="1.85"/><circle cx="89.1" cy="148.7" r="1.85"/><circle cx="91.2" cy="150.1" r="1.85"/><circle cx="93.2" cy="148.4" r="1.85"/><circle cx="95.0" cy="149.8" r="1.85"/><circle cx="97.9" cy="149.5" r="1.85"/><circle cx="100.1" cy="149.4" r="1.85"/><circle cx="56.9" cy="151.7" r="1.85"/><circle cx="79.2" cy="150.8" r="1.85"/><circle cx="81.6" cy="152.2" r="1.85"/><circle cx="83.2" cy="151.5" r="1.85"/><circle cx="88.6" cy="150.7" r="1.85"/><circle cx="95.2" cy="151.3" r="1.85"/><circle cx="96.8" cy="152.3" r="1.85"/><circle cx="98.8" cy="151.8" r="1.85"/><circle cx="99.8" cy="151.6" r="1.85"/><circle cx="57.3" cy="153.5" r="1.85"/><circle cx="58.6" cy="154.6" r="1.85"/><circle cx="59.3" cy="154.8" r="1.85"/><circle cx="67.7" cy="154.3" r="1.85"/><circle cx="69.5" cy="154.0" r="1.85"/><circle cx="71.1" cy="154.6" r="1.85"/><circle cx="78.9" cy="153.9" r="1.85"/><circle cx="81.9" cy="153.7" r="1.85"/><circle cx="88.0" cy="153.2" r="1.85"/><circle cx="88.9" cy="153.2" r="1.85"/><circle cx="90.4" cy="154.5" r="1.85"/><circle cx="98.6" cy="154.1" r="1.85"/><circle cx="99.6" cy="154.0" r="1.85"/><circle cx="58.6" cy="156.1" r="1.85"/><circle cx="59.5" cy="156.6" r="1.85"/><circle cx="68.3" cy="157.6" r="1.85"/><circle cx="68.7" cy="157.1" r="1.85"/><circle cx="76.7" cy="156.7" r="1.85"/><circle cx="88.4" cy="156.7" r="1.85"/><circle cx="97.0" cy="156.7" r="1.85"/><circle cx="99.0" cy="156.6" r="1.85"/><circle cx="68.6" cy="159.1" r="1.85"/><circle cx="75.4" cy="159.1" r="1.85"/><circle cx="94.9" cy="159.9" r="1.85"/><circle cx="95.9" cy="159.6" r="1.85"/><circle cx="75.3" cy="161.5" r="1.85"/><circle cx="76.5" cy="161.1" r="1.85"/><circle cx="95.2" cy="161.6" r="1.85"/><circle cx="75.7" cy="165.1" r="1.85"/><circle cx="77.7" cy="165.0" r="1.85"/><circle cx="81.8" cy="164.9" r="1.85"/><circle cx="94.0" cy="164.1" r="1.85"/><circle cx="68.6" cy="166.5" r="1.85"/><circle cx="78.2" cy="165.6" r="1.85"/><circle cx="78.7" cy="166.0" r="1.85"/><circle cx="91.7" cy="166.0" r="1.85"/><circle cx="93.2" cy="165.7" r="1.85"/><circle cx="94.1" cy="166.4" r="1.85"/><circle cx="78.1" cy="168.9" r="1.85"/><circle cx="79.1" cy="169.2" r="1.85"/><circle cx="80.0" cy="168.5" r="1.85"/><circle cx="81.6" cy="171.5" r="1.85"/><circle cx="71.1" cy="174.0" r="1.85"/><circle cx="81.6" cy="174.0" r="1.85"/><circle cx="89.6" cy="174.0" r="1.85"/><circle cx="71.7" cy="176.4" r="1.85"/><circle cx="80.4" cy="175.8" r="1.85"/><circle cx="81.5" cy="176.5" r="1.85"/><circle cx="91.5" cy="176.4" r="1.85"/><circle cx="98.3" cy="176.4" r="1.85"/><circle cx="72.9" cy="178.9" r="1.85"/><circle cx="79.6" cy="179.2" r="1.85"/><circle cx="80.3" cy="178.4" r="1.85"/><circle cx="90.4" cy="178.1" r="1.85"/><circle cx="92.5" cy="179.2" r="1.85"/><circle cx="93.8" cy="178.5" r="1.85"/><circle cx="73.2" cy="181.9" r="1.85"/><circle cx="74.3" cy="180.5" r="1.85"/><circle cx="74.9" cy="181.5" r="1.85"/><circle cx="89.6" cy="180.9" r="1.85"/><circle cx="90.1" cy="180.6" r="1.85"/><circle cx="91.1" cy="181.7" r="1.85"/><circle cx="74.2" cy="183.8" r="1.85"/><circle cx="76.1" cy="184.1" r="1.85"/><circle cx="77.9" cy="184.6" r="1.85"/><circle cx="89.4" cy="184.0" r="1.85"/><circle cx="90.2" cy="183.9" r="1.85"/><circle cx="90.9" cy="184.1" r="1.85"/><circle cx="97.1" cy="183.9" r="1.85"/><circle cx="73.2" cy="187.2" r="1.85"/><circle cx="76.2" cy="186.8" r="1.85"/><circle cx="89.5" cy="186.7" r="1.85"/><circle cx="92.3" cy="187.0" r="1.85"/><circle cx="94.1" cy="186.7" r="1.85"/><circle cx="100.1" cy="186.3" r="1.85"/><circle cx="71.1" cy="188.8" r="1.85"/><circle cx="85.5" cy="189.1" r="1.85"/><circle cx="87.8" cy="189.7" r="1.85"/><circle cx="95.5" cy="189.1" r="1.85"/><circle cx="97.1" cy="188.1" r="1.85"/><circle cx="98.7" cy="188.3" r="1.85"/><circle cx="100.0" cy="188.0" r="1.85"/><circle cx="84.0" cy="191.0" r="1.85"/><circle cx="86.2" cy="192.2" r="1.85"/><circle cx="87.8" cy="190.9" r="1.85"/><circle cx="95.2" cy="190.5" r="1.85"/><circle cx="96.8" cy="191.4" r="1.85"/><circle cx="98.6" cy="191.8" r="1.85"/><circle cx="99.9" cy="191.3" r="1.85"/><circle cx="74.6" cy="193.1" r="1.85"/><circle cx="75.4" cy="193.0" r="1.85"/><circle cx="74.2" cy="195.5" r="1.85"/><circle cx="75.2" cy="195.4" r="1.85"/><circle cx="98.2" cy="193.3" r="1.85"/><circle cx="99.1" cy="193.2" r="1.85"/><circle cx="99.7" cy="194.2" r="1.85"/><circle cx="97.9" cy="195.8" r="1.85"/><circle cx="98.6" cy="195.0" r="1.85"/><circle cx="100.4" cy="195.2" r="1.85"/><circle cx="114.4" cy="151.7" r="1.85"/><circle cx="161.1" cy="151.1" r="1.85"/><circle cx="161.1" cy="160.4" r="1.85"/><circle cx="156.4" cy="185.1" r="1.85"/><circle cx="163.2" cy="190.0" r="1.85"/><circle cx="104.2" cy="148.8" r="1.85"/><circle cx="104.5" cy="149.9" r="1.85"/><circle cx="127.8" cy="148.8" r="1.85"/><circle cx="130.8" cy="149.8" r="1.85"/><circle cx="135.1" cy="148.5" r="1.85"/><circle cx="143.4" cy="149.2" r="1.85"/><circle cx="158.3" cy="148.7" r="1.85"/><circle cx="159.8" cy="148.5" r="1.85"/><circle cx="160.6" cy="150.1" r="1.85"/><circle cx="103.9" cy="151.7" r="1.85"/><circle cx="128.7" cy="152.2" r="1.85"/><circle cx="130.1" cy="152.5" r="1.85"/><circle cx="131.8" cy="151.1" r="1.85"/><circle cx="132.9" cy="152.4" r="1.85"/><circle cx="151.1" cy="151.7" r="1.85"/><circle cx="152.5" cy="151.1" r="1.85"/><circle cx="157.2" cy="152.6" r="1.85"/><circle cx="118.7" cy="154.2" r="1.85"/><circle cx="128.0" cy="154.2" r="1.85"/><circle cx="135.4" cy="154.2" r="1.85"/><circle cx="150.9" cy="154.4" r="1.85"/><circle cx="153.3" cy="155.1" r="1.85"/><circle cx="156.4" cy="153.9" r="1.85"/><circle cx="158.3" cy="153.3" r="1.85"/><circle cx="103.2" cy="156.7" r="1.85"/><circle cx="120.4" cy="157.4" r="1.85"/><circle cx="124.5" cy="157.5" r="1.85"/><circle cx="126.0" cy="157.6" r="1.85"/><circle cx="150.6" cy="156.5" r="1.85"/><circle cx="152.2" cy="156.3" r="1.85"/><circle cx="156.5" cy="156.6" r="1.85"/><circle cx="157.2" cy="156.5" r="1.85"/><circle cx="159.8" cy="157.6" r="1.85"/><circle cx="103.8" cy="158.5" r="1.85"/><circle cx="106.1" cy="158.4" r="1.85"/><circle cx="107.1" cy="158.8" r="1.85"/><circle cx="121.3" cy="159.7" r="1.85"/><circle cx="123.3" cy="159.1" r="1.85"/><circle cx="125.0" cy="158.8" r="1.85"/><circle cx="142.2" cy="159.1" r="1.85"/><circle cx="156.1" cy="158.9" r="1.85"/><circle cx="156.7" cy="159.8" r="1.85"/><circle cx="157.9" cy="160.0" r="1.85"/><circle cx="104.2" cy="160.8" r="1.85"/><circle cx="106.3" cy="161.8" r="1.85"/><circle cx="108.3" cy="161.2" r="1.85"/><circle cx="110.2" cy="162.4" r="1.85"/><circle cx="124.9" cy="161.6" r="1.85"/><circle cx="133.3" cy="161.3" r="1.85"/><circle cx="135.8" cy="161.1" r="1.85"/><circle cx="137.6" cy="160.6" r="1.85"/><circle cx="141.0" cy="161.4" r="1.85"/><circle cx="156.1" cy="161.4" r="1.85"/><circle cx="157.2" cy="162.1" r="1.85"/><circle cx="157.7" cy="161.8" r="1.85"/><circle cx="104.5" cy="165.0" r="1.85"/><circle cx="107.3" cy="165.1" r="1.85"/><circle cx="109.7" cy="163.9" r="1.85"/><circle cx="111.5" cy="163.2" r="1.85"/><circle cx="122.4" cy="164.1" r="1.85"/><circle cx="133.7" cy="164.3" r="1.85"/><circle cx="135.3" cy="164.7" r="1.85"/><circle cx="139.4" cy="164.7" r="1.85"/><circle cx="140.9" cy="163.9" r="1.85"/><circle cx="155.9" cy="163.6" r="1.85"/><circle cx="157.7" cy="163.2" r="1.85"/><circle cx="158.8" cy="164.4" r="1.85"/><circle cx="107.0" cy="167.0" r="1.85"/><circle cx="107.0" cy="165.8" r="1.85"/><circle cx="119.7" cy="166.7" r="1.85"/><circle cx="121.6" cy="165.6" r="1.85"/><circle cx="123.4" cy="165.9" r="1.85"/><circle cx="125.0" cy="167.4" r="1.85"/><circle cx="134.1" cy="166.5" r="1.85"/><circle cx="142.2" cy="166.7" r="1.85"/><circle cx="145.8" cy="167.4" r="1.85"/><circle cx="147.8" cy="167.0" r="1.85"/><circle cx="154.0" cy="167.4" r="1.85"/><circle cx="155.3" cy="166.4" r="1.85"/><circle cx="157.6" cy="166.5" r="1.85"/><circle cx="159.0" cy="166.1" r="1.85"/><circle cx="104.1" cy="168.2" r="1.85"/><circle cx="105.8" cy="168.4" r="1.85"/><circle cx="128.3" cy="169.1" r="1.85"/><circle cx="130.2" cy="169.9" r="1.85"/><circle cx="131.9" cy="169.0" r="1.85"/><circle cx="146.2" cy="169.3" r="1.85"/><circle cx="147.6" cy="168.2" r="1.85"/><circle cx="154.1" cy="169.6" r="1.85"/><circle cx="156.2" cy="169.1" r="1.85"/><circle cx="158.0" cy="168.4" r="1.85"/><circle cx="107.5" cy="171.2" r="1.85"/><circle cx="110.0" cy="171.0" r="1.85"/><circle cx="126.1" cy="171.5" r="1.85"/><circle cx="146.6" cy="171.2" r="1.85"/><circle cx="147.5" cy="170.9" r="1.85"/><circle cx="149.3" cy="171.6" r="1.85"/><circle cx="114.4" cy="174.0" r="1.85"/><circle cx="126.8" cy="173.3" r="1.85"/><circle cx="128.0" cy="174.7" r="1.85"/><circle cx="139.5" cy="174.8" r="1.85"/><circle cx="142.4" cy="173.7" r="1.85"/><circle cx="159.5" cy="174.0" r="1.85"/><circle cx="105.1" cy="176.4" r="1.85"/><circle cx="113.7" cy="176.4" r="1.85"/><circle cx="124.3" cy="176.4" r="1.85"/><circle cx="151.5" cy="176.4" r="1.85"/><circle cx="159.5" cy="176.4" r="1.85"/><circle cx="106.9" cy="178.8" r="1.85"/><circle cx="107.2" cy="177.9" r="1.85"/><circle cx="126.2" cy="178.8" r="1.85"/><circle cx="127.4" cy="179.6" r="1.85"/><circle cx="128.3" cy="179.2" r="1.85"/><circle cx="149.9" cy="178.2" r="1.85"/><circle cx="151.0" cy="178.7" r="1.85"/><circle cx="151.6" cy="178.2" r="1.85"/><circle cx="112.6" cy="182.3" r="1.85"/><circle cx="114.1" cy="181.4" r="1.85"/><circle cx="116.3" cy="182.1" r="1.85"/><circle cx="127.3" cy="181.4" r="1.85"/><circle cx="150.7" cy="181.3" r="1.85"/><circle cx="154.5" cy="180.8" r="1.85"/><circle cx="158.4" cy="180.8" r="1.85"/><circle cx="111.7" cy="183.1" r="1.85"/><circle cx="112.0" cy="183.2" r="1.85"/><circle cx="122.4" cy="183.9" r="1.85"/><circle cx="132.8" cy="183.0" r="1.85"/><circle cx="133.0" cy="184.1" r="1.85"/><circle cx="144.8" cy="184.6" r="1.85"/><circle cx="146.3" cy="184.3" r="1.85"/><circle cx="148.7" cy="183.2" r="1.85"/><circle cx="150.8" cy="183.3" r="1.85"/><circle cx="152.0" cy="184.8" r="1.85"/><circle cx="155.9" cy="183.8" r="1.85"/><circle cx="158.2" cy="183.4" r="1.85"/><circle cx="121.2" cy="186.3" r="1.85"/><circle cx="131.3" cy="186.7" r="1.85"/><circle cx="131.8" cy="187.3" r="1.85"/><circle cx="147.2" cy="186.5" r="1.85"/><circle cx="148.8" cy="185.3" r="1.85"/><circle cx="156.0" cy="186.6" r="1.85"/><circle cx="109.9" cy="188.6" r="1.85"/><circle cx="110.9" cy="188.0" r="1.85"/><circle cx="119.9" cy="187.8" r="1.85"/><circle cx="121.4" cy="188.7" r="1.85"/><circle cx="132.5" cy="189.5" r="1.85"/><circle cx="133.5" cy="189.2" r="1.85"/><circle cx="134.6" cy="188.5" r="1.85"/><circle cx="155.0" cy="188.0" r="1.85"/><circle cx="155.7" cy="188.1" r="1.85"/><circle cx="110.0" cy="191.3" r="1.85"/><circle cx="121.4" cy="190.6" r="1.85"/><circle cx="122.2" cy="191.0" r="1.85"/><circle cx="142.6" cy="190.9" r="1.85"/><circle cx="145.9" cy="191.7" r="1.85"/><circle cx="147.3" cy="191.5" r="1.85"/><circle cx="151.5" cy="191.4" r="1.85"/><circle cx="152.8" cy="190.9" r="1.85"/><circle cx="154.7" cy="192.2" r="1.85"/><circle cx="156.6" cy="191.3" r="1.85"/><circle cx="108.8" cy="193.7" r="1.85"/><circle cx="126.0" cy="194.4" r="1.85"/><circle cx="126.8" cy="194.7" r="1.85"/><circle cx="126.0" cy="195.1" r="1.85"/><circle cx="127.1" cy="195.2" r="1.85"/><circle cx="140.7" cy="194.3" r="1.85"/><circle cx="144.4" cy="192.8" r="1.85"/><circle cx="146.8" cy="192.8" r="1.85"/><circle cx="148.5" cy="194.7" r="1.85"/><circle cx="150.6" cy="194.2" r="1.85"/><circle cx="154.7" cy="194.5" r="1.85"/><circle cx="156.4" cy="194.6" r="1.85"/><circle cx="158.2" cy="193.1" r="1.85"/><circle cx="141.3" cy="195.1" r="1.85"/><circle cx="142.7" cy="196.3" r="1.85"/><circle cx="145.1" cy="195.0" r="1.85"/><circle cx="146.8" cy="196.6" r="1.85"/><circle cx="148.9" cy="196.6" r="1.85"/><circle cx="150.7" cy="195.7" r="1.85"/><circle cx="152.2" cy="195.3" r="1.85"/><circle cx="155.9" cy="196.3" r="1.85"/><circle cx="157.9" cy="195.3" r="1.85"/><circle cx="42.9" cy="201.9" r="1.85"/><circle cx="49.5" cy="199.1" r="1.85"/><circle cx="50.1" cy="201.2" r="1.85"/><circle cx="60.6" cy="197.5" r="1.85"/><circle cx="64.3" cy="200.9" r="1.85"/><circle cx="71.1" cy="201.6" r="1.85"/><circle cx="69.2" cy="204.7" r="1.85"/><circle cx="73.6" cy="198.5" r="1.85"/><circle cx="76.7" cy="200.3" r="1.85"/><circle cx="85.3" cy="197.9" r="1.85"/><circle cx="88.4" cy="200.3" r="1.85"/><circle cx="95.8" cy="204.7" r="1.85"/><circle cx="98.3" cy="203.4" r="1.85"/><circle cx="101.4" cy="201.6" r="1.85"/><circle cx="81.0" cy="207.1" r="1.85"/><circle cx="66.8" cy="210.2" r="1.85"/><circle cx="71.7" cy="209.6" r="1.85"/><circle cx="82.8" cy="211.5" r="1.85"/><circle cx="47.6" cy="212.1" r="1.85"/><circle cx="52.5" cy="215.5" r="1.85"/><circle cx="60.0" cy="218.3" r="1.85"/><circle cx="68.6" cy="218.9" r="1.85"/><circle cx="76.0" cy="217.0" r="1.85"/><circle cx="76.7" cy="219.5" r="1.85"/><circle cx="85.9" cy="214.5" r="1.85"/><circle cx="93.3" cy="218.3" r="1.85"/><circle cx="87.8" cy="220.7" r="1.85"/><circle cx="89.6" cy="222.6" r="1.85"/><circle cx="50.1" cy="222.6" r="1.85"/><circle cx="50.7" cy="225.7" r="1.85"/><circle cx="67.4" cy="222.6" r="1.85"/><circle cx="77.3" cy="223.8" r="1.85"/><circle cx="80.4" cy="226.9" r="1.85"/><circle cx="76.7" cy="227.5" r="1.85"/><circle cx="50.7" cy="229.4" r="1.85"/><circle cx="61.8" cy="231.9" r="1.85"/><circle cx="61.2" cy="230.0" r="1.85"/><circle cx="88.4" cy="230.6" r="1.85"/><circle cx="100.8" cy="222.6" r="1.85"/><circle cx="76.7" cy="235.6" r="1.85"/><circle cx="75.4" cy="237.4" r="1.85"/><circle cx="81.6" cy="238.0" r="1.85"/><circle cx="83.5" cy="235.6" r="1.85"/><circle cx="67.4" cy="236.2" r="1.85"/><circle cx="53.8" cy="238.0" r="1.85"/><circle cx="50.7" cy="239.9" r="1.85"/><circle cx="80.4" cy="239.9" r="1.85"/><circle cx="97.7" cy="241.1" r="1.85"/><circle cx="101.4" cy="236.8" r="1.85"/><circle cx="84.1" cy="242.7" r="1.85"/><circle cx="114.7" cy="197.2" r="1.85"/><circle cx="117.1" cy="197.8" r="1.85"/><circle cx="124.9" cy="197.2" r="1.85"/><circle cx="137.9" cy="196.4" r="1.85"/><circle cx="139.6" cy="197.9" r="1.85"/><circle cx="141.3" cy="197.2" r="1.85"/><circle cx="146.4" cy="197.2" r="1.85"/><circle cx="148.2" cy="196.8" r="1.85"/><circle cx="150.6" cy="197.1" r="1.85"/><circle cx="152.1" cy="196.9" r="1.85"/><circle cx="153.8" cy="197.3" r="1.85"/><circle cx="155.7" cy="196.7" r="1.85"/><circle cx="112.6" cy="200.2" r="1.85"/><circle cx="114.6" cy="200.2" r="1.85"/><circle cx="116.8" cy="198.9" r="1.85"/><circle cx="118.9" cy="198.9" r="1.85"/><circle cx="122.6" cy="200.3" r="1.85"/><circle cx="124.2" cy="200.5" r="1.85"/><circle cx="136.3" cy="199.2" r="1.85"/><circle cx="138.2" cy="199.2" r="1.85"/><circle cx="139.7" cy="199.4" r="1.85"/><circle cx="142.5" cy="199.1" r="1.85"/><circle cx="143.7" cy="199.4" r="1.85"/><circle cx="145.8" cy="199.4" r="1.85"/><circle cx="148.1" cy="199.5" r="1.85"/><circle cx="150.1" cy="199.6" r="1.85"/><circle cx="151.7" cy="198.8" r="1.85"/><circle cx="154.2" cy="200.1" r="1.85"/><circle cx="155.6" cy="199.0" r="1.85"/><circle cx="158.5" cy="199.7" r="1.85"/><circle cx="111.3" cy="202.7" r="1.85"/><circle cx="112.0" cy="203.1" r="1.85"/><circle cx="120.3" cy="201.7" r="1.85"/><circle cx="121.8" cy="201.7" r="1.85"/><circle cx="126.7" cy="203.0" r="1.85"/><circle cx="128.2" cy="202.3" r="1.85"/><circle cx="136.5" cy="202.7" r="1.85"/><circle cx="138.5" cy="202.5" r="1.85"/><circle cx="140.2" cy="201.6" r="1.85"/><circle cx="142.2" cy="202.6" r="1.85"/><circle cx="143.4" cy="202.3" r="1.85"/><circle cx="146.2" cy="202.4" r="1.85"/><circle cx="147.5" cy="201.6" r="1.85"/><circle cx="149.2" cy="202.1" r="1.85"/><circle cx="151.5" cy="203.2" r="1.85"/><circle cx="155.7" cy="201.3" r="1.85"/><circle cx="159.1" cy="201.5" r="1.85"/><circle cx="116.3" cy="205.3" r="1.85"/><circle cx="118.0" cy="204.6" r="1.85"/><circle cx="119.3" cy="204.8" r="1.85"/><circle cx="120.8" cy="204.6" r="1.85"/><circle cx="128.7" cy="204.8" r="1.85"/><circle cx="129.7" cy="204.9" r="1.85"/><circle cx="141.1" cy="204.4" r="1.85"/><circle cx="143.0" cy="203.8" r="1.85"/><circle cx="144.9" cy="204.1" r="1.85"/><circle cx="146.8" cy="205.3" r="1.85"/><circle cx="148.9" cy="204.2" r="1.85"/><circle cx="150.3" cy="204.3" r="1.85"/><circle cx="152.5" cy="203.7" r="1.85"/><circle cx="153.5" cy="204.7" r="1.85"/><circle cx="155.7" cy="205.3" r="1.85"/><circle cx="157.0" cy="204.1" r="1.85"/><circle cx="159.5" cy="205.1" r="1.85"/><circle cx="130.0" cy="206.2" r="1.85"/><circle cx="130.5" cy="206.8" r="1.85"/><circle cx="139.9" cy="207.6" r="1.85"/><circle cx="142.0" cy="207.4" r="1.85"/><circle cx="144.1" cy="206.6" r="1.85"/><circle cx="145.5" cy="207.7" r="1.85"/><circle cx="147.5" cy="207.8" r="1.85"/><circle cx="149.9" cy="207.1" r="1.85"/><circle cx="153.2" cy="206.4" r="1.85"/><circle cx="157.4" cy="207.5" r="1.85"/><circle cx="159.2" cy="206.2" r="1.85"/><circle cx="129.1" cy="210.1" r="1.85"/><circle cx="130.0" cy="209.5" r="1.85"/><circle cx="139.7" cy="210.5" r="1.85"/><circle cx="143.3" cy="208.8" r="1.85"/><circle cx="153.3" cy="210.5" r="1.85"/><circle cx="155.0" cy="208.8" r="1.85"/><circle cx="156.9" cy="210.3" r="1.85"/><circle cx="157.6" cy="209.1" r="1.85"/><circle cx="137.4" cy="211.2" r="1.85"/><circle cx="139.0" cy="211.6" r="1.85"/><circle cx="140.9" cy="211.6" r="1.85"/><circle cx="142.0" cy="212.5" r="1.85"/><circle cx="151.9" cy="212.1" r="1.85"/><circle cx="154.3" cy="212.2" r="1.85"/><circle cx="156.0" cy="212.5" r="1.85"/><circle cx="105.1" cy="214.5" r="1.85"/><circle cx="136.0" cy="214.5" r="1.85"/><circle cx="145.7" cy="215.1" r="1.85"/><circle cx="147.9" cy="214.5" r="1.85"/><circle cx="149.5" cy="214.4" r="1.85"/><circle cx="151.1" cy="214.3" r="1.85"/><circle cx="153.0" cy="213.6" r="1.85"/><circle cx="107.6" cy="217.0" r="1.85"/><circle cx="137.2" cy="217.0" r="1.85"/><circle cx="145.7" cy="216.9" r="1.85"/><circle cx="147.8" cy="216.5" r="1.85"/><circle cx="151.5" cy="216.6" r="1.85"/><circle cx="152.8" cy="216.2" r="1.85"/><circle cx="154.8" cy="216.9" r="1.85"/><circle cx="107.6" cy="219.5" r="1.85"/><circle cx="119.9" cy="219.5" r="1.85"/><circle cx="138.2" cy="220.3" r="1.85"/><circle cx="140.1" cy="219.3" r="1.85"/><circle cx="142.2" cy="219.7" r="1.85"/><circle cx="144.5" cy="218.9" r="1.85"/><circle cx="146.3" cy="218.8" r="1.85"/><circle cx="148.5" cy="220.2" r="1.85"/><circle cx="150.0" cy="218.6" r="1.85"/><circle cx="152.3" cy="219.8" r="1.85"/><circle cx="160.7" cy="219.5" r="1.85"/><circle cx="103.2" cy="222.0" r="1.85"/><circle cx="121.2" cy="222.0" r="1.85"/><circle cx="129.3" cy="222.9" r="1.85"/><circle cx="130.0" cy="222.7" r="1.85"/><circle cx="131.7" cy="221.8" r="1.85"/><circle cx="148.5" cy="221.3" r="1.85"/><circle cx="149.2" cy="222.4" r="1.85"/><circle cx="160.7" cy="222.0" r="1.85"/><circle cx="108.8" cy="224.4" r="1.85"/><circle cx="119.3" cy="224.4" r="1.85"/><circle cx="160.7" cy="224.4" r="1.85"/><circle cx="103.9" cy="226.9" r="1.85"/><circle cx="128.4" cy="227.3" r="1.85"/><circle cx="130.5" cy="227.8" r="1.85"/><circle cx="139.7" cy="226.9" r="1.85"/><circle cx="150.8" cy="225.9" r="1.85"/><circle cx="152.8" cy="227.0" r="1.85"/><circle cx="154.3" cy="227.0" r="1.85"/><circle cx="156.0" cy="227.1" r="1.85"/><circle cx="157.9" cy="227.8" r="1.85"/><circle cx="103.9" cy="229.4" r="1.85"/><circle cx="129.8" cy="229.4" r="1.85"/><circle cx="139.4" cy="228.8" r="1.85"/><circle cx="141.0" cy="228.6" r="1.85"/><circle cx="151.2" cy="229.1" r="1.85"/><circle cx="152.9" cy="229.8" r="1.85"/><circle cx="154.2" cy="228.5" r="1.85"/><circle cx="155.8" cy="229.1" r="1.85"/><circle cx="158.5" cy="228.8" r="1.85"/><circle cx="115.0" cy="231.9" r="1.85"/><circle cx="131.1" cy="230.9" r="1.85"/><circle cx="132.3" cy="231.7" r="1.85"/><circle cx="142.4" cy="232.7" r="1.85"/><circle cx="144.3" cy="231.3" r="1.85"/><circle cx="146.4" cy="231.6" r="1.85"/><circle cx="147.3" cy="230.9" r="1.85"/><circle cx="149.3" cy="231.5" r="1.85"/><circle cx="157.0" cy="231.9" r="1.85"/><circle cx="116.2" cy="234.3" r="1.85"/><circle cx="142.1" cy="234.0" r="1.85"/><circle cx="146.1" cy="233.8" r="1.85"/><circle cx="148.0" cy="234.3" r="1.85"/><circle cx="149.0" cy="233.8" r="1.85"/><circle cx="157.0" cy="234.3" r="1.85"/><circle cx="105.7" cy="236.8" r="1.85"/><circle cx="121.2" cy="236.8" r="1.85"/><circle cx="143.2" cy="236.4" r="1.85"/><circle cx="144.8" cy="236.7" r="1.85"/><circle cx="145.2" cy="236.9" r="1.85"/><circle cx="155.2" cy="236.7" r="1.85"/><circle cx="155.6" cy="236.9" r="1.85"/><circle cx="105.1" cy="239.3" r="1.85"/><circle cx="123.6" cy="239.3" r="1.85"/><circle cx="132.4" cy="240.2" r="1.85"/><circle cx="136.7" cy="238.5" r="1.85"/><circle cx="138.2" cy="239.2" r="1.85"/><circle cx="140.6" cy="238.6" r="1.85"/><circle cx="141.7" cy="238.4" r="1.85"/><circle cx="154.5" cy="239.3" r="1.85"/><circle cx="116.8" cy="241.7" r="1.85"/><circle cx="126.1" cy="241.8" r="1.85"/><circle cx="128.2" cy="240.8" r="1.85"/><circle cx="131.4" cy="241.6" r="1.85"/><circle cx="133.5" cy="241.9" r="1.85"/><circle cx="125.9" cy="242.8" r="1.85"/><circle cx="130.3" cy="244.3" r="1.85"/><circle cx="131.8" cy="243.8" r="1.85"/><circle cx="132.9" cy="242.8" r="1.85"/><circle cx="147.6" cy="241.8" r="1.85"/><circle cx="149.1" cy="241.3" r="1.85"/><circle cx="153.1" cy="241.7" r="1.85"/><circle cx="147.4" cy="243.5" r="1.85"/><circle cx="148.8" cy="244.4" r="1.85"/><circle cx="153.0" cy="243.1" r="1.85"/><circle cx="53.2" cy="252.9" r="1.85"/><circle cx="67.4" cy="244.6" r="1.85"/><circle cx="75.4" cy="248.7" r="1.85"/><circle cx="83.2" cy="245.2" r="1.85"/><circle cx="70.8" cy="252.7" r="1.85"/><circle cx="68.4" cy="256.4" r="1.85"/><circle cx="84.1" cy="254.9" r="1.85"/><circle cx="92.7" cy="254.5" r="1.85"/><circle cx="76.7" cy="256.4" r="1.85"/><circle cx="78.5" cy="257.6" r="1.85"/><circle cx="76.7" cy="259.5" r="1.85"/><circle cx="49.1" cy="262.3" r="1.85"/><circle cx="68.9" cy="264.8" r="1.85"/><circle cx="81.6" cy="264.4" r="1.85"/><circle cx="77.5" cy="267.7" r="1.85"/><circle cx="85.3" cy="266.9" r="1.85"/><circle cx="89.4" cy="268.7" r="1.85"/><circle cx="93.1" cy="265.0" r="1.85"/><circle cx="94.6" cy="266.3" r="1.85"/><circle cx="100.1" cy="263.2" r="1.85"/><circle cx="53.2" cy="267.5" r="1.85"/><circle cx="57.5" cy="271.0" r="1.85"/><circle cx="61.4" cy="270.2" r="1.85"/><circle cx="72.7" cy="274.5" r="1.85"/><circle cx="51.9" cy="277.1" r="1.85"/><circle cx="59.3" cy="276.4" r="1.85"/><circle cx="60.2" cy="278.6" r="1.85"/><circle cx="65.5" cy="276.8" r="1.85"/><circle cx="60.6" cy="280.8" r="1.85"/><circle cx="89.4" cy="279.0" r="1.85"/><circle cx="80.4" cy="283.6" r="1.85"/><circle cx="56.5" cy="285.4" r="1.85"/><circle cx="66.8" cy="287.9" r="1.85"/><circle cx="70.2" cy="287.0" r="1.85"/><circle cx="76.7" cy="287.9" r="1.85"/><circle cx="78.5" cy="288.5" r="1.85"/><circle cx="108.2" cy="252.0" r="1.85"/><circle cx="113.1" cy="252.7" r="1.85"/><circle cx="109.4" cy="254.5" r="1.85"/><circle cx="102.6" cy="255.1" r="1.85"/><circle cx="124.3" cy="259.5" r="1.85"/><circle cx="103.9" cy="264.4" r="1.85"/><circle cx="112.5" cy="265.0" r="1.85"/><circle cx="115.6" cy="269.3" r="1.85"/><circle cx="108.8" cy="275.5" r="1.85"/><circle cx="121.8" cy="276.8" r="1.85"/><circle cx="121.8" cy="281.1" r="1.85"/><circle cx="128.6" cy="255.7" r="1.85"/><circle cx="128.0" cy="270.6" r="1.85"/><circle cx="128.6" cy="274.9" r="1.85"/><circle cx="136.0" cy="279.9" r="1.85"/><circle cx="134.8" cy="281.7" r="1.85"/><circle cx="126.7" cy="245.2" r="1.85"/><circle cx="133.2" cy="244.4" r="1.85"/><circle cx="136.7" cy="245.5" r="1.85"/><circle cx="139.1" cy="244.7" r="1.85"/><circle cx="140.5" cy="245.8" r="1.85"/><circle cx="142.3" cy="246.1" r="1.85"/><circle cx="158.9" cy="247.7" r="1.85"/><circle cx="139.1" cy="250.2" r="1.85"/><circle cx="158.3" cy="250.2" r="1.85"/><circle cx="138.5" cy="252.7" r="1.85"/><circle cx="156.3" cy="251.7" r="1.85"/><circle cx="157.2" cy="253.5" r="1.85"/><circle cx="158.0" cy="252.2" r="1.85"/><circle cx="139.5" cy="254.5" r="1.85"/><circle cx="142.8" cy="255.8" r="1.85"/><circle cx="146.3" cy="254.7" r="1.85"/><circle cx="147.9" cy="255.0" r="1.85"/><circle cx="156.3" cy="255.2" r="1.85"/><circle cx="156.7" cy="254.8" r="1.85"/><circle cx="158.4" cy="254.3" r="1.85"/><circle cx="140.1" cy="258.2" r="1.85"/><circle cx="141.7" cy="257.1" r="1.85"/><circle cx="144.0" cy="256.9" r="1.85"/><circle cx="146.1" cy="256.7" r="1.85"/><circle cx="147.9" cy="257.0" r="1.85"/><circle cx="149.5" cy="257.9" r="1.85"/><circle cx="151.3" cy="257.3" r="1.85"/><circle cx="155.8" cy="258.5" r="1.85"/><circle cx="161.3" cy="257.6" r="1.85"/><circle cx="137.9" cy="260.1" r="1.85"/><circle cx="146.5" cy="260.1" r="1.85"/><circle cx="154.3" cy="259.5" r="1.85"/><circle cx="156.3" cy="259.9" r="1.85"/><circle cx="158.3" cy="259.3" r="1.85"/><circle cx="159.0" cy="260.0" r="1.85"/><circle cx="135.1" cy="263.1" r="1.85"/><circle cx="136.4" cy="263.5" r="1.85"/><circle cx="137.4" cy="262.3" r="1.85"/><circle cx="146.6" cy="262.7" r="1.85"/><circle cx="147.2" cy="263.2" r="1.85"/><circle cx="156.7" cy="263.5" r="1.85"/><circle cx="158.4" cy="262.9" r="1.85"/><circle cx="140.1" cy="264.7" r="1.85"/><circle cx="140.8" cy="264.8" r="1.85"/><circle cx="150.8" cy="264.8" r="1.85"/><circle cx="153.1" cy="264.9" r="1.85"/><circle cx="156.5" cy="265.8" r="1.85"/><circle cx="158.2" cy="264.0" r="1.85"/><circle cx="140.3" cy="267.5" r="1.85"/><circle cx="150.7" cy="268.4" r="1.85"/><circle cx="152.7" cy="268.3" r="1.85"/><circle cx="156.0" cy="266.5" r="1.85"/><circle cx="158.4" cy="268.2" r="1.85"/><circle cx="129.8" cy="270.0" r="1.85"/><circle cx="142.2" cy="270.0" r="1.85"/><circle cx="151.8" cy="270.3" r="1.85"/><circle cx="153.6" cy="270.7" r="1.85"/><circle cx="129.8" cy="272.4" r="1.85"/><circle cx="142.8" cy="272.4" r="1.85"/><circle cx="153.6" cy="273.1" r="1.85"/><circle cx="155.5" cy="273.2" r="1.85"/><circle cx="159.0" cy="272.2" r="1.85"/><circle cx="129.2" cy="274.9" r="1.85"/><circle cx="144.0" cy="274.1" r="1.85"/><circle cx="145.5" cy="275.9" r="1.85"/><circle cx="148.0" cy="274.1" r="1.85"/><circle cx="149.3" cy="274.2" r="1.85"/><circle cx="156.9" cy="275.7" r="1.85"/><circle cx="158.2" cy="274.9" r="1.85"/><circle cx="158.8" cy="275.9" r="1.85"/><circle cx="136.3" cy="278.2" r="1.85"/><circle cx="140.0" cy="277.9" r="1.85"/><circle cx="141.8" cy="278.2" r="1.85"/><circle cx="143.4" cy="277.9" r="1.85"/><circle cx="150.2" cy="277.4" r="1.85"/><circle cx="160.7" cy="277.4" r="1.85"/><circle cx="140.8" cy="280.1" r="1.85"/><circle cx="141.9" cy="280.3" r="1.85"/><circle cx="142.8" cy="280.4" r="1.85"/><circle cx="149.6" cy="279.9" r="1.85"/><circle cx="158.3" cy="279.9" r="1.85"/><circle cx="137.2" cy="282.3" r="1.85"/><circle cx="143.1" cy="282.3" r="1.85"/><circle cx="150.9" cy="281.4" r="1.85"/><circle cx="151.7" cy="282.9" r="1.85"/><circle cx="159.5" cy="282.3" r="1.85"/><circle cx="129.2" cy="284.8" r="1.85"/><circle cx="150.9" cy="284.8" r="1.85"/><circle cx="151.8" cy="283.9" r="1.85"/><circle cx="159.5" cy="284.8" r="1.85"/><circle cx="131.2" cy="287.2" r="1.85"/><circle cx="132.8" cy="286.3" r="1.85"/><circle cx="135.0" cy="286.3" r="1.85"/><circle cx="138.2" cy="286.9" r="1.85"/><circle cx="140.6" cy="287.6" r="1.85"/><circle cx="141.5" cy="287.1" r="1.85"/><circle cx="153.3" cy="287.3" r="1.85"/><circle cx="137.9" cy="290.0" r="1.85"/><circle cx="139.1" cy="290.2" r="1.85"/><circle cx="142.3" cy="289.1" r="1.85"/><circle cx="137.4" cy="291.1" r="1.85"/><circle cx="142.0" cy="292.0" r="1.85"/><circle cx="150.2" cy="289.7" r="1.85"/><circle cx="57.2" cy="293.9" r="1.85"/><circle cx="74.8" cy="296.0" r="1.85"/><circle cx="80.4" cy="296.0" r="1.85"/><circle cx="96.7" cy="298.4" r="1.85"/><circle cx="100.8" cy="293.9" r="1.85"/><circle cx="91.7" cy="308.4" r="1.85"/><circle cx="74.2" cy="323.8" r="1.85"/><circle cx="76.3" cy="323.2" r="1.85"/><circle cx="76.9" cy="333.0" r="1.85"/><circle cx="119.3" cy="297.2" r="1.85"/><circle cx="125.5" cy="303.1" r="1.85"/><circle cx="128.0" cy="304.4" r="1.85"/><circle cx="157.6" cy="296.9" r="1.85"/><circle cx="159.5" cy="303.7" r="1.85"/><circle cx="156.4" cy="305.0" r="1.85"/><circle cx="126.7" cy="318.2" r="1.85"/><circle cx="128.6" cy="321.1" r="1.85"/><circle cx="121.8" cy="325.1" r="1.85"/><circle cx="124.9" cy="325.4" r="1.85"/><circle cx="131.1" cy="324.8" r="1.85"/><circle cx="108.2" cy="326.9" r="1.85"/><circle cx="105.7" cy="331.8" r="1.85"/><circle cx="124.9" cy="334.7" r="1.85"/><circle cx="151.5" cy="332.2" r="1.85"/><circle cx="153.3" cy="331.6" r="1.85"/><circle cx="154.5" cy="321.1" r="1.85"/><circle cx="131.1" cy="293.2" r="1.85"/><circle cx="146.0" cy="293.1" r="1.85"/><circle cx="147.2" cy="293.6" r="1.85"/><circle cx="148.3" cy="292.8" r="1.85"/><circle cx="132.6" cy="295.7" r="1.85"/><circle cx="147.7" cy="295.7" r="1.85"/><circle cx="126.7" cy="298.2" r="1.85"/><circle cx="131.7" cy="298.2" r="1.85"/><circle cx="139.7" cy="298.2" r="1.85"/><circle cx="157.6" cy="298.2" r="1.85"/><circle cx="135.4" cy="300.3" r="1.85"/><circle cx="138.8" cy="301.2" r="1.85"/><circle cx="140.7" cy="300.1" r="1.85"/><circle cx="142.3" cy="302.8" r="1.85"/><circle cx="144.2" cy="302.1" r="1.85"/><circle cx="148.1" cy="302.6" r="1.85"/><circle cx="149.7" cy="303.9" r="1.85"/><circle cx="152.4" cy="303.2" r="1.85"/><circle cx="136.0" cy="305.6" r="1.85"/><circle cx="143.5" cy="306.4" r="1.85"/><circle cx="145.1" cy="305.7" r="1.85"/><circle cx="147.7" cy="306.2" r="1.85"/><circle cx="149.2" cy="306.4" r="1.85"/><circle cx="136.5" cy="307.8" r="1.85"/><circle cx="138.0" cy="307.5" r="1.85"/><circle cx="140.3" cy="308.6" r="1.85"/><circle cx="142.3" cy="308.6" r="1.85"/><circle cx="143.7" cy="307.7" r="1.85"/><circle cx="145.5" cy="307.8" r="1.85"/><circle cx="147.1" cy="308.2" r="1.85"/><circle cx="149.5" cy="307.8" r="1.85"/><circle cx="137.2" cy="311.5" r="1.85"/><circle cx="138.8" cy="311.0" r="1.85"/><circle cx="139.1" cy="310.1" r="1.85"/><circle cx="142.2" cy="313.0" r="1.85"/><circle cx="150.2" cy="313.0" r="1.85"/><circle cx="141.4" cy="316.1" r="1.85"/><circle cx="144.9" cy="316.2" r="1.85"/><circle cx="148.4" cy="315.6" r="1.85"/><circle cx="141.6" cy="317.1" r="1.85"/><circle cx="142.6" cy="318.6" r="1.85"/><circle cx="143.0" cy="317.8" r="1.85"/><circle cx="141.6" cy="320.6" r="1.85"/><circle cx="142.1" cy="320.4" r="1.85"/><circle cx="142.8" cy="320.2" r="1.85"/><circle cx="151.4" cy="321.2" r="1.85"/><circle cx="153.3" cy="321.2" r="1.85"/><circle cx="140.3" cy="322.9" r="1.85"/><circle cx="147.0" cy="322.6" r="1.85"/><circle cx="148.2" cy="322.5" r="1.85"/><circle cx="141.3" cy="325.9" r="1.85"/><circle cx="143.4" cy="326.4" r="1.85"/><circle cx="147.1" cy="324.6" r="1.85"/><circle cx="140.1" cy="327.0" r="1.85"/><circle cx="141.2" cy="328.2" r="1.85"/><circle cx="141.9" cy="327.2" r="1.85"/><circle cx="139.0" cy="330.5" r="1.85"/><circle cx="142.8" cy="330.7" r="1.85"/><circle cx="144.4" cy="330.8" r="1.85"/><circle cx="150.7" cy="329.8" r="1.85"/><circle cx="152.0" cy="330.2" r="1.85"/><circle cx="137.2" cy="331.8" r="1.85"/><circle cx="140.8" cy="333.0" r="1.85"/><circle cx="143.1" cy="332.6" r="1.85"/><circle cx="150.8" cy="332.8" r="1.85"/></g>
<g fill="#0a0a6a"><circle cx="66.8" cy="101.5" r="1.85"/><circle cx="71.7" cy="101.9" r="1.85"/><circle cx="84.4" cy="100.6" r="1.85"/><circle cx="58.7" cy="104.3" r="1.85"/><circle cx="77.9" cy="104.7" r="1.85"/><circle cx="92.1" cy="105.9" r="1.85"/><circle cx="55.3" cy="108.4" r="1.85"/><circle cx="64.7" cy="108.4" r="1.85"/><circle cx="81.6" cy="110.9" r="1.85"/><circle cx="87.4" cy="110.5" r="1.85"/><circle cx="85.9" cy="113.0" r="1.85"/><circle cx="96.4" cy="110.9" r="1.85"/><circle cx="65.5" cy="113.6" r="1.85"/><circle cx="76.4" cy="114.2" r="1.85"/><circle cx="83.2" cy="119.2" r="1.85"/><circle cx="89.0" cy="120.4" r="1.85"/><circle cx="95.8" cy="119.5" r="1.85"/><circle cx="97.7" cy="121.6" r="1.85"/><circle cx="92.7" cy="123.2" r="1.85"/><circle cx="57.5" cy="121.0" r="1.85"/><circle cx="70.2" cy="122.9" r="1.85"/><circle cx="88.0" cy="125.3" r="1.85"/><circle cx="67.8" cy="129.1" r="1.85"/><circle cx="84.7" cy="129.7" r="1.85"/><circle cx="86.5" cy="132.8" r="1.85"/><circle cx="101.4" cy="127.8" r="1.85"/><circle cx="47.0" cy="135.2" r="1.85"/><circle cx="51.3" cy="133.6" r="1.85"/><circle cx="76.3" cy="133.1" r="1.85"/><circle cx="64.9" cy="135.2" r="1.85"/><circle cx="66.8" cy="137.1" r="1.85"/><circle cx="89.9" cy="136.8" r="1.85"/><circle cx="97.1" cy="138.9" r="1.85"/><circle cx="84.7" cy="140.2" r="1.85"/><circle cx="91.5" cy="145.5" r="1.85"/><circle cx="124.7" cy="38.9" r="1.85"/><circle cx="123.5" cy="51.4" r="1.85"/><circle cx="56.0" cy="66.0" r="1.85"/><circle cx="46.1" cy="77.0" r="1.85"/><circle cx="72.9" cy="74.9" r="1.85"/><circle cx="78.3" cy="78.8" r="1.85"/><circle cx="57.2" cy="79.6" r="1.85"/><circle cx="91.9" cy="73.6" r="1.85"/><circle cx="78.3" cy="91.8" r="1.85"/><circle cx="96.2" cy="90.6" r="1.85"/><circle cx="98.9" cy="94.0" r="1.85"/><circle cx="72.9" cy="95.9" r="1.85"/><circle cx="89.9" cy="97.4" r="1.85"/><circle cx="84.4" cy="99.0" r="1.85"/><circle cx="121.8" cy="68.1" r="1.85"/><circle cx="127.3" cy="78.2" r="1.85"/><circle cx="133.5" cy="76.7" r="1.85"/><circle cx="145.0" cy="76.1" r="1.85"/><circle cx="129.4" cy="85.0" r="1.85"/><circle cx="126.1" cy="94.7" r="1.85"/><circle cx="123.6" cy="97.5" r="1.85"/><circle cx="140.9" cy="95.3" r="1.85"/><circle cx="150.0" cy="95.9" r="1.85"/><circle cx="156.8" cy="94.0" r="1.85"/><circle cx="115.8" cy="102.5" r="1.85"/><circle cx="124.9" cy="100.6" r="1.85"/><circle cx="124.9" cy="104.9" r="1.85"/><circle cx="134.8" cy="103.5" r="1.85"/><circle cx="137.2" cy="105.6" r="1.85"/><circle cx="140.3" cy="102.5" r="1.85"/><circle cx="142.2" cy="107.4" r="1.85"/><circle cx="125.5" cy="109.3" r="1.85"/><circle cx="109.7" cy="110.1" r="1.85"/><circle cx="103.5" cy="109.3" r="1.85"/><circle cx="104.2" cy="114.6" r="1.85"/><circle cx="120.5" cy="112.1" r="1.85"/><circle cx="117.1" cy="115.5" r="1.85"/><circle cx="143.4" cy="112.4" r="1.85"/><circle cx="147.5" cy="112.1" r="1.85"/><circle cx="152.7" cy="113.4" r="1.85"/><circle cx="148.7" cy="116.7" r="1.85"/><circle cx="137.2" cy="117.9" r="1.85"/><circle cx="126.7" cy="118.5" r="1.85"/><circle cx="119.3" cy="118.5" r="1.85"/><circle cx="118.7" cy="120.4" r="1.85"/><circle cx="138.5" cy="122.3" r="1.85"/><circle cx="124.0" cy="124.1" r="1.85"/><circle cx="133.9" cy="125.3" r="1.85"/><circle cx="147.1" cy="124.5" r="1.85"/><circle cx="103.2" cy="127.2" r="1.85"/><circle cx="129.2" cy="129.3" r="1.85"/><circle cx="132.7" cy="131.9" r="1.85"/><circle cx="124.3" cy="131.5" r="1.85"/><circle cx="139.7" cy="129.1" r="1.85"/><circle cx="141.6" cy="128.4" r="1.85"/><circle cx="144.7" cy="133.1" r="1.85"/><circle cx="149.0" cy="132.8" r="1.85"/><circle cx="153.9" cy="133.4" r="1.85"/><circle cx="107.9" cy="133.4" r="1.85"/><circle cx="108.8" cy="135.2" r="1.85"/><circle cx="117.8" cy="136.7" r="1.85"/><circle cx="149.6" cy="136.7" r="1.85"/><circle cx="154.5" cy="137.1" r="1.85"/><circle cx="151.5" cy="138.3" r="1.85"/><circle cx="127.3" cy="139.6" r="1.85"/><circle cx="130.4" cy="140.2" r="1.85"/><circle cx="134.8" cy="140.2" r="1.85"/><circle cx="137.9" cy="138.9" r="1.85"/><circle cx="141.6" cy="139.6" r="1.85"/><circle cx="120.5" cy="143.3" r="1.85"/><circle cx="114.4" cy="145.5" r="1.85"/><circle cx="144.0" cy="143.5" r="1.85"/><circle cx="151.5" cy="144.3" r="1.85"/><circle cx="131.7" cy="146.4" r="1.85"/><circle cx="135.4" cy="146.4" r="1.85"/><circle cx="146.5" cy="147.0" r="1.85"/><circle cx="110.0" cy="147.6" r="1.85"/><circle cx="73.6" cy="151.5" r="1.85"/><circle cx="80.4" cy="160.1" r="1.85"/><circle cx="83.5" cy="159.4" r="1.85"/><circle cx="89.6" cy="163.5" r="1.85"/><circle cx="88.4" cy="165.3" r="1.85"/><circle cx="59.3" cy="165.3" r="1.85"/><circle cx="69.2" cy="163.5" r="1.85"/><circle cx="70.5" cy="163.5" r="1.85"/><circle cx="63.7" cy="167.2" r="1.85"/><circle cx="64.3" cy="170.3" r="1.85"/><circle cx="64.3" cy="172.1" r="1.85"/><circle cx="70.5" cy="169.6" r="1.85"/><circle cx="73.6" cy="171.5" r="1.85"/><circle cx="75.4" cy="174.0" r="1.85"/><circle cx="76.7" cy="175.0" r="1.85"/><circle cx="84.1" cy="170.3" r="1.85"/><circle cx="97.7" cy="172.1" r="1.85"/><circle cx="101.4" cy="174.6" r="1.85"/><circle cx="66.8" cy="175.4" r="1.85"/><circle cx="57.2" cy="178.3" r="1.85"/><circle cx="68.0" cy="182.6" r="1.85"/><circle cx="84.1" cy="183.9" r="1.85"/><circle cx="100.1" cy="178.9" r="1.85"/><circle cx="66.8" cy="186.9" r="1.85"/><circle cx="66.8" cy="188.6" r="1.85"/><circle cx="53.2" cy="188.4" r="1.85"/><circle cx="47.6" cy="191.9" r="1.85"/><circle cx="74.2" cy="190.0" r="1.85"/><circle cx="79.7" cy="188.8" r="1.85"/><circle cx="78.5" cy="191.9" r="1.85"/><circle cx="84.7" cy="194.4" r="1.85"/><circle cx="91.5" cy="194.7" r="1.85"/><circle cx="110.0" cy="149.0" r="1.85"/><circle cx="109.4" cy="153.2" r="1.85"/><circle cx="123.0" cy="153.6" r="1.85"/><circle cx="131.7" cy="156.7" r="1.85"/><circle cx="139.1" cy="149.9" r="1.85"/><circle cx="138.5" cy="153.6" r="1.85"/><circle cx="142.8" cy="152.9" r="1.85"/><circle cx="145.3" cy="154.8" r="1.85"/><circle cx="144.7" cy="157.3" r="1.85"/><circle cx="147.1" cy="149.2" r="1.85"/><circle cx="152.7" cy="149.5" r="1.85"/><circle cx="113.7" cy="157.9" r="1.85"/><circle cx="115.6" cy="161.0" r="1.85"/><circle cx="135.4" cy="159.7" r="1.85"/><circle cx="137.9" cy="158.9" r="1.85"/><circle cx="145.0" cy="163.5" r="1.85"/><circle cx="150.8" cy="163.5" r="1.85"/><circle cx="110.7" cy="165.3" r="1.85"/><circle cx="137.9" cy="168.4" r="1.85"/><circle cx="123.0" cy="169.6" r="1.85"/><circle cx="141.6" cy="170.9" r="1.85"/><circle cx="139.1" cy="171.5" r="1.85"/><circle cx="134.8" cy="173.3" r="1.85"/><circle cx="132.3" cy="172.1" r="1.85"/><circle cx="118.1" cy="173.3" r="1.85"/><circle cx="102.6" cy="174.6" r="1.85"/><circle cx="147.7" cy="174.0" r="1.85"/><circle cx="147.1" cy="176.4" r="1.85"/><circle cx="152.7" cy="174.0" r="1.85"/><circle cx="155.2" cy="175.8" r="1.85"/><circle cx="156.4" cy="178.3" r="1.85"/><circle cx="118.1" cy="177.7" r="1.85"/><circle cx="135.4" cy="178.3" r="1.85"/><circle cx="138.5" cy="178.3" r="1.85"/><circle cx="142.8" cy="177.7" r="1.85"/><circle cx="122.4" cy="180.8" r="1.85"/><circle cx="141.6" cy="181.4" r="1.85"/><circle cx="144.7" cy="181.4" r="1.85"/><circle cx="131.1" cy="182.0" r="1.85"/><circle cx="139.7" cy="183.9" r="1.85"/><circle cx="137.2" cy="186.3" r="1.85"/><circle cx="117.5" cy="185.1" r="1.85"/><circle cx="110.7" cy="186.9" r="1.85"/><circle cx="115.0" cy="186.3" r="1.85"/><circle cx="143.4" cy="188.2" r="1.85"/><circle cx="149.6" cy="188.2" r="1.85"/><circle cx="103.9" cy="189.4" r="1.85"/><circle cx="104.5" cy="191.9" r="1.85"/><circle cx="116.2" cy="193.1" r="1.85"/><circle cx="131.1" cy="192.5" r="1.85"/><circle cx="137.9" cy="191.3" r="1.85"/><circle cx="134.8" cy="194.4" r="1.85"/><circle cx="120.5" cy="195.0" r="1.85"/><circle cx="56.9" cy="200.3" r="1.85"/><circle cx="56.5" cy="202.2" r="1.85"/><circle cx="56.3" cy="204.4" r="1.85"/><circle cx="68.4" cy="198.2" r="1.85"/><circle cx="81.6" cy="201.2" r="1.85"/><circle cx="82.2" cy="202.8" r="1.85"/><circle cx="94.2" cy="200.7" r="1.85"/><circle cx="90.3" cy="206.5" r="1.85"/><circle cx="98.9" cy="207.7" r="1.85"/><circle cx="77.0" cy="209.6" r="1.85"/><circle cx="92.1" cy="211.5" r="1.85"/><circle cx="54.4" cy="213.3" r="1.85"/><circle cx="62.7" cy="213.3" r="1.85"/><circle cx="62.2" cy="215.5" r="1.85"/><circle cx="70.5" cy="215.8" r="1.85"/><circle cx="71.7" cy="218.0" r="1.85"/><circle cx="87.2" cy="215.8" r="1.85"/><circle cx="101.4" cy="216.4" r="1.85"/><circle cx="100.1" cy="218.3" r="1.85"/><circle cx="95.8" cy="221.3" r="1.85"/><circle cx="59.7" cy="223.2" r="1.85"/><circle cx="71.1" cy="225.7" r="1.85"/><circle cx="73.6" cy="224.7" r="1.85"/><circle cx="85.9" cy="228.1" r="1.85"/><circle cx="87.2" cy="226.3" r="1.85"/><circle cx="92.1" cy="228.4" r="1.85"/><circle cx="95.6" cy="227.5" r="1.85"/><circle cx="55.3" cy="228.4" r="1.85"/><circle cx="64.0" cy="228.8" r="1.85"/><circle cx="46.1" cy="234.3" r="1.85"/><circle cx="64.3" cy="234.9" r="1.85"/><circle cx="87.2" cy="235.3" r="1.85"/><circle cx="94.6" cy="237.8" r="1.85"/><circle cx="57.5" cy="240.3" r="1.85"/><circle cx="63.1" cy="239.0" r="1.85"/><circle cx="89.6" cy="239.9" r="1.85"/><circle cx="69.9" cy="242.0" r="1.85"/><circle cx="79.7" cy="243.6" r="1.85"/><circle cx="100.8" cy="198.5" r="1.85"/><circle cx="90.9" cy="238.7" r="1.85"/><circle cx="120.5" cy="196.0" r="1.85"/><circle cx="128.6" cy="198.2" r="1.85"/><circle cx="132.3" cy="197.9" r="1.85"/><circle cx="103.9" cy="200.9" r="1.85"/><circle cx="107.6" cy="201.2" r="1.85"/><circle cx="105.5" cy="205.3" r="1.85"/><circle cx="111.6" cy="204.9" r="1.85"/><circle cx="142.8" cy="201.6" r="1.85"/><circle cx="149.6" cy="202.8" r="1.85"/><circle cx="154.5" cy="204.7" r="1.85"/><circle cx="133.5" cy="205.3" r="1.85"/><circle cx="137.9" cy="204.7" r="1.85"/><circle cx="143.4" cy="206.5" r="1.85"/><circle cx="125.5" cy="207.1" r="1.85"/><circle cx="134.8" cy="209.0" r="1.85"/><circle cx="149.0" cy="208.4" r="1.85"/><circle cx="148.4" cy="210.8" r="1.85"/><circle cx="139.7" cy="210.6" r="1.85"/><circle cx="115.0" cy="212.1" r="1.85"/><circle cx="126.1" cy="211.8" r="1.85"/><circle cx="132.3" cy="212.7" r="1.85"/><circle cx="146.5" cy="213.3" r="1.85"/><circle cx="152.1" cy="213.3" r="1.85"/><circle cx="160.1" cy="212.1" r="1.85"/><circle cx="121.2" cy="215.2" r="1.85"/><circle cx="108.2" cy="215.8" r="1.85"/><circle cx="131.1" cy="215.8" r="1.85"/><circle cx="139.1" cy="215.2" r="1.85"/><circle cx="141.6" cy="217.6" r="1.85"/><circle cx="132.3" cy="218.9" r="1.85"/><circle cx="155.8" cy="219.5" r="1.85"/><circle cx="134.8" cy="220.7" r="1.85"/><circle cx="123.6" cy="220.7" r="1.85"/><circle cx="139.1" cy="222.6" r="1.85"/><circle cx="142.8" cy="222.0" r="1.85"/><circle cx="144.7" cy="225.1" r="1.85"/><circle cx="152.1" cy="222.6" r="1.85"/><circle cx="157.0" cy="222.6" r="1.85"/><circle cx="156.4" cy="225.7" r="1.85"/><circle cx="148.4" cy="225.7" r="1.85"/><circle cx="141.6" cy="225.7" r="1.85"/><circle cx="137.2" cy="225.1" r="1.85"/><circle cx="132.9" cy="225.1" r="1.85"/><circle cx="128.6" cy="225.1" r="1.85"/><circle cx="124.9" cy="225.7" r="1.85"/><circle cx="121.8" cy="226.9" r="1.85"/><circle cx="114.4" cy="225.1" r="1.85"/><circle cx="115.0" cy="226.9" r="1.85"/><circle cx="135.4" cy="228.8" r="1.85"/><circle cx="133.5" cy="230.6" r="1.85"/><circle cx="142.8" cy="228.8" r="1.85"/><circle cx="145.9" cy="228.1" r="1.85"/><circle cx="153.3" cy="231.9" r="1.85"/><circle cx="126.1" cy="231.2" r="1.85"/><circle cx="124.9" cy="233.1" r="1.85"/><circle cx="124.3" cy="235.6" r="1.85"/><circle cx="118.7" cy="236.2" r="1.85"/><circle cx="128.6" cy="235.6" r="1.85"/><circle cx="132.3" cy="234.3" r="1.85"/><circle cx="136.0" cy="232.5" r="1.85"/><circle cx="139.1" cy="233.1" r="1.85"/><circle cx="144.0" cy="232.5" r="1.85"/><circle cx="148.4" cy="230.6" r="1.85"/><circle cx="134.1" cy="236.8" r="1.85"/><circle cx="139.1" cy="236.8" r="1.85"/><circle cx="149.6" cy="237.4" r="1.85"/><circle cx="150.8" cy="239.3" r="1.85"/><circle cx="145.3" cy="239.3" r="1.85"/><circle cx="137.2" cy="243.0" r="1.85"/><circle cx="142.8" cy="242.4" r="1.85"/><circle cx="156.4" cy="241.1" r="1.85"/><circle cx="113.7" cy="243.0" r="1.85"/><circle cx="152.7" cy="234.3" r="1.85"/><circle cx="48.6" cy="252.9" r="1.85"/><circle cx="63.4" cy="250.8" r="1.85"/><circle cx="79.7" cy="244.0" r="1.85"/><circle cx="89.9" cy="247.5" r="1.85"/><circle cx="98.9" cy="245.5" r="1.85"/><circle cx="89.0" cy="256.7" r="1.85"/><circle cx="94.8" cy="256.7" r="1.85"/><circle cx="94.3" cy="260.1" r="1.85"/><circle cx="101.4" cy="259.8" r="1.85"/><circle cx="68.9" cy="259.8" r="1.85"/><circle cx="79.1" cy="261.9" r="1.85"/><circle cx="69.0" cy="268.5" r="1.85"/><circle cx="92.1" cy="269.3" r="1.85"/><circle cx="101.4" cy="270.6" r="1.85"/><circle cx="81.0" cy="274.3" r="1.85"/><circle cx="97.4" cy="275.2" r="1.85"/><circle cx="56.6" cy="281.1" r="1.85"/><circle cx="64.0" cy="282.9" r="1.85"/><circle cx="74.8" cy="281.1" r="1.85"/><circle cx="83.8" cy="280.1" r="1.85"/><circle cx="88.4" cy="284.6" r="1.85"/><circle cx="90.3" cy="285.4" r="1.85"/><circle cx="45.4" cy="283.6" r="1.85"/><circle cx="53.8" cy="289.5" r="1.85"/><circle cx="104.5" cy="245.2" r="1.85"/><circle cx="121.8" cy="246.2" r="1.85"/><circle cx="119.9" cy="249.6" r="1.85"/><circle cx="119.3" cy="252.7" r="1.85"/><circle cx="102.6" cy="259.5" r="1.85"/><circle cx="107.6" cy="263.5" r="1.85"/><circle cx="102.6" cy="270.6" r="1.85"/><circle cx="119.9" cy="271.8" r="1.85"/><circle cx="128.6" cy="247.7" r="1.85"/><circle cx="132.3" cy="248.9" r="1.85"/><circle cx="136.0" cy="248.3" r="1.85"/><circle cx="139.1" cy="247.1" r="1.85"/><circle cx="142.8" cy="249.6" r="1.85"/><circle cx="145.9" cy="245.9" r="1.85"/><circle cx="149.6" cy="245.2" r="1.85"/><circle cx="153.9" cy="245.9" r="1.85"/><circle cx="152.1" cy="250.2" r="1.85"/><circle cx="155.2" cy="249.6" r="1.85"/><circle cx="141.6" cy="252.0" r="1.85"/><circle cx="145.3" cy="253.3" r="1.85"/><circle cx="149.6" cy="253.3" r="1.85"/><circle cx="151.5" cy="254.5" r="1.85"/><circle cx="134.1" cy="253.9" r="1.85"/><circle cx="133.5" cy="256.4" r="1.85"/><circle cx="132.3" cy="258.8" r="1.85"/><circle cx="135.4" cy="259.5" r="1.85"/><circle cx="159.5" cy="257.0" r="1.85"/><circle cx="143.4" cy="260.1" r="1.85"/><circle cx="140.3" cy="261.3" r="1.85"/><circle cx="149.0" cy="259.5" r="1.85"/><circle cx="150.8" cy="261.9" r="1.85"/><circle cx="153.9" cy="263.2" r="1.85"/><circle cx="160.7" cy="264.4" r="1.85"/><circle cx="130.4" cy="263.8" r="1.85"/><circle cx="135.4" cy="266.9" r="1.85"/><circle cx="145.3" cy="264.4" r="1.85"/><circle cx="143.4" cy="267.5" r="1.85"/><circle cx="146.5" cy="268.7" r="1.85"/><circle cx="137.9" cy="269.3" r="1.85"/><circle cx="134.1" cy="270.6" r="1.85"/><circle cx="133.5" cy="273.1" r="1.85"/><circle cx="139.1" cy="273.1" r="1.85"/><circle cx="145.9" cy="271.8" r="1.85"/><circle cx="148.4" cy="273.1" r="1.85"/><circle cx="156.4" cy="271.2" r="1.85"/><circle cx="161.6" cy="269.7" r="1.85"/><circle cx="131.7" cy="275.5" r="1.85"/><circle cx="138.5" cy="276.1" r="1.85"/><circle cx="131.1" cy="278.0" r="1.85"/><circle cx="127.3" cy="279.9" r="1.85"/><circle cx="126.1" cy="282.9" r="1.85"/><circle cx="131.7" cy="281.1" r="1.85"/><circle cx="132.3" cy="284.2" r="1.85"/><circle cx="135.4" cy="284.8" r="1.85"/><circle cx="139.1" cy="283.6" r="1.85"/><circle cx="142.8" cy="284.8" r="1.85"/><circle cx="146.5" cy="278.6" r="1.85"/><circle cx="145.9" cy="281.7" r="1.85"/><circle cx="152.7" cy="276.8" r="1.85"/><circle cx="156.4" cy="278.0" r="1.85"/><circle cx="152.1" cy="280.5" r="1.85"/><circle cx="155.2" cy="284.8" r="1.85"/><circle cx="145.3" cy="286.7" r="1.85"/><circle cx="148.4" cy="287.3" r="1.85"/><circle cx="150.8" cy="289.1" r="1.85"/><circle cx="146.5" cy="289.7" r="1.85"/><circle cx="157.0" cy="287.9" r="1.85"/><circle cx="160.1" cy="290.4" r="1.85"/><circle cx="153.9" cy="291.0" r="1.85"/><circle cx="92.7" cy="296.7" r="1.85"/><circle cx="71.5" cy="306.2" r="1.85"/><circle cx="45.7" cy="333.2" r="1.85"/><circle cx="115.0" cy="294.2" r="1.85"/><circle cx="125.5" cy="294.2" r="1.85"/><circle cx="128.6" cy="296.7" r="1.85"/><circle cx="134.8" cy="294.5" r="1.85"/><circle cx="137.2" cy="293.2" r="1.85"/><circle cx="140.3" cy="293.9" r="1.85"/><circle cx="139.1" cy="296.9" r="1.85"/><circle cx="142.8" cy="297.6" r="1.85"/><circle cx="134.8" cy="298.8" r="1.85"/><circle cx="145.9" cy="297.6" r="1.85"/><circle cx="151.5" cy="295.7" r="1.85"/><circle cx="153.3" cy="299.4" r="1.85"/><circle cx="158.9" cy="292.6" r="1.85"/><circle cx="155.2" cy="292.6" r="1.85"/><circle cx="149.0" cy="301.9" r="1.85"/><circle cx="144.7" cy="301.9" r="1.85"/><circle cx="152.1" cy="304.4" r="1.85"/><circle cx="128.6" cy="301.3" r="1.85"/><circle cx="117.1" cy="303.4" r="1.85"/><circle cx="132.9" cy="304.1" r="1.85"/><circle cx="136.0" cy="304.1" r="1.85"/><circle cx="139.7" cy="306.2" r="1.85"/><circle cx="143.4" cy="310.5" r="1.85"/><circle cx="147.1" cy="310.5" r="1.85"/><circle cx="144.7" cy="312.4" r="1.85"/><circle cx="134.8" cy="312.8" r="1.85"/><circle cx="139.1" cy="313.0" r="1.85"/><circle cx="147.1" cy="313.6" r="1.85"/><circle cx="152.1" cy="314.9" r="1.85"/><circle cx="153.3" cy="316.7" r="1.85"/><circle cx="151.5" cy="319.2" r="1.85"/><circle cx="146.5" cy="318.6" r="1.85"/><circle cx="109.7" cy="316.7" r="1.85"/><circle cx="106.3" cy="319.0" r="1.85"/><circle cx="132.9" cy="319.2" r="1.85"/><circle cx="137.2" cy="319.8" r="1.85"/><circle cx="136.0" cy="322.3" r="1.85"/><circle cx="135.4" cy="324.8" r="1.85"/><circle cx="137.9" cy="324.1" r="1.85"/><circle cx="143.4" cy="322.9" r="1.85"/><circle cx="144.7" cy="327.2" r="1.85"/><circle cx="150.2" cy="326.6" r="1.85"/><circle cx="148.4" cy="329.7" r="1.85"/><circle cx="147.7" cy="331.6" r="1.85"/><circle cx="158.3" cy="329.1" r="1.85"/><circle cx="132.3" cy="329.7" r="1.85"/><circle cx="134.8" cy="331.6" r="1.85"/><circle cx="128.0" cy="332.8" r="1.85"/><circle cx="129.8" cy="332.2" r="1.85"/><circle cx="116.2" cy="331.6" r="1.85"/><circle cx="118.7" cy="332.2" r="1.85"/><circle cx="139.1" cy="335.3" r="1.85"/><circle cx="142.2" cy="334.7" r="1.85"/><circle cx="145.9" cy="335.3" r="1.85"/></g>
<text class="ax" x="107.5" y="382.3" text-anchor="middle" textLength="123.6" lengthAdjust="spacingAndGlyphs">Standardized Speed Average</text>
<text class="ax" transform="translate(15.5 166.2) rotate(-90)" text-anchor="middle" textLength="100" lengthAdjust="spacingAndGlyphs">Standardized V/C Ratio</text>
<text class="lt" x="184.8" y="166.0" textLength="86.2" lengthAdjust="spacingAndGlyphs">CrashSeverityLevel</text>
<rect x="184.6" y="171" width="15.4" height="30.6" fill="#f2f2f2"/>
<circle cx="193.2" cy="179.3" r="1.7" fill="#0a0a6a"/><circle cx="193.2" cy="194.6" r="1.7" fill="#fca50a"/>
<text class="ll" transform="translate(206 183.2) scale(0.89 1)">Injury/Fatal</text><text class="ll" transform="translate(206 198.0) scale(0.89 1)">PDO</text>
</g>
</svg>
</body></html>
